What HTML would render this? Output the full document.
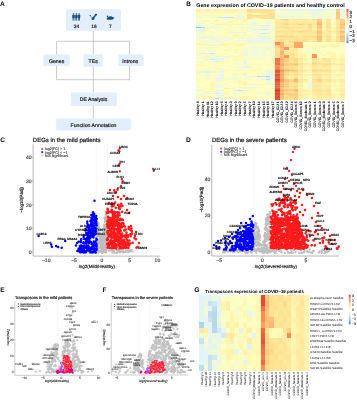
<!DOCTYPE html>
<html><head><meta charset="utf-8"><style>
html,body{margin:0;padding:0;background:#fff;}
svg{display:block;font-family:"Liberation Sans", sans-serif;will-change:transform;}
text{text-rendering:geometricPrecision;}
</style></head><body>
<svg xmlns="http://www.w3.org/2000/svg" width="357" height="400" viewBox="0 0 357 400">
<rect width="357" height="400" fill="#fff"/>
<text x="0.00" y="6.20" font-size="6.6" text-anchor="start" font-weight="bold" fill="#000">A</text>
<path d="M56.6 41.3 H129.6 M56.6 41.3 V54.5 M93.3 30.5 V54.5 M129.6 41.3 V54.5" stroke="#a6a6a6" stroke-width="0.6" fill="none"/>
<path d="M56.6 66 V79.7 H130 M129.6 66 V79.7 M93.3 67 V92.6 M93.3 106 V118.4" stroke="#a6a6a6" stroke-width="0.6" fill="none"/>
<rect x="66" y="9.3" width="55" height="21.5" rx="1.5" fill="#e2effa"/>
<rect x="43.3" y="54.4" width="26.6" height="11.6" rx="1" fill="#e2effa"/>
<rect x="83.5" y="54.3" width="19.3" height="12.5" rx="1" fill="#e2effa"/>
<rect x="118.4" y="54.5" width="25.2" height="11.4" rx="1" fill="#e2effa"/>
<rect x="70.8" y="92.6" width="46" height="13.4" rx="1" fill="#e2effa"/>
<rect x="56.2" y="118.4" width="74.6" height="11.9" rx="1" fill="#e2effa"/>
<text x="56.60" y="62.60" font-size="5.2" text-anchor="middle" fill="#222" stroke="#222" stroke-width="0.20">Genes</text>
<text x="93.20" y="62.60" font-size="5.2" text-anchor="middle" fill="#222" stroke="#222" stroke-width="0.20">TEs</text>
<text x="130.30" y="62.60" font-size="5.2" text-anchor="middle" fill="#222" stroke="#222" stroke-width="0.20">Introns</text>
<text x="93.50" y="101.40" font-size="5.2" text-anchor="middle" fill="#222" stroke="#222" stroke-width="0.20">DE Analysis</text>
<text x="93.50" y="127.00" font-size="5.2" text-anchor="middle" fill="#222" stroke="#222" stroke-width="0.20">Function Annotation</text>
<circle cx="73.5" cy="13.9" r="0.75" fill="#1d4f7a"/>
<rect x="72.25" y="14.8" width="2.5" height="3.5" rx="0.7" fill="#1d4f7a"/>
<rect x="72.65" y="17.6" width="0.75" height="3.0" fill="#1d4f7a"/><rect x="73.60" y="17.6" width="0.75" height="3.0" fill="#1d4f7a"/>
<circle cx="76.3" cy="13.9" r="0.75" fill="#1d4f7a"/>
<rect x="75.05" y="14.8" width="2.5" height="3.5" rx="0.7" fill="#1d4f7a"/>
<rect x="75.45" y="17.6" width="0.75" height="3.0" fill="#1d4f7a"/><rect x="76.40" y="17.6" width="0.75" height="3.0" fill="#1d4f7a"/>
<circle cx="79.0" cy="13.9" r="0.75" fill="#1d4f7a"/>
<rect x="77.75" y="14.8" width="2.5" height="3.5" rx="0.7" fill="#1d4f7a"/>
<rect x="78.15" y="17.6" width="0.75" height="3.0" fill="#1d4f7a"/><rect x="79.10" y="17.6" width="0.75" height="3.0" fill="#1d4f7a"/>
<ellipse cx="93.1" cy="18.5" rx="1.7" ry="1.3" transform="rotate(-45 93.1 18.5)" fill="#1d4f7a"/>
<path d="M93.6 17.6L95.6 15.2" stroke="#1d4f7a" stroke-width="1.5" stroke-linecap="round"/>
<ellipse cx="95.9" cy="14.8" rx="1.25" ry="0.95" transform="rotate(-40 95.9 14.8)" fill="#1d4f7a"/>
<path d="M90.2 15.6L91.8 17.6" stroke="#1d4f7a" stroke-width="0.7" stroke-linecap="round" opacity="0.8"/>
<circle cx="90.2" cy="15.5" r="0.6" fill="#1d4f7a"/>
<path d="M106.6 19.6C106.4 17.6 108.6 16.2 111.2 16.3L114.6 17.7L112.6 19.4C110.6 19.9 108.4 19.9 106.6 19.6Z" fill="#1d4f7a"/>
<circle cx="107.6" cy="16.4" r="0.8" fill="#1d4f7a"/>
<text x="76.40" y="27.90" font-size="4.8" text-anchor="middle" fill="#222" stroke="#222" stroke-width="0.19">34</text>
<text x="93.90" y="27.90" font-size="4.8" text-anchor="middle" fill="#222" stroke="#222" stroke-width="0.19">16</text>
<text x="110.40" y="28.20" font-size="4.8" text-anchor="middle" fill="#222" stroke="#222" stroke-width="0.19">7</text>
<text x="186.20" y="6.20" font-size="6.4" text-anchor="start" font-weight="bold" fill="#000">B</text>
<text x="196.30" y="6.90" font-size="5.3" text-anchor="start" font-weight="bold" fill="#000">Gene expression of COVID−19 patients and healthy control</text>
<g transform="translate(196.00 8.70) scale(4.6562 1.0011)" shape-rendering="crispEdges">
<path fill="#fff3ac" d="M0 0h1v1h-1zM2 0h1v1h-1zM4 1h1v1h-1zM6 1h1v1h-1zM7 1h1v1h-1zM8 1h1v1h-1zM10 1h1v1h-1zM0 2h1v1h-1zM8 2h1v1h-1zM4 11h1v1h-1zM22 11h1v1h-1zM4 12h1v1h-1zM27 14h1v1h-1zM4 15h1v1h-1zM29 18h1v1h-1zM29 19h1v1h-1zM17 20h1v1h-1zM21 20h1v1h-1zM22 20h1v1h-1zM29 21h1v1h-1zM29 23h1v1h-1zM27 24h1v1h-1zM29 27h1v1h-1zM27 29h1v1h-1zM5 35h1v1h-1zM6 35h1v1h-1zM8 35h1v1h-1zM9 35h1v1h-1zM30 36h1v1h-1zM22 43h1v1h-1zM22 45h1v1h-1zM22 46h1v1h-1zM22 47h1v1h-1zM23 50h1v1h-1zM26 51h1v1h-1zM30 54h1v1h-1zM29 56h1v1h-1zM30 56h1v1h-1zM24 57h1v1h-1zM31 58h1v1h-1zM30 61h1v1h-1zM29 62h1v1h-1zM31 63h1v1h-1zM23 65h1v1h-1zM31 65h1v1h-1zM30 66h1v1h-1zM31 66h1v1h-1zM22 67h1v1h-1zM30 71h1v1h-1zM30 72h1v1h-1zM29 73h1v1h-1zM10 74h1v1h-1zM22 74h1v1h-1zM31 74h1v1h-1zM27 75h1v1h-1zM27 76h1v1h-1zM31 76h1v1h-1zM27 78h1v1h-1zM6 79h1v1h-1zM22 79h1v1h-1zM31 79h1v1h-1zM23 80h1v1h-1zM30 80h1v1h-1zM30 81h1v1h-1zM22 82h1v1h-1zM24 84h1v1h-1zM25 86h1v1h-1zM29 86h1v1h-1zM10 87h1v1h-1zM31 87h1v1h-1zM25 88h1v1h-1zM27 88h1v1h-1zM25 89h1v1h-1zM22 90h1v1h-1zM31 90h1v1h-1z"/>
<path fill="#fffab7" d="M1 0h1v1h-1zM3 0h1v1h-1zM1 3h1v1h-1zM2 3h1v1h-1zM6 3h1v1h-1zM9 3h1v1h-1zM12 4h1v1h-1zM13 4h1v1h-1zM2 6h1v1h-1zM4 6h1v1h-1zM5 6h1v1h-1zM8 6h1v1h-1zM10 6h1v1h-1zM4 9h1v1h-1zM4 10h1v1h-1zM8 10h1v1h-1zM29 10h1v1h-1zM2 11h1v1h-1zM7 11h1v1h-1zM27 12h1v1h-1zM4 13h1v1h-1zM7 13h1v1h-1zM29 13h1v1h-1zM2 15h1v1h-1zM6 15h1v1h-1zM4 16h1v1h-1zM5 16h1v1h-1zM6 16h1v1h-1zM29 17h1v1h-1zM2 20h1v1h-1zM6 20h1v1h-1zM6 23h1v1h-1zM6 24h1v1h-1zM10 24h1v1h-1zM3 25h1v1h-1zM29 25h1v1h-1zM1 26h1v1h-1zM29 26h1v1h-1zM10 28h1v1h-1zM0 33h1v1h-1zM1 33h1v1h-1zM6 33h1v1h-1zM7 33h1v1h-1zM29 33h1v1h-1zM0 34h1v1h-1zM1 34h1v1h-1zM5 34h1v1h-1zM6 34h1v1h-1zM7 34h1v1h-1zM8 34h1v1h-1zM9 34h1v1h-1zM10 34h1v1h-1zM25 35h1v1h-1zM0 36h1v1h-1zM4 36h1v1h-1zM7 36h1v1h-1zM10 36h1v1h-1zM26 36h1v1h-1zM31 36h1v1h-1zM5 37h1v1h-1zM8 37h1v1h-1zM23 37h1v1h-1zM24 37h1v1h-1zM26 37h1v1h-1zM28 37h1v1h-1zM30 38h1v1h-1zM6 40h1v1h-1zM22 40h1v1h-1zM6 41h1v1h-1zM8 41h1v1h-1zM28 42h1v1h-1zM8 43h1v1h-1zM9 43h1v1h-1zM23 43h1v1h-1zM25 43h1v1h-1zM26 43h1v1h-1zM29 43h1v1h-1zM31 43h1v1h-1zM23 44h1v1h-1zM26 44h1v1h-1zM28 44h1v1h-1zM29 44h1v1h-1zM4 45h1v1h-1zM6 45h1v1h-1zM26 45h1v1h-1zM27 45h1v1h-1zM28 45h1v1h-1zM31 46h1v1h-1zM9 47h1v1h-1zM29 47h1v1h-1zM24 48h1v1h-1zM27 48h1v1h-1zM31 48h1v1h-1zM9 49h1v1h-1zM8 50h1v1h-1zM24 50h1v1h-1zM6 51h1v1h-1zM8 51h1v1h-1zM24 52h1v1h-1zM5 53h1v1h-1zM6 53h1v1h-1zM16 53h1v1h-1zM23 53h1v1h-1zM0 55h1v1h-1zM11 55h1v1h-1zM13 55h1v1h-1zM0 56h1v1h-1zM1 56h1v1h-1zM4 56h1v1h-1zM11 56h1v1h-1zM13 56h1v1h-1zM16 56h1v1h-1zM24 58h1v1h-1zM29 58h1v1h-1zM30 58h1v1h-1zM9 59h1v1h-1zM13 60h1v1h-1zM0 61h1v1h-1zM1 61h1v1h-1zM3 61h1v1h-1zM7 61h1v1h-1zM12 61h1v1h-1zM13 61h1v1h-1zM30 62h1v1h-1zM3 67h1v1h-1zM29 67h1v1h-1zM31 67h1v1h-1zM24 68h1v1h-1zM0 72h1v1h-1zM1 72h1v1h-1zM6 72h1v1h-1zM3 73h1v1h-1zM8 73h1v1h-1zM9 74h1v1h-1zM30 75h1v1h-1zM10 76h1v1h-1zM29 76h1v1h-1zM3 77h1v1h-1zM23 77h1v1h-1zM6 78h1v1h-1zM30 78h1v1h-1zM2 79h1v1h-1zM11 79h1v1h-1zM30 79h1v1h-1zM6 80h1v1h-1zM29 80h1v1h-1zM6 82h1v1h-1zM12 82h1v1h-1zM14 82h1v1h-1zM16 82h1v1h-1zM29 82h1v1h-1zM6 83h1v1h-1zM24 83h1v1h-1zM29 83h1v1h-1zM6 84h1v1h-1zM6 85h1v1h-1zM2 87h1v1h-1zM3 87h1v1h-1zM6 87h1v1h-1zM9 87h1v1h-1zM11 87h1v1h-1zM12 87h1v1h-1zM24 87h1v1h-1zM30 87h1v1h-1zM6 88h1v1h-1zM12 88h1v1h-1zM23 88h1v1h-1zM29 88h1v1h-1zM1 90h1v1h-1zM11 90h1v1h-1zM29 90h1v1h-1z"/>
<path fill="#fff5b0" d="M4 0h1v1h-1zM7 0h1v1h-1zM8 0h1v1h-1zM10 0h1v1h-1zM3 1h1v1h-1zM9 1h1v1h-1zM2 2h1v1h-1zM4 2h1v1h-1zM6 2h1v1h-1zM0 3h1v1h-1zM8 3h1v1h-1zM10 10h1v1h-1zM27 10h1v1h-1zM10 11h1v1h-1zM10 12h1v1h-1zM27 13h1v1h-1zM5 15h1v1h-1zM8 15h1v1h-1zM9 15h1v1h-1zM29 15h1v1h-1zM27 17h1v1h-1zM27 18h1v1h-1zM25 20h1v1h-1zM27 21h1v1h-1zM8 26h1v1h-1zM8 28h1v1h-1zM29 29h1v1h-1zM29 31h1v1h-1zM0 35h1v1h-1zM1 35h1v1h-1zM2 35h1v1h-1zM3 35h1v1h-1zM7 35h1v1h-1zM10 35h1v1h-1zM30 35h1v1h-1zM9 36h1v1h-1zM25 36h1v1h-1zM29 36h1v1h-1zM27 37h1v1h-1zM29 37h1v1h-1zM30 37h1v1h-1zM2 47h1v1h-1zM29 48h1v1h-1zM23 49h1v1h-1zM30 49h1v1h-1zM30 50h1v1h-1zM23 51h1v1h-1zM29 51h1v1h-1zM23 52h1v1h-1zM29 52h1v1h-1zM31 53h1v1h-1zM24 54h1v1h-1zM23 56h1v1h-1zM24 56h1v1h-1zM23 57h1v1h-1zM30 57h1v1h-1zM30 59h1v1h-1zM23 60h1v1h-1zM24 60h1v1h-1zM24 62h1v1h-1zM23 63h1v1h-1zM24 63h1v1h-1zM29 63h1v1h-1zM22 64h1v1h-1zM28 64h1v1h-1zM24 65h1v1h-1zM30 65h1v1h-1zM23 66h1v1h-1zM24 66h1v1h-1zM29 66h1v1h-1zM27 67h1v1h-1zM22 69h1v1h-1zM27 69h1v1h-1zM9 72h1v1h-1zM10 73h1v1h-1zM28 74h1v1h-1zM29 77h1v1h-1zM30 77h1v1h-1zM22 78h1v1h-1zM31 78h1v1h-1zM3 79h1v1h-1zM29 81h1v1h-1zM2 82h1v1h-1zM23 82h1v1h-1zM24 82h1v1h-1zM22 83h1v1h-1zM31 83h1v1h-1zM23 84h1v1h-1zM24 85h1v1h-1zM30 85h1v1h-1zM23 86h1v1h-1zM7 87h1v1h-1zM25 87h1v1h-1zM29 87h1v1h-1zM7 88h1v1h-1zM27 89h1v1h-1zM31 89h1v1h-1z"/>
<path fill="#fff8b4" d="M5 0h1v1h-1zM6 0h1v1h-1zM9 0h1v1h-1zM1 1h1v1h-1zM5 1h1v1h-1zM1 2h1v1h-1zM3 2h1v1h-1zM5 2h1v1h-1zM7 2h1v1h-1zM9 2h1v1h-1zM10 2h1v1h-1zM3 3h1v1h-1zM4 3h1v1h-1zM5 3h1v1h-1zM7 3h1v1h-1zM10 3h1v1h-1zM11 4h1v1h-1zM12 5h1v1h-1zM13 5h1v1h-1zM14 5h1v1h-1zM8 9h1v1h-1zM10 9h1v1h-1zM12 9h1v1h-1zM13 9h1v1h-1zM8 11h1v1h-1zM27 11h1v1h-1zM2 12h1v1h-1zM7 12h1v1h-1zM29 14h1v1h-1zM7 15h1v1h-1zM10 15h1v1h-1zM27 16h1v1h-1zM27 19h1v1h-1zM29 20h1v1h-1zM29 24h1v1h-1zM8 25h1v1h-1zM10 25h1v1h-1zM10 26h1v1h-1zM29 28h1v1h-1zM27 31h1v1h-1zM8 33h1v1h-1zM30 34h1v1h-1zM4 35h1v1h-1zM29 35h1v1h-1zM3 36h1v1h-1zM5 36h1v1h-1zM6 36h1v1h-1zM8 36h1v1h-1zM23 36h1v1h-1zM27 36h1v1h-1zM28 36h1v1h-1zM6 37h1v1h-1zM9 37h1v1h-1zM25 37h1v1h-1zM25 38h1v1h-1zM26 38h1v1h-1zM27 38h1v1h-1zM29 38h1v1h-1zM8 40h1v1h-1zM22 41h1v1h-1zM8 42h1v1h-1zM22 42h1v1h-1zM28 43h1v1h-1zM22 44h1v1h-1zM2 45h1v1h-1zM23 45h1v1h-1zM29 45h1v1h-1zM31 45h1v1h-1zM23 46h1v1h-1zM27 46h1v1h-1zM29 46h1v1h-1zM8 47h1v1h-1zM31 47h1v1h-1zM22 48h1v1h-1zM8 49h1v1h-1zM24 49h1v1h-1zM2 51h1v1h-1zM5 51h1v1h-1zM30 51h1v1h-1zM29 53h1v1h-1zM4 57h1v1h-1zM29 57h1v1h-1zM23 58h1v1h-1zM23 59h1v1h-1zM24 59h1v1h-1zM29 59h1v1h-1zM29 60h1v1h-1zM30 60h1v1h-1zM6 61h1v1h-1zM8 61h1v1h-1zM9 61h1v1h-1zM11 61h1v1h-1zM27 64h1v1h-1zM29 65h1v1h-1zM23 67h1v1h-1zM30 67h1v1h-1zM23 68h1v1h-1zM29 68h1v1h-1zM30 68h1v1h-1zM31 68h1v1h-1zM9 71h1v1h-1zM10 72h1v1h-1zM9 73h1v1h-1zM23 73h1v1h-1zM30 73h1v1h-1zM3 74h1v1h-1zM27 74h1v1h-1zM3 75h1v1h-1zM9 75h1v1h-1zM10 75h1v1h-1zM29 75h1v1h-1zM3 76h1v1h-1zM3 78h1v1h-1zM7 79h1v1h-1zM10 79h1v1h-1zM3 82h1v1h-1zM10 82h1v1h-1zM23 83h1v1h-1zM29 84h1v1h-1zM30 84h1v1h-1zM24 86h1v1h-1zM1 87h1v1h-1zM23 87h1v1h-1zM2 88h1v1h-1zM9 88h1v1h-1zM11 88h1v1h-1zM10 89h1v1h-1zM10 90h1v1h-1z"/>
<path fill="#fedd8e" d="M11 0h1v1h-1zM15 1h1v1h-1zM16 4h1v1h-1zM16 5h1v1h-1zM11 6h1v1h-1zM12 6h1v1h-1zM13 6h1v1h-1zM14 6h1v1h-1zM16 6h1v1h-1zM16 9h1v1h-1zM24 16h1v1h-1zM24 17h1v1h-1zM24 18h1v1h-1zM26 20h1v1h-1zM31 20h1v1h-1zM22 22h1v1h-1zM23 22h1v1h-1zM30 22h1v1h-1zM19 27h1v1h-1zM21 27h1v1h-1zM23 27h1v1h-1zM24 27h1v1h-1zM25 27h1v1h-1zM28 27h1v1h-1zM18 30h1v1h-1zM21 30h1v1h-1zM17 32h1v1h-1zM23 32h1v1h-1zM20 37h1v1h-1zM17 38h1v1h-1zM17 43h1v1h-1zM17 45h1v1h-1zM17 46h1v1h-1zM21 49h1v1h-1zM20 50h1v1h-1zM21 52h1v1h-1zM25 55h1v1h-1zM28 55h1v1h-1zM19 57h1v1h-1zM20 59h1v1h-1zM21 59h1v1h-1zM20 60h1v1h-1zM27 61h1v1h-1zM28 61h1v1h-1zM21 63h1v1h-1zM21 65h1v1h-1zM21 66h1v1h-1zM21 68h1v1h-1zM21 69h1v1h-1zM20 70h1v1h-1zM25 70h1v1h-1zM26 72h1v1h-1zM21 75h1v1h-1zM21 78h1v1h-1zM19 79h1v1h-1zM21 79h1v1h-1zM19 83h1v1h-1zM19 87h1v1h-1zM19 88h1v1h-1zM20 88h1v1h-1z"/>
<path fill="#fee192" d="M12 0h1v1h-1zM13 0h1v1h-1zM15 0h1v1h-1zM12 1h1v1h-1zM13 1h1v1h-1zM14 1h1v1h-1zM11 2h1v1h-1zM12 2h1v1h-1zM13 2h1v1h-1zM15 2h1v1h-1zM11 3h1v1h-1zM13 3h1v1h-1zM15 4h1v1h-1zM11 5h1v1h-1zM15 5h1v1h-1zM15 6h1v1h-1zM11 7h1v1h-1zM13 7h1v1h-1zM14 7h1v1h-1zM16 7h1v1h-1zM13 8h1v1h-1zM11 9h1v1h-1zM14 9h1v1h-1zM15 9h1v1h-1zM19 14h1v1h-1zM18 15h1v1h-1zM23 15h1v1h-1zM28 15h1v1h-1zM19 18h1v1h-1zM19 19h1v1h-1zM24 19h1v1h-1zM30 19h1v1h-1zM24 21h1v1h-1zM17 22h1v1h-1zM18 22h1v1h-1zM19 22h1v1h-1zM20 22h1v1h-1zM24 22h1v1h-1zM17 23h1v1h-1zM18 23h1v1h-1zM20 23h1v1h-1zM22 23h1v1h-1zM30 23h1v1h-1zM30 27h1v1h-1zM19 28h1v1h-1zM20 28h1v1h-1zM25 28h1v1h-1zM23 29h1v1h-1zM20 30h1v1h-1zM22 30h1v1h-1zM23 30h1v1h-1zM28 30h1v1h-1zM18 31h1v1h-1zM22 32h1v1h-1zM28 32h1v1h-1zM30 32h1v1h-1zM17 39h1v1h-1zM17 41h1v1h-1zM17 42h1v1h-1zM17 44h1v1h-1zM19 45h1v1h-1zM20 45h1v1h-1zM20 49h1v1h-1zM25 50h1v1h-1zM20 52h1v1h-1zM19 53h1v1h-1zM21 53h1v1h-1zM27 54h1v1h-1zM28 54h1v1h-1zM22 55h1v1h-1zM27 55h1v1h-1zM20 57h1v1h-1zM21 57h1v1h-1zM20 58h1v1h-1zM21 60h1v1h-1zM22 61h1v1h-1zM26 61h1v1h-1zM19 66h1v1h-1zM28 70h1v1h-1zM20 73h1v1h-1zM26 73h1v1h-1zM21 74h1v1h-1zM20 77h1v1h-1zM20 79h1v1h-1zM25 81h1v1h-1zM26 81h1v1h-1zM28 81h1v1h-1zM28 85h1v1h-1zM19 86h1v1h-1zM19 89h1v1h-1zM20 89h1v1h-1zM19 90h1v1h-1zM20 90h1v1h-1z"/>
<path fill="#fee496" d="M14 0h1v1h-1zM16 1h1v1h-1zM14 2h1v1h-1zM16 2h1v1h-1zM12 3h1v1h-1zM14 3h1v1h-1zM15 3h1v1h-1zM16 3h1v1h-1zM14 4h1v1h-1zM12 7h1v1h-1zM15 7h1v1h-1zM11 8h1v1h-1zM12 8h1v1h-1zM14 8h1v1h-1zM15 8h1v1h-1zM16 8h1v1h-1zM18 10h1v1h-1zM21 10h1v1h-1zM22 10h1v1h-1zM25 10h1v1h-1zM23 14h1v1h-1zM24 14h1v1h-1zM28 14h1v1h-1zM20 15h1v1h-1zM21 15h1v1h-1zM25 15h1v1h-1zM28 16h1v1h-1zM19 17h1v1h-1zM17 18h1v1h-1zM18 18h1v1h-1zM20 18h1v1h-1zM22 18h1v1h-1zM28 18h1v1h-1zM30 18h1v1h-1zM20 19h1v1h-1zM18 21h1v1h-1zM21 22h1v1h-1zM25 22h1v1h-1zM28 22h1v1h-1zM19 23h1v1h-1zM23 23h1v1h-1zM24 23h1v1h-1zM25 23h1v1h-1zM18 26h1v1h-1zM18 28h1v1h-1zM21 28h1v1h-1zM23 28h1v1h-1zM24 28h1v1h-1zM28 28h1v1h-1zM30 28h1v1h-1zM18 29h1v1h-1zM20 29h1v1h-1zM28 29h1v1h-1zM19 30h1v1h-1zM30 30h1v1h-1zM23 31h1v1h-1zM28 31h1v1h-1zM30 31h1v1h-1zM25 32h1v1h-1zM20 33h1v1h-1zM20 35h1v1h-1zM20 36h1v1h-1zM20 38h1v1h-1zM17 40h1v1h-1zM20 44h1v1h-1zM17 47h1v1h-1zM17 48h1v1h-1zM27 50h1v1h-1zM20 51h1v1h-1zM25 51h1v1h-1zM25 52h1v1h-1zM20 53h1v1h-1zM22 54h1v1h-1zM26 54h1v1h-1zM26 55h1v1h-1zM25 56h1v1h-1zM27 56h1v1h-1zM28 56h1v1h-1zM19 58h1v1h-1zM21 58h1v1h-1zM25 60h1v1h-1zM25 62h1v1h-1zM26 62h1v1h-1zM28 62h1v1h-1zM20 63h1v1h-1zM19 64h1v1h-1zM20 65h1v1h-1zM26 65h1v1h-1zM26 66h1v1h-1zM19 68h1v1h-1zM22 70h1v1h-1zM27 70h1v1h-1zM25 71h1v1h-1zM28 71h1v1h-1zM25 72h1v1h-1zM20 75h1v1h-1zM20 76h1v1h-1zM21 76h1v1h-1zM25 77h1v1h-1zM25 80h1v1h-1zM28 80h1v1h-1zM20 82h1v1h-1zM26 85h1v1h-1z"/>
<path fill="#fee699" d="M16 0h1v1h-1zM23 10h1v1h-1zM28 10h1v1h-1zM30 10h1v1h-1zM19 11h1v1h-1zM19 13h1v1h-1zM23 13h1v1h-1zM24 13h1v1h-1zM28 13h1v1h-1zM18 14h1v1h-1zM21 14h1v1h-1zM22 14h1v1h-1zM30 15h1v1h-1zM18 17h1v1h-1zM28 17h1v1h-1zM30 17h1v1h-1zM22 19h1v1h-1zM20 21h1v1h-1zM23 21h1v1h-1zM30 21h1v1h-1zM21 23h1v1h-1zM28 23h1v1h-1zM30 24h1v1h-1zM19 25h1v1h-1zM20 25h1v1h-1zM30 25h1v1h-1zM19 26h1v1h-1zM20 26h1v1h-1zM28 26h1v1h-1zM30 26h1v1h-1zM22 27h1v1h-1zM17 28h1v1h-1zM19 29h1v1h-1zM21 29h1v1h-1zM22 29h1v1h-1zM24 29h1v1h-1zM30 29h1v1h-1zM17 30h1v1h-1zM24 30h1v1h-1zM25 30h1v1h-1zM17 31h1v1h-1zM20 31h1v1h-1zM21 31h1v1h-1zM22 31h1v1h-1zM19 36h1v1h-1zM19 37h1v1h-1zM21 40h1v1h-1zM19 43h1v1h-1zM20 43h1v1h-1zM21 45h1v1h-1zM20 46h1v1h-1zM20 47h1v1h-1zM20 48h1v1h-1zM22 49h1v1h-1zM27 49h1v1h-1zM22 50h1v1h-1zM28 50h1v1h-1zM27 51h1v1h-1zM28 51h1v1h-1zM28 52h1v1h-1zM22 56h1v1h-1zM27 57h1v1h-1zM26 60h1v1h-1zM28 60h1v1h-1zM22 62h1v1h-1zM27 62h1v1h-1zM25 65h1v1h-1zM20 66h1v1h-1zM25 66h1v1h-1zM21 67h1v1h-1zM26 67h1v1h-1zM26 68h1v1h-1zM22 72h1v1h-1zM28 72h1v1h-1zM25 73h1v1h-1zM20 74h1v1h-1zM26 77h1v1h-1zM28 77h1v1h-1zM20 78h1v1h-1zM26 80h1v1h-1zM27 81h1v1h-1zM26 82h1v1h-1zM28 82h1v1h-1zM20 83h1v1h-1zM26 84h1v1h-1zM28 84h1v1h-1zM31 85h1v1h-1z"/>
<path fill="#eef8df" d="M17 0h1v1h-1zM20 0h1v1h-1zM22 0h1v1h-1zM23 0h1v1h-1zM28 0h1v1h-1zM17 1h1v1h-1zM19 1h1v1h-1zM20 1h1v1h-1zM21 1h1v1h-1zM22 1h1v1h-1zM24 1h1v1h-1zM29 1h1v1h-1zM24 2h1v1h-1zM27 2h1v1h-1zM31 3h1v1h-1zM31 4h1v1h-1zM31 5h1v1h-1zM25 6h1v1h-1zM0 7h1v1h-1zM20 7h1v1h-1zM22 7h1v1h-1zM28 7h1v1h-1zM0 8h1v1h-1zM26 8h1v1h-1zM20 9h1v1h-1zM12 14h1v1h-1zM15 17h1v1h-1zM11 18h1v1h-1zM14 18h1v1h-1zM15 18h1v1h-1zM0 22h1v1h-1zM9 23h1v1h-1zM13 26h1v1h-1zM3 27h1v1h-1zM4 27h1v1h-1zM0 29h1v1h-1zM1 29h1v1h-1zM4 29h1v1h-1zM7 29h1v1h-1zM12 29h1v1h-1zM3 30h1v1h-1zM14 30h1v1h-1zM12 31h1v1h-1zM11 32h1v1h-1zM12 33h1v1h-1zM16 34h1v1h-1zM1 36h1v1h-1zM2 36h1v1h-1zM2 38h1v1h-1zM4 38h1v1h-1zM16 38h1v1h-1zM15 39h1v1h-1zM12 41h1v1h-1zM12 43h1v1h-1zM13 44h1v1h-1zM3 46h1v1h-1zM5 47h1v1h-1zM7 47h1v1h-1zM2 48h1v1h-1zM16 48h1v1h-1zM2 49h1v1h-1zM2 50h1v1h-1zM16 62h1v1h-1zM5 63h1v1h-1zM9 65h1v1h-1zM16 66h1v1h-1zM5 67h1v1h-1zM15 71h1v1h-1zM15 74h1v1h-1zM24 74h1v1h-1zM15 75h1v1h-1zM24 76h1v1h-1zM24 78h1v1h-1zM4 80h1v1h-1zM4 83h1v1h-1zM5 84h1v1h-1zM8 86h1v1h-1zM1 88h1v1h-1zM4 90h1v1h-1z"/>
<path fill="#f0f9da" d="M18 0h1v1h-1zM29 0h1v1h-1zM23 1h1v1h-1zM20 2h1v1h-1zM21 2h1v1h-1zM26 3h1v1h-1zM22 4h1v1h-1zM18 5h1v1h-1zM21 5h1v1h-1zM22 5h1v1h-1zM26 5h1v1h-1zM22 6h1v1h-1zM6 7h1v1h-1zM7 7h1v1h-1zM17 7h1v1h-1zM21 7h1v1h-1zM23 7h1v1h-1zM24 7h1v1h-1zM29 7h1v1h-1zM3 8h1v1h-1zM18 8h1v1h-1zM29 9h1v1h-1zM6 10h1v1h-1zM1 11h1v1h-1zM3 14h1v1h-1zM0 16h1v1h-1zM12 17h1v1h-1zM14 17h1v1h-1zM16 17h1v1h-1zM3 18h1v1h-1zM4 18h1v1h-1zM5 18h1v1h-1zM12 18h1v1h-1zM11 19h1v1h-1zM13 21h1v1h-1zM14 21h1v1h-1zM13 23h1v1h-1zM13 25h1v1h-1zM1 27h1v1h-1zM2 27h1v1h-1zM6 27h1v1h-1zM11 27h1v1h-1zM13 28h1v1h-1zM14 28h1v1h-1zM15 28h1v1h-1zM9 29h1v1h-1zM11 29h1v1h-1zM16 29h1v1h-1zM7 30h1v1h-1zM11 30h1v1h-1zM12 30h1v1h-1zM13 30h1v1h-1zM15 30h1v1h-1zM3 32h1v1h-1zM9 32h1v1h-1zM14 32h1v1h-1zM13 33h1v1h-1zM14 33h1v1h-1zM13 34h1v1h-1zM0 38h1v1h-1zM3 38h1v1h-1zM14 38h1v1h-1zM14 39h1v1h-1zM12 40h1v1h-1zM10 41h1v1h-1zM14 41h1v1h-1zM12 42h1v1h-1zM11 44h1v1h-1zM14 44h1v1h-1zM0 46h1v1h-1zM10 46h1v1h-1zM11 46h1v1h-1zM12 46h1v1h-1zM10 53h1v1h-1zM3 54h1v1h-1zM10 55h1v1h-1zM15 61h1v1h-1zM5 64h1v1h-1zM5 65h1v1h-1zM4 66h1v1h-1zM2 69h1v1h-1zM7 69h1v1h-1zM8 69h1v1h-1zM10 69h1v1h-1zM16 71h1v1h-1zM15 72h1v1h-1zM15 73h1v1h-1zM16 73h1v1h-1zM24 75h1v1h-1zM4 76h1v1h-1zM4 77h1v1h-1zM5 77h1v1h-1zM1 86h1v1h-1zM0 88h1v1h-1zM8 89h1v1h-1zM5 90h1v1h-1z"/>
<path fill="#ebf7e3" d="M19 0h1v1h-1zM25 0h1v1h-1zM31 2h1v1h-1zM25 3h1v1h-1zM9 4h1v1h-1zM25 4h1v1h-1zM25 5h1v1h-1zM9 7h1v1h-1zM18 7h1v1h-1zM19 7h1v1h-1zM25 7h1v1h-1zM31 7h1v1h-1zM1 14h1v1h-1zM15 14h1v1h-1zM1 17h1v1h-1zM1 19h1v1h-1zM0 27h1v1h-1zM14 27h1v1h-1zM3 29h1v1h-1zM14 29h1v1h-1zM15 29h1v1h-1zM9 31h1v1h-1zM10 31h1v1h-1zM13 31h1v1h-1zM15 31h1v1h-1zM2 33h1v1h-1zM11 33h1v1h-1zM16 33h1v1h-1zM12 34h1v1h-1zM15 38h1v1h-1zM12 39h1v1h-1zM2 44h1v1h-1zM12 44h1v1h-1zM4 47h1v1h-1zM5 50h1v1h-1zM11 57h1v1h-1zM3 62h1v1h-1zM15 62h1v1h-1zM16 63h1v1h-1zM13 64h1v1h-1zM16 64h1v1h-1zM15 65h1v1h-1zM16 65h1v1h-1zM16 67h1v1h-1zM5 68h1v1h-1zM5 69h1v1h-1zM24 69h1v1h-1zM4 71h1v1h-1zM12 75h1v1h-1zM24 79h1v1h-1zM0 81h1v1h-1zM2 84h1v1h-1zM14 84h1v1h-1zM4 88h1v1h-1zM6 89h1v1h-1z"/>
<path fill="#e9f6e8" d="M21 0h1v1h-1zM24 0h1v1h-1zM27 1h1v1h-1zM26 2h1v1h-1zM26 7h1v1h-1zM26 9h1v1h-1zM11 15h1v1h-1zM0 20h1v1h-1zM1 23h1v1h-1zM13 27h1v1h-1zM15 27h1v1h-1zM13 29h1v1h-1zM3 31h1v1h-1zM4 31h1v1h-1zM14 31h1v1h-1zM3 33h1v1h-1zM4 33h1v1h-1zM5 33h1v1h-1zM12 38h1v1h-1zM0 44h1v1h-1zM10 44h1v1h-1zM6 47h1v1h-1zM4 49h1v1h-1zM5 49h1v1h-1zM10 51h1v1h-1zM9 58h1v1h-1zM11 58h1v1h-1zM5 62h1v1h-1zM3 63h1v1h-1zM15 63h1v1h-1zM15 64h1v1h-1zM15 66h1v1h-1zM12 67h1v1h-1zM4 69h1v1h-1zM4 70h1v1h-1zM16 70h1v1h-1zM11 75h1v1h-1zM9 78h1v1h-1zM10 78h1v1h-1zM11 78h1v1h-1zM12 78h1v1h-1zM4 81h1v1h-1zM5 81h1v1h-1zM3 84h1v1h-1zM7 89h1v1h-1z"/>
<path fill="#ddf1f7" d="M26 0h1v1h-1zM31 0h1v1h-1zM14 16h1v1h-1zM12 20h1v1h-1zM13 20h1v1h-1zM15 24h1v1h-1zM1 44h1v1h-1zM3 52h1v1h-1zM2 63h1v1h-1zM10 65h1v1h-1z"/>
<path fill="#e4f4f1" d="M27 0h1v1h-1zM25 1h1v1h-1zM12 15h1v1h-1zM0 17h1v1h-1zM2 18h1v1h-1zM0 19h1v1h-1zM8 23h1v1h-1zM1 28h1v1h-1zM2 28h1v1h-1zM3 48h1v1h-1zM1 62h1v1h-1zM1 63h1v1h-1zM14 64h1v1h-1zM15 68h1v1h-1zM11 81h1v1h-1z"/>
<path fill="#fdc981" d="M30 0h1v1h-1zM30 5h1v1h-1zM30 8h1v1h-1zM30 9h1v1h-1zM26 10h1v1h-1zM31 10h1v1h-1zM26 12h1v1h-1zM26 16h1v1h-1zM26 17h1v1h-1zM26 19h1v1h-1zM31 23h1v1h-1zM26 24h1v1h-1zM31 29h1v1h-1zM26 31h1v1h-1zM31 31h1v1h-1zM26 32h1v1h-1zM17 36h1v1h-1zM18 39h1v1h-1zM19 50h1v1h-1zM19 52h1v1h-1zM19 55h1v1h-1zM19 60h1v1h-1zM21 61h1v1h-1zM19 62h1v1h-1zM19 73h1v1h-1zM18 74h1v1h-1zM19 77h1v1h-1zM18 79h1v1h-1zM19 80h1v1h-1zM19 81h1v1h-1zM21 82h1v1h-1zM18 83h1v1h-1zM20 85h1v1h-1zM21 85h1v1h-1zM18 89h1v1h-1zM21 90h1v1h-1z"/>
<path fill="#fff0a8" d="M0 1h1v1h-1zM2 1h1v1h-1zM17 11h1v1h-1zM20 11h1v1h-1zM17 12h1v1h-1zM20 12h1v1h-1zM27 15h1v1h-1zM25 19h1v1h-1zM18 20h1v1h-1zM23 20h1v1h-1zM28 20h1v1h-1zM21 25h1v1h-1zM27 25h1v1h-1zM27 26h1v1h-1zM27 28h1v1h-1zM27 30h1v1h-1zM29 30h1v1h-1zM24 31h1v1h-1zM29 32h1v1h-1zM21 47h1v1h-1zM26 49h1v1h-1zM29 49h1v1h-1zM31 49h1v1h-1zM31 51h1v1h-1zM31 52h1v1h-1zM22 53h1v1h-1zM31 56h1v1h-1zM31 57h1v1h-1zM26 58h1v1h-1zM31 59h1v1h-1zM31 60h1v1h-1zM24 61h1v1h-1zM29 61h1v1h-1zM23 62h1v1h-1zM31 62h1v1h-1zM25 64h1v1h-1zM26 64h1v1h-1zM28 67h1v1h-1zM22 68h1v1h-1zM25 69h1v1h-1zM28 69h1v1h-1zM30 70h1v1h-1zM29 71h1v1h-1zM23 72h1v1h-1zM29 72h1v1h-1zM28 73h1v1h-1zM25 74h1v1h-1zM28 75h1v1h-1zM22 76h1v1h-1zM28 76h1v1h-1zM31 77h1v1h-1zM28 78h1v1h-1zM27 79h1v1h-1zM22 80h1v1h-1zM24 81h1v1h-1zM31 82h1v1h-1zM25 83h1v1h-1zM22 84h1v1h-1zM29 85h1v1h-1zM27 86h1v1h-1zM31 86h1v1h-1zM27 87h1v1h-1zM10 88h1v1h-1zM31 88h1v1h-1zM22 89h1v1h-1zM26 89h1v1h-1zM27 90h1v1h-1zM28 90h1v1h-1z"/>
<path fill="#fed689" d="M11 1h1v1h-1zM19 10h1v1h-1zM26 11h1v1h-1zM31 11h1v1h-1zM31 12h1v1h-1zM19 15h1v1h-1zM31 21h1v1h-1zM31 25h1v1h-1zM17 27h1v1h-1zM20 27h1v1h-1zM18 32h1v1h-1zM20 32h1v1h-1zM21 32h1v1h-1zM21 50h1v1h-1zM19 51h1v1h-1zM25 54h1v1h-1zM20 56h1v1h-1zM21 56h1v1h-1zM19 59h1v1h-1zM25 61h1v1h-1zM20 62h1v1h-1zM21 62h1v1h-1zM19 63h1v1h-1zM19 65h1v1h-1zM20 71h1v1h-1zM26 71h1v1h-1zM20 72h1v1h-1zM19 74h1v1h-1zM19 76h1v1h-1zM21 77h1v1h-1zM19 78h1v1h-1zM20 80h1v1h-1zM19 82h1v1h-1zM21 83h1v1h-1zM20 84h1v1h-1zM20 87h1v1h-1zM21 87h1v1h-1zM21 89h1v1h-1z"/>
<path fill="#f3fad6" d="M18 1h1v1h-1zM28 1h1v1h-1zM19 2h1v1h-1zM22 2h1v1h-1zM28 2h1v1h-1zM29 2h1v1h-1zM24 3h1v1h-1zM27 3h1v1h-1zM1 4h1v1h-1zM3 4h1v1h-1zM6 4h1v1h-1zM19 4h1v1h-1zM21 4h1v1h-1zM26 4h1v1h-1zM9 5h1v1h-1zM19 5h1v1h-1zM20 5h1v1h-1zM18 6h1v1h-1zM19 6h1v1h-1zM21 6h1v1h-1zM26 6h1v1h-1zM31 6h1v1h-1zM17 8h1v1h-1zM19 8h1v1h-1zM20 8h1v1h-1zM21 8h1v1h-1zM23 8h1v1h-1zM25 8h1v1h-1zM28 8h1v1h-1zM31 8h1v1h-1zM9 9h1v1h-1zM18 9h1v1h-1zM25 9h1v1h-1zM31 9h1v1h-1zM15 10h1v1h-1zM3 13h1v1h-1zM11 13h1v1h-1zM12 13h1v1h-1zM15 13h1v1h-1zM0 14h1v1h-1zM11 14h1v1h-1zM16 14h1v1h-1zM1 16h1v1h-1zM3 16h1v1h-1zM11 17h1v1h-1zM9 18h1v1h-1zM13 18h1v1h-1zM16 18h1v1h-1zM12 19h1v1h-1zM13 19h1v1h-1zM15 19h1v1h-1zM16 19h1v1h-1zM8 21h1v1h-1zM11 21h1v1h-1zM11 22h1v1h-1zM12 22h1v1h-1zM13 22h1v1h-1zM14 22h1v1h-1zM16 22h1v1h-1zM0 23h1v1h-1zM14 23h1v1h-1zM13 24h1v1h-1zM15 26h1v1h-1zM7 27h1v1h-1zM12 27h1v1h-1zM16 27h1v1h-1zM3 28h1v1h-1zM2 29h1v1h-1zM6 29h1v1h-1zM4 30h1v1h-1zM0 31h1v1h-1zM2 31h1v1h-1zM5 31h1v1h-1zM6 31h1v1h-1zM4 32h1v1h-1zM12 32h1v1h-1zM13 32h1v1h-1zM15 32h1v1h-1zM15 33h1v1h-1zM11 34h1v1h-1zM14 34h1v1h-1zM1 38h1v1h-1zM10 38h1v1h-1zM2 39h1v1h-1zM3 39h1v1h-1zM13 39h1v1h-1zM16 39h1v1h-1zM2 41h1v1h-1zM11 41h1v1h-1zM13 41h1v1h-1zM10 42h1v1h-1zM14 42h1v1h-1zM10 43h1v1h-1zM14 43h1v1h-1zM16 44h1v1h-1zM0 45h1v1h-1zM3 45h1v1h-1zM13 45h1v1h-1zM16 45h1v1h-1zM13 46h1v1h-1zM14 46h1v1h-1zM16 46h1v1h-1zM11 49h1v1h-1zM4 54h1v1h-1zM10 56h1v1h-1zM5 60h1v1h-1zM5 61h1v1h-1zM16 61h1v1h-1zM10 63h1v1h-1zM10 64h1v1h-1zM2 65h1v1h-1zM4 65h1v1h-1zM2 66h1v1h-1zM2 68h1v1h-1zM4 68h1v1h-1zM8 68h1v1h-1zM6 69h1v1h-1zM14 69h1v1h-1zM5 70h1v1h-1zM7 70h1v1h-1zM8 70h1v1h-1zM16 72h1v1h-1zM16 74h1v1h-1zM16 75h1v1h-1zM4 78h1v1h-1zM5 78h1v1h-1zM0 80h1v1h-1zM5 80h1v1h-1zM8 80h1v1h-1zM9 80h1v1h-1zM1 81h1v1h-1zM4 82h1v1h-1zM5 83h1v1h-1zM5 85h1v1h-1zM0 86h1v1h-1zM9 86h1v1h-1zM4 87h1v1h-1zM8 90h1v1h-1z"/>
<path fill="#e1f3f6" d="M26 1h1v1h-1zM31 1h1v1h-1zM1 21h1v1h-1zM1 22h1v1h-1zM1 48h1v1h-1zM4 50h1v1h-1zM2 62h1v1h-1zM0 63h1v1h-1zM14 70h1v1h-1zM8 81h1v1h-1zM15 84h1v1h-1z"/>
<path fill="#fecf85" d="M30 1h1v1h-1zM30 2h1v1h-1zM30 6h1v1h-1zM30 7h1v1h-1zM31 13h1v1h-1zM31 14h1v1h-1zM22 15h1v1h-1zM24 15h1v1h-1zM31 16h1v1h-1zM31 17h1v1h-1zM31 19h1v1h-1zM26 21h1v1h-1zM31 24h1v1h-1zM26 25h1v1h-1zM26 26h1v1h-1zM31 26h1v1h-1zM18 27h1v1h-1zM17 37h1v1h-1zM19 49h1v1h-1zM21 51h1v1h-1zM19 54h1v1h-1zM20 54h1v1h-1zM21 54h1v1h-1zM20 55h1v1h-1zM19 56h1v1h-1zM26 70h1v1h-1zM21 73h1v1h-1zM19 75h1v1h-1zM20 81h1v1h-1zM19 84h1v1h-1zM21 84h1v1h-1zM19 85h1v1h-1zM20 86h1v1h-1zM21 86h1v1h-1zM21 88h1v1h-1z"/>
<path fill="#f5fbd1" d="M17 2h1v1h-1zM18 2h1v1h-1zM23 2h1v1h-1zM18 3h1v1h-1zM21 3h1v1h-1zM22 3h1v1h-1zM2 4h1v1h-1zM7 4h1v1h-1zM18 4h1v1h-1zM27 4h1v1h-1zM29 4h1v1h-1zM17 5h1v1h-1zM23 5h1v1h-1zM27 5h1v1h-1zM29 5h1v1h-1zM9 6h1v1h-1zM17 6h1v1h-1zM3 7h1v1h-1zM27 7h1v1h-1zM2 8h1v1h-1zM4 8h1v1h-1zM22 8h1v1h-1zM29 8h1v1h-1zM17 9h1v1h-1zM22 9h1v1h-1zM23 9h1v1h-1zM24 9h1v1h-1zM27 9h1v1h-1zM9 10h1v1h-1zM11 10h1v1h-1zM12 10h1v1h-1zM1 12h1v1h-1zM0 13h1v1h-1zM1 13h1v1h-1zM16 13h1v1h-1zM12 16h1v1h-1zM16 16h1v1h-1zM3 17h1v1h-1zM4 17h1v1h-1zM7 17h1v1h-1zM13 17h1v1h-1zM7 18h1v1h-1zM3 19h1v1h-1zM4 19h1v1h-1zM14 19h1v1h-1zM4 20h1v1h-1zM11 20h1v1h-1zM16 20h1v1h-1zM5 21h1v1h-1zM7 21h1v1h-1zM12 21h1v1h-1zM15 21h1v1h-1zM16 21h1v1h-1zM15 22h1v1h-1zM12 23h1v1h-1zM16 23h1v1h-1zM0 24h1v1h-1zM1 24h1v1h-1zM14 26h1v1h-1zM5 27h1v1h-1zM9 28h1v1h-1zM5 29h1v1h-1zM10 29h1v1h-1zM1 31h1v1h-1zM8 31h1v1h-1zM16 31h1v1h-1zM2 32h1v1h-1zM5 32h1v1h-1zM16 32h1v1h-1zM16 36h1v1h-1zM12 37h1v1h-1zM15 37h1v1h-1zM16 37h1v1h-1zM7 38h1v1h-1zM11 38h1v1h-1zM13 38h1v1h-1zM1 39h1v1h-1zM7 39h1v1h-1zM11 39h1v1h-1zM14 40h1v1h-1zM15 41h1v1h-1zM16 42h1v1h-1zM13 43h1v1h-1zM16 43h1v1h-1zM10 45h1v1h-1zM12 45h1v1h-1zM14 45h1v1h-1zM7 46h1v1h-1zM6 48h1v1h-1zM10 48h1v1h-1zM11 48h1v1h-1zM12 48h1v1h-1zM13 48h1v1h-1zM14 48h1v1h-1zM10 50h1v1h-1zM11 50h1v1h-1zM13 50h1v1h-1zM14 50h1v1h-1zM0 52h1v1h-1zM9 52h1v1h-1zM8 54h1v1h-1zM8 58h1v1h-1zM4 59h1v1h-1zM5 59h1v1h-1zM4 60h1v1h-1zM4 62h1v1h-1zM4 63h1v1h-1zM4 64h1v1h-1zM2 67h1v1h-1zM4 67h1v1h-1zM0 70h1v1h-1zM2 70h1v1h-1zM10 70h1v1h-1zM13 70h1v1h-1zM5 71h1v1h-1zM4 72h1v1h-1zM24 73h1v1h-1zM6 74h1v1h-1zM5 75h1v1h-1zM5 76h1v1h-1zM24 77h1v1h-1zM0 78h1v1h-1zM24 80h1v1h-1zM15 81h1v1h-1zM5 82h1v1h-1zM8 82h1v1h-1zM8 84h1v1h-1zM4 85h1v1h-1zM8 85h1v1h-1zM15 86h1v1h-1zM5 88h1v1h-1z"/>
<path fill="#e6f5ed" d="M25 2h1v1h-1zM8 8h1v1h-1zM9 8h1v1h-1zM1 20h1v1h-1zM0 21h1v1h-1zM7 23h1v1h-1zM10 23h1v1h-1zM9 27h1v1h-1zM11 31h1v1h-1zM3 49h1v1h-1zM5 52h1v1h-1zM10 52h1v1h-1zM10 54h1v1h-1zM10 57h1v1h-1zM10 58h1v1h-1zM8 65h1v1h-1zM5 66h1v1h-1zM11 67h1v1h-1zM16 68h1v1h-1zM15 69h1v1h-1zM16 69h1v1h-1zM13 75h1v1h-1zM10 81h1v1h-1zM1 84h1v1h-1zM13 84h1v1h-1zM4 86h1v1h-1zM5 86h1v1h-1z"/>
<path fill="#f8fccd" d="M17 3h1v1h-1zM19 3h1v1h-1zM20 3h1v1h-1zM28 3h1v1h-1zM29 3h1v1h-1zM20 4h1v1h-1zM23 4h1v1h-1zM24 4h1v1h-1zM28 4h1v1h-1zM24 5h1v1h-1zM28 5h1v1h-1zM20 6h1v1h-1zM29 6h1v1h-1zM1 7h1v1h-1zM5 7h1v1h-1zM10 7h1v1h-1zM1 8h1v1h-1zM10 8h1v1h-1zM24 8h1v1h-1zM6 9h1v1h-1zM28 9h1v1h-1zM1 10h1v1h-1zM16 10h1v1h-1zM6 11h1v1h-1zM15 11h1v1h-1zM12 12h1v1h-1zM6 13h1v1h-1zM9 14h1v1h-1zM13 14h1v1h-1zM14 14h1v1h-1zM15 15h1v1h-1zM11 16h1v1h-1zM13 16h1v1h-1zM9 17h1v1h-1zM10 17h1v1h-1zM8 18h1v1h-1zM5 19h1v1h-1zM8 19h1v1h-1zM9 19h1v1h-1zM8 20h1v1h-1zM3 22h1v1h-1zM7 22h1v1h-1zM15 23h1v1h-1zM14 25h1v1h-1zM4 26h1v1h-1zM9 26h1v1h-1zM11 26h1v1h-1zM11 28h1v1h-1zM16 28h1v1h-1zM5 30h1v1h-1zM16 30h1v1h-1zM7 31h1v1h-1zM1 32h1v1h-1zM24 33h1v1h-1zM15 34h1v1h-1zM24 34h1v1h-1zM12 36h1v1h-1zM14 36h1v1h-1zM14 37h1v1h-1zM0 39h1v1h-1zM10 39h1v1h-1zM23 39h1v1h-1zM30 39h1v1h-1zM31 39h1v1h-1zM2 40h1v1h-1zM10 40h1v1h-1zM11 40h1v1h-1zM13 40h1v1h-1zM16 40h1v1h-1zM7 41h1v1h-1zM16 41h1v1h-1zM11 42h1v1h-1zM13 42h1v1h-1zM24 42h1v1h-1zM1 43h1v1h-1zM11 45h1v1h-1zM4 46h1v1h-1zM5 46h1v1h-1zM15 46h1v1h-1zM11 47h1v1h-1zM16 47h1v1h-1zM26 47h1v1h-1zM0 48h1v1h-1zM6 49h1v1h-1zM10 49h1v1h-1zM12 49h1v1h-1zM13 49h1v1h-1zM1 50h1v1h-1zM6 50h1v1h-1zM12 50h1v1h-1zM15 50h1v1h-1zM9 51h1v1h-1zM1 52h1v1h-1zM7 52h1v1h-1zM3 53h1v1h-1zM9 54h1v1h-1zM14 54h1v1h-1zM9 55h1v1h-1zM9 56h1v1h-1zM3 58h1v1h-1zM7 58h1v1h-1zM2 60h1v1h-1zM0 62h1v1h-1zM10 62h1v1h-1zM2 64h1v1h-1zM10 66h1v1h-1zM8 67h1v1h-1zM0 69h1v1h-1zM11 69h1v1h-1zM13 69h1v1h-1zM6 70h1v1h-1zM11 70h1v1h-1zM2 71h1v1h-1zM8 71h1v1h-1zM13 71h1v1h-1zM5 72h1v1h-1zM4 73h1v1h-1zM5 73h1v1h-1zM4 74h1v1h-1zM4 75h1v1h-1zM6 75h1v1h-1zM0 76h1v1h-1zM7 77h1v1h-1zM8 77h1v1h-1zM8 78h1v1h-1zM13 80h1v1h-1zM7 81h1v1h-1zM13 81h1v1h-1zM8 83h1v1h-1zM15 83h1v1h-1zM3 86h1v1h-1zM6 86h1v1h-1zM12 86h1v1h-1zM13 86h1v1h-1zM14 86h1v1h-1zM5 87h1v1h-1zM14 89h1v1h-1z"/>
<path fill="#fafdc8" d="M23 3h1v1h-1zM10 4h1v1h-1zM3 5h1v1h-1zM6 5h1v1h-1zM24 6h1v1h-1zM28 6h1v1h-1zM27 8h1v1h-1zM1 9h1v1h-1zM5 9h1v1h-1zM7 9h1v1h-1zM21 9h1v1h-1zM5 10h1v1h-1zM13 10h1v1h-1zM12 11h1v1h-1zM11 12h1v1h-1zM15 12h1v1h-1zM16 12h1v1h-1zM9 13h1v1h-1zM13 13h1v1h-1zM14 13h1v1h-1zM2 14h1v1h-1zM6 14h1v1h-1zM10 18h1v1h-1zM4 21h1v1h-1zM4 22h1v1h-1zM4 23h1v1h-1zM12 24h1v1h-1zM16 24h1v1h-1zM0 25h1v1h-1zM15 25h1v1h-1zM5 26h1v1h-1zM6 26h1v1h-1zM12 26h1v1h-1zM0 28h1v1h-1zM4 28h1v1h-1zM5 28h1v1h-1zM6 28h1v1h-1zM7 28h1v1h-1zM12 28h1v1h-1zM0 30h1v1h-1zM1 30h1v1h-1zM6 30h1v1h-1zM9 30h1v1h-1zM10 30h1v1h-1zM8 32h1v1h-1zM10 32h1v1h-1zM23 34h1v1h-1zM25 34h1v1h-1zM24 35h1v1h-1zM11 36h1v1h-1zM13 36h1v1h-1zM15 36h1v1h-1zM10 37h1v1h-1zM4 39h1v1h-1zM5 39h1v1h-1zM24 39h1v1h-1zM1 40h1v1h-1zM15 40h1v1h-1zM23 40h1v1h-1zM24 40h1v1h-1zM30 40h1v1h-1zM1 41h1v1h-1zM24 41h1v1h-1zM1 42h1v1h-1zM15 42h1v1h-1zM0 43h1v1h-1zM3 43h1v1h-1zM11 43h1v1h-1zM7 44h1v1h-1zM9 44h1v1h-1zM24 44h1v1h-1zM15 45h1v1h-1zM1 46h1v1h-1zM8 46h1v1h-1zM9 46h1v1h-1zM12 47h1v1h-1zM13 47h1v1h-1zM5 48h1v1h-1zM26 48h1v1h-1zM14 49h1v1h-1zM16 49h1v1h-1zM7 50h1v1h-1zM16 50h1v1h-1zM4 51h1v1h-1zM0 53h1v1h-1zM4 53h1v1h-1zM14 53h1v1h-1zM3 55h1v1h-1zM8 55h1v1h-1zM7 56h1v1h-1zM6 57h1v1h-1zM7 57h1v1h-1zM0 58h1v1h-1zM2 58h1v1h-1zM5 58h1v1h-1zM14 58h1v1h-1zM4 61h1v1h-1zM14 65h1v1h-1zM1 66h1v1h-1zM6 66h1v1h-1zM0 68h1v1h-1zM6 68h1v1h-1zM7 68h1v1h-1zM10 68h1v1h-1zM11 68h1v1h-1zM13 68h1v1h-1zM14 68h1v1h-1zM3 69h1v1h-1zM3 70h1v1h-1zM3 71h1v1h-1zM7 71h1v1h-1zM24 71h1v1h-1zM24 72h1v1h-1zM7 73h1v1h-1zM0 77h1v1h-1zM13 77h1v1h-1zM15 77h1v1h-1zM13 78h1v1h-1zM15 78h1v1h-1zM4 79h1v1h-1zM2 80h1v1h-1zM15 80h1v1h-1zM9 83h1v1h-1zM2 86h1v1h-1zM7 86h1v1h-1zM10 86h1v1h-1zM11 86h1v1h-1zM16 86h1v1h-1zM8 87h1v1h-1zM15 87h1v1h-1zM8 88h1v1h-1zM3 89h1v1h-1zM13 89h1v1h-1zM15 89h1v1h-1zM16 89h1v1h-1zM9 90h1v1h-1zM15 90h1v1h-1zM24 90h1v1h-1z"/>
<path fill="#fdc27c" d="M30 3h1v1h-1zM30 4h1v1h-1zM26 18h1v1h-1zM31 18h1v1h-1zM26 22h1v1h-1zM26 23h1v1h-1zM26 28h1v1h-1zM31 28h1v1h-1zM26 29h1v1h-1zM26 30h1v1h-1zM31 30h1v1h-1zM31 32h1v1h-1zM18 40h1v1h-1zM18 46h1v1h-1zM18 53h1v1h-1zM21 55h1v1h-1zM18 58h1v1h-1zM20 61h1v1h-1zM19 70h1v1h-1zM19 71h1v1h-1zM19 72h1v1h-1zM18 78h1v1h-1zM21 80h1v1h-1zM18 86h1v1h-1zM18 87h1v1h-1zM18 90h1v1h-1z"/>
<path fill="#fdfec4" d="M0 4h1v1h-1zM5 4h1v1h-1zM8 4h1v1h-1zM17 4h1v1h-1zM2 5h1v1h-1zM7 5h1v1h-1zM6 6h1v1h-1zM23 6h1v1h-1zM2 7h1v1h-1zM4 7h1v1h-1zM19 9h1v1h-1zM14 10h1v1h-1zM0 11h1v1h-1zM11 11h1v1h-1zM0 12h1v1h-1zM3 12h1v1h-1zM6 12h1v1h-1zM5 13h1v1h-1zM0 15h1v1h-1zM1 15h1v1h-1zM2 17h1v1h-1zM5 17h1v1h-1zM8 17h1v1h-1zM6 18h1v1h-1zM5 20h1v1h-1zM9 21h1v1h-1zM5 22h1v1h-1zM8 22h1v1h-1zM9 22h1v1h-1zM10 22h1v1h-1zM3 23h1v1h-1zM5 23h1v1h-1zM3 24h1v1h-1zM4 24h1v1h-1zM7 24h1v1h-1zM1 25h1v1h-1zM12 25h1v1h-1zM3 26h1v1h-1zM16 26h1v1h-1zM2 30h1v1h-1zM23 33h1v1h-1zM26 33h1v1h-1zM27 34h1v1h-1zM28 34h1v1h-1zM12 35h1v1h-1zM4 37h1v1h-1zM7 37h1v1h-1zM11 37h1v1h-1zM13 37h1v1h-1zM5 38h1v1h-1zM9 38h1v1h-1zM8 39h1v1h-1zM9 39h1v1h-1zM25 39h1v1h-1zM28 39h1v1h-1zM29 40h1v1h-1zM31 40h1v1h-1zM4 41h1v1h-1zM5 41h1v1h-1zM23 41h1v1h-1zM28 41h1v1h-1zM31 41h1v1h-1zM0 42h1v1h-1zM3 42h1v1h-1zM4 42h1v1h-1zM23 42h1v1h-1zM27 42h1v1h-1zM30 42h1v1h-1zM7 43h1v1h-1zM24 43h1v1h-1zM5 44h1v1h-1zM8 44h1v1h-1zM15 44h1v1h-1zM9 45h1v1h-1zM24 45h1v1h-1zM0 47h1v1h-1zM14 47h1v1h-1zM4 48h1v1h-1zM7 48h1v1h-1zM9 48h1v1h-1zM15 48h1v1h-1zM0 49h1v1h-1zM15 49h1v1h-1zM3 51h1v1h-1zM8 52h1v1h-1zM12 52h1v1h-1zM13 52h1v1h-1zM14 52h1v1h-1zM9 53h1v1h-1zM1 54h1v1h-1zM7 54h1v1h-1zM4 55h1v1h-1zM8 57h1v1h-1zM4 58h1v1h-1zM12 58h1v1h-1zM13 58h1v1h-1zM2 59h1v1h-1zM8 59h1v1h-1zM7 60h1v1h-1zM14 60h1v1h-1zM12 62h1v1h-1zM30 64h1v1h-1zM12 65h1v1h-1zM8 66h1v1h-1zM9 66h1v1h-1zM12 66h1v1h-1zM1 67h1v1h-1zM6 67h1v1h-1zM10 67h1v1h-1zM12 68h1v1h-1zM9 69h1v1h-1zM12 69h1v1h-1zM12 70h1v1h-1zM24 70h1v1h-1zM0 71h1v1h-1zM10 71h1v1h-1zM11 71h1v1h-1zM14 71h1v1h-1zM7 72h1v1h-1zM6 73h1v1h-1zM5 74h1v1h-1zM23 74h1v1h-1zM0 75h1v1h-1zM6 76h1v1h-1zM13 76h1v1h-1zM15 76h1v1h-1zM11 77h1v1h-1zM14 77h1v1h-1zM2 78h1v1h-1zM0 79h1v1h-1zM5 79h1v1h-1zM1 80h1v1h-1zM16 81h1v1h-1zM0 82h1v1h-1zM15 82h1v1h-1zM1 83h1v1h-1zM11 83h1v1h-1zM13 83h1v1h-1zM12 84h1v1h-1zM1 85h1v1h-1zM12 85h1v1h-1zM15 85h1v1h-1zM13 88h1v1h-1zM24 89h1v1h-1zM30 89h1v1h-1zM0 90h1v1h-1zM12 90h1v1h-1zM13 90h1v1h-1zM14 90h1v1h-1z"/>
<path fill="#fffdbb" d="M4 4h1v1h-1zM5 5h1v1h-1zM10 5h1v1h-1zM1 6h1v1h-1zM3 6h1v1h-1zM3 9h1v1h-1zM0 10h1v1h-1zM7 10h1v1h-1zM3 11h1v1h-1zM5 11h1v1h-1zM9 11h1v1h-1zM8 12h1v1h-1zM9 12h1v1h-1zM29 12h1v1h-1zM10 13h1v1h-1zM4 14h1v1h-1zM7 14h1v1h-1zM8 14h1v1h-1zM13 15h1v1h-1zM16 15h1v1h-1zM8 16h1v1h-1zM9 16h1v1h-1zM29 16h1v1h-1zM2 19h1v1h-1zM6 19h1v1h-1zM3 20h1v1h-1zM7 20h1v1h-1zM10 20h1v1h-1zM27 20h1v1h-1zM2 21h1v1h-1zM6 21h1v1h-1zM2 22h1v1h-1zM2 24h1v1h-1zM5 24h1v1h-1zM8 24h1v1h-1zM9 24h1v1h-1zM2 25h1v1h-1zM5 25h1v1h-1zM6 25h1v1h-1zM7 25h1v1h-1zM9 25h1v1h-1zM11 25h1v1h-1zM0 26h1v1h-1zM2 26h1v1h-1zM8 27h1v1h-1zM9 33h1v1h-1zM10 33h1v1h-1zM27 33h1v1h-1zM30 33h1v1h-1zM31 33h1v1h-1zM2 34h1v1h-1zM3 34h1v1h-1zM4 34h1v1h-1zM29 34h1v1h-1zM31 34h1v1h-1zM11 35h1v1h-1zM13 35h1v1h-1zM15 35h1v1h-1zM27 35h1v1h-1zM28 35h1v1h-1zM31 35h1v1h-1zM24 36h1v1h-1zM31 37h1v1h-1zM6 38h1v1h-1zM23 38h1v1h-1zM24 38h1v1h-1zM28 38h1v1h-1zM31 38h1v1h-1zM26 39h1v1h-1zM3 40h1v1h-1zM5 40h1v1h-1zM9 40h1v1h-1zM27 40h1v1h-1zM28 40h1v1h-1zM0 41h1v1h-1zM25 41h1v1h-1zM6 42h1v1h-1zM9 42h1v1h-1zM25 42h1v1h-1zM26 42h1v1h-1zM4 43h1v1h-1zM27 43h1v1h-1zM25 44h1v1h-1zM27 44h1v1h-1zM31 44h1v1h-1zM5 45h1v1h-1zM30 45h1v1h-1zM2 46h1v1h-1zM26 46h1v1h-1zM28 46h1v1h-1zM30 46h1v1h-1zM1 47h1v1h-1zM3 47h1v1h-1zM27 47h1v1h-1zM28 47h1v1h-1zM9 50h1v1h-1zM1 51h1v1h-1zM14 51h1v1h-1zM16 51h1v1h-1zM16 52h1v1h-1zM30 52h1v1h-1zM1 53h1v1h-1zM2 53h1v1h-1zM11 53h1v1h-1zM12 53h1v1h-1zM13 53h1v1h-1zM15 53h1v1h-1zM24 53h1v1h-1zM30 53h1v1h-1zM5 54h1v1h-1zM11 54h1v1h-1zM12 54h1v1h-1zM13 54h1v1h-1zM1 55h1v1h-1zM5 55h1v1h-1zM12 55h1v1h-1zM15 55h1v1h-1zM16 55h1v1h-1zM2 56h1v1h-1zM5 56h1v1h-1zM12 56h1v1h-1zM14 56h1v1h-1zM15 56h1v1h-1zM0 57h1v1h-1zM1 57h1v1h-1zM2 57h1v1h-1zM5 57h1v1h-1zM13 57h1v1h-1zM15 57h1v1h-1zM16 57h1v1h-1zM0 59h1v1h-1zM1 59h1v1h-1zM6 59h1v1h-1zM7 59h1v1h-1zM10 59h1v1h-1zM11 59h1v1h-1zM12 59h1v1h-1zM13 59h1v1h-1zM0 60h1v1h-1zM8 60h1v1h-1zM9 60h1v1h-1zM10 60h1v1h-1zM11 60h1v1h-1zM12 60h1v1h-1zM16 60h1v1h-1zM2 61h1v1h-1zM10 61h1v1h-1zM14 61h1v1h-1zM6 62h1v1h-1zM8 62h1v1h-1zM11 62h1v1h-1zM13 62h1v1h-1zM7 63h1v1h-1zM8 63h1v1h-1zM11 63h1v1h-1zM13 63h1v1h-1zM30 63h1v1h-1zM0 64h1v1h-1zM6 64h1v1h-1zM7 64h1v1h-1zM8 64h1v1h-1zM11 64h1v1h-1zM23 64h1v1h-1zM24 64h1v1h-1zM31 64h1v1h-1zM0 65h1v1h-1zM1 65h1v1h-1zM3 65h1v1h-1zM13 65h1v1h-1zM3 66h1v1h-1zM7 67h1v1h-1zM24 67h1v1h-1zM23 69h1v1h-1zM31 69h1v1h-1zM9 70h1v1h-1zM6 71h1v1h-1zM11 72h1v1h-1zM12 72h1v1h-1zM13 72h1v1h-1zM0 73h1v1h-1zM1 73h1v1h-1zM13 73h1v1h-1zM1 74h1v1h-1zM8 74h1v1h-1zM11 74h1v1h-1zM12 74h1v1h-1zM14 74h1v1h-1zM29 74h1v1h-1zM14 75h1v1h-1zM2 76h1v1h-1zM9 76h1v1h-1zM12 76h1v1h-1zM14 76h1v1h-1zM16 76h1v1h-1zM30 76h1v1h-1zM2 77h1v1h-1zM10 77h1v1h-1zM12 77h1v1h-1zM1 78h1v1h-1zM14 78h1v1h-1zM23 78h1v1h-1zM1 79h1v1h-1zM9 79h1v1h-1zM12 79h1v1h-1zM14 79h1v1h-1zM16 79h1v1h-1zM23 79h1v1h-1zM3 80h1v1h-1zM10 80h1v1h-1zM12 80h1v1h-1zM6 81h1v1h-1zM7 82h1v1h-1zM13 82h1v1h-1zM30 82h1v1h-1zM2 83h1v1h-1zM10 83h1v1h-1zM14 83h1v1h-1zM0 84h1v1h-1zM7 84h1v1h-1zM9 84h1v1h-1zM16 84h1v1h-1zM0 85h1v1h-1zM2 85h1v1h-1zM9 85h1v1h-1zM10 85h1v1h-1zM30 86h1v1h-1zM0 87h1v1h-1zM14 87h1v1h-1zM3 88h1v1h-1zM16 88h1v1h-1zM24 88h1v1h-1zM30 88h1v1h-1zM11 89h1v1h-1zM23 89h1v1h-1zM29 89h1v1h-1zM3 90h1v1h-1zM6 90h1v1h-1z"/>
<path fill="#ffffbf" d="M0 5h1v1h-1zM1 5h1v1h-1zM4 5h1v1h-1zM8 5h1v1h-1zM0 6h1v1h-1zM7 6h1v1h-1zM27 6h1v1h-1zM8 7h1v1h-1zM0 9h1v1h-1zM2 9h1v1h-1zM2 10h1v1h-1zM3 10h1v1h-1zM13 11h1v1h-1zM14 11h1v1h-1zM16 11h1v1h-1zM29 11h1v1h-1zM5 12h1v1h-1zM13 12h1v1h-1zM14 12h1v1h-1zM2 13h1v1h-1zM8 13h1v1h-1zM5 14h1v1h-1zM10 14h1v1h-1zM3 15h1v1h-1zM14 15h1v1h-1zM2 16h1v1h-1zM7 16h1v1h-1zM10 16h1v1h-1zM6 17h1v1h-1zM7 19h1v1h-1zM10 19h1v1h-1zM9 20h1v1h-1zM3 21h1v1h-1zM10 21h1v1h-1zM6 22h1v1h-1zM2 23h1v1h-1zM11 23h1v1h-1zM11 24h1v1h-1zM4 25h1v1h-1zM16 25h1v1h-1zM7 26h1v1h-1zM10 27h1v1h-1zM8 29h1v1h-1zM8 30h1v1h-1zM0 32h1v1h-1zM6 32h1v1h-1zM7 32h1v1h-1zM25 33h1v1h-1zM28 33h1v1h-1zM26 34h1v1h-1zM14 35h1v1h-1zM16 35h1v1h-1zM23 35h1v1h-1zM26 35h1v1h-1zM0 37h1v1h-1zM1 37h1v1h-1zM2 37h1v1h-1zM3 37h1v1h-1zM8 38h1v1h-1zM6 39h1v1h-1zM22 39h1v1h-1zM27 39h1v1h-1zM29 39h1v1h-1zM0 40h1v1h-1zM4 40h1v1h-1zM7 40h1v1h-1zM25 40h1v1h-1zM26 40h1v1h-1zM3 41h1v1h-1zM9 41h1v1h-1zM26 41h1v1h-1zM27 41h1v1h-1zM29 41h1v1h-1zM30 41h1v1h-1zM2 42h1v1h-1zM5 42h1v1h-1zM7 42h1v1h-1zM29 42h1v1h-1zM31 42h1v1h-1zM2 43h1v1h-1zM5 43h1v1h-1zM6 43h1v1h-1zM15 43h1v1h-1zM30 43h1v1h-1zM4 44h1v1h-1zM6 44h1v1h-1zM30 44h1v1h-1zM1 45h1v1h-1zM7 45h1v1h-1zM8 45h1v1h-1zM6 46h1v1h-1zM24 46h1v1h-1zM10 47h1v1h-1zM15 47h1v1h-1zM23 47h1v1h-1zM24 47h1v1h-1zM30 47h1v1h-1zM8 48h1v1h-1zM23 48h1v1h-1zM28 48h1v1h-1zM30 48h1v1h-1zM1 49h1v1h-1zM7 49h1v1h-1zM0 50h1v1h-1zM0 51h1v1h-1zM7 51h1v1h-1zM11 51h1v1h-1zM12 51h1v1h-1zM13 51h1v1h-1zM15 51h1v1h-1zM24 51h1v1h-1zM2 52h1v1h-1zM6 52h1v1h-1zM11 52h1v1h-1zM15 52h1v1h-1zM7 53h1v1h-1zM8 53h1v1h-1zM0 54h1v1h-1zM2 54h1v1h-1zM6 54h1v1h-1zM15 54h1v1h-1zM16 54h1v1h-1zM2 55h1v1h-1zM6 55h1v1h-1zM7 55h1v1h-1zM14 55h1v1h-1zM3 56h1v1h-1zM6 56h1v1h-1zM8 56h1v1h-1zM3 57h1v1h-1zM9 57h1v1h-1zM12 57h1v1h-1zM14 57h1v1h-1zM1 58h1v1h-1zM6 58h1v1h-1zM15 58h1v1h-1zM16 58h1v1h-1zM3 59h1v1h-1zM14 59h1v1h-1zM15 59h1v1h-1zM16 59h1v1h-1zM1 60h1v1h-1zM3 60h1v1h-1zM6 60h1v1h-1zM15 60h1v1h-1zM7 62h1v1h-1zM9 62h1v1h-1zM14 62h1v1h-1zM6 63h1v1h-1zM9 63h1v1h-1zM12 63h1v1h-1zM14 63h1v1h-1zM1 64h1v1h-1zM3 64h1v1h-1zM9 64h1v1h-1zM12 64h1v1h-1zM29 64h1v1h-1zM6 65h1v1h-1zM7 65h1v1h-1zM11 65h1v1h-1zM0 66h1v1h-1zM7 66h1v1h-1zM11 66h1v1h-1zM13 66h1v1h-1zM14 66h1v1h-1zM0 67h1v1h-1zM9 67h1v1h-1zM1 68h1v1h-1zM3 68h1v1h-1zM9 68h1v1h-1zM1 69h1v1h-1zM29 69h1v1h-1zM30 69h1v1h-1zM1 70h1v1h-1zM1 71h1v1h-1zM12 71h1v1h-1zM2 72h1v1h-1zM3 72h1v1h-1zM8 72h1v1h-1zM14 72h1v1h-1zM2 73h1v1h-1zM11 73h1v1h-1zM12 73h1v1h-1zM14 73h1v1h-1zM0 74h1v1h-1zM2 74h1v1h-1zM7 74h1v1h-1zM13 74h1v1h-1zM30 74h1v1h-1zM1 75h1v1h-1zM2 75h1v1h-1zM7 75h1v1h-1zM8 75h1v1h-1zM23 75h1v1h-1zM1 76h1v1h-1zM7 76h1v1h-1zM8 76h1v1h-1zM11 76h1v1h-1zM23 76h1v1h-1zM1 77h1v1h-1zM6 77h1v1h-1zM9 77h1v1h-1zM16 77h1v1h-1zM7 78h1v1h-1zM16 78h1v1h-1zM29 78h1v1h-1zM8 79h1v1h-1zM13 79h1v1h-1zM15 79h1v1h-1zM29 79h1v1h-1zM7 80h1v1h-1zM11 80h1v1h-1zM14 80h1v1h-1zM16 80h1v1h-1zM2 81h1v1h-1zM3 81h1v1h-1zM12 81h1v1h-1zM14 81h1v1h-1zM1 82h1v1h-1zM9 82h1v1h-1zM11 82h1v1h-1zM0 83h1v1h-1zM3 83h1v1h-1zM7 83h1v1h-1zM12 83h1v1h-1zM16 83h1v1h-1zM30 83h1v1h-1zM10 84h1v1h-1zM11 84h1v1h-1zM3 85h1v1h-1zM7 85h1v1h-1zM11 85h1v1h-1zM13 85h1v1h-1zM14 85h1v1h-1zM16 85h1v1h-1zM13 87h1v1h-1zM16 87h1v1h-1zM14 88h1v1h-1zM15 88h1v1h-1zM0 89h1v1h-1zM1 89h1v1h-1zM2 89h1v1h-1zM9 89h1v1h-1zM12 89h1v1h-1zM2 90h1v1h-1zM7 90h1v1h-1zM16 90h1v1h-1zM23 90h1v1h-1zM30 90h1v1h-1z"/>
<path fill="#d0e9f2" d="M5 8h1v1h-1zM14 20h1v1h-1zM14 24h1v1h-1zM4 52h1v1h-1z"/>
<path fill="#cae4f0" d="M6 8h1v1h-1zM3 44h1v1h-1z"/>
<path fill="#c4e0ee" d="M7 8h1v1h-1zM14 67h1v1h-1zM15 70h1v1h-1zM9 81h1v1h-1z"/>
<path fill="#fee99d" d="M17 10h1v1h-1zM21 11h1v1h-1zM28 11h1v1h-1zM19 12h1v1h-1zM28 12h1v1h-1zM18 13h1v1h-1zM21 13h1v1h-1zM22 13h1v1h-1zM25 13h1v1h-1zM30 13h1v1h-1zM17 14h1v1h-1zM20 14h1v1h-1zM25 14h1v1h-1zM30 14h1v1h-1zM17 15h1v1h-1zM19 16h1v1h-1zM22 16h1v1h-1zM30 16h1v1h-1zM22 17h1v1h-1zM21 18h1v1h-1zM23 18h1v1h-1zM25 18h1v1h-1zM17 19h1v1h-1zM18 19h1v1h-1zM28 19h1v1h-1zM19 20h1v1h-1zM24 20h1v1h-1zM19 21h1v1h-1zM17 24h1v1h-1zM18 24h1v1h-1zM20 24h1v1h-1zM22 24h1v1h-1zM23 24h1v1h-1zM25 24h1v1h-1zM18 25h1v1h-1zM17 26h1v1h-1zM23 26h1v1h-1zM24 26h1v1h-1zM22 28h1v1h-1zM25 29h1v1h-1zM20 34h1v1h-1zM19 35h1v1h-1zM21 39h1v1h-1zM20 41h1v1h-1zM21 43h1v1h-1zM19 44h1v1h-1zM21 46h1v1h-1zM25 49h1v1h-1zM28 49h1v1h-1zM27 52h1v1h-1zM25 53h1v1h-1zM26 56h1v1h-1zM25 59h1v1h-1zM27 60h1v1h-1zM28 65h1v1h-1zM28 66h1v1h-1zM19 67h1v1h-1zM19 69h1v1h-1zM23 70h1v1h-1zM31 70h1v1h-1zM22 71h1v1h-1zM27 71h1v1h-1zM22 73h1v1h-1zM26 79h1v1h-1zM31 81h1v1h-1zM28 83h1v1h-1zM27 84h1v1h-1zM27 85h1v1h-1zM26 86h1v1h-1zM28 86h1v1h-1z"/>
<path fill="#feeea5" d="M20 10h1v1h-1zM18 11h1v1h-1zM24 11h1v1h-1zM18 12h1v1h-1zM22 12h1v1h-1zM24 12h1v1h-1zM25 12h1v1h-1zM20 13h1v1h-1zM17 16h1v1h-1zM20 16h1v1h-1zM25 16h1v1h-1zM20 17h1v1h-1zM25 17h1v1h-1zM21 24h1v1h-1zM22 25h1v1h-1zM27 32h1v1h-1zM19 33h1v1h-1zM19 34h1v1h-1zM20 39h1v1h-1zM20 40h1v1h-1zM19 41h1v1h-1zM21 44h1v1h-1zM21 48h1v1h-1zM26 50h1v1h-1zM29 50h1v1h-1zM31 50h1v1h-1zM26 52h1v1h-1zM26 53h1v1h-1zM27 53h1v1h-1zM23 54h1v1h-1zM29 54h1v1h-1zM31 54h1v1h-1zM23 55h1v1h-1zM24 55h1v1h-1zM29 55h1v1h-1zM30 55h1v1h-1zM22 58h1v1h-1zM27 58h1v1h-1zM28 58h1v1h-1zM22 63h1v1h-1zM27 63h1v1h-1zM20 64h1v1h-1zM22 66h1v1h-1zM27 66h1v1h-1zM20 67h1v1h-1zM25 67h1v1h-1zM27 68h1v1h-1zM28 68h1v1h-1zM20 69h1v1h-1zM23 71h1v1h-1zM26 74h1v1h-1zM22 75h1v1h-1zM25 75h1v1h-1zM31 75h1v1h-1zM25 76h1v1h-1zM22 77h1v1h-1zM27 77h1v1h-1zM25 78h1v1h-1zM26 78h1v1h-1zM25 79h1v1h-1zM28 79h1v1h-1zM31 80h1v1h-1zM22 81h1v1h-1zM23 81h1v1h-1zM27 83h1v1h-1zM25 84h1v1h-1zM23 85h1v1h-1zM22 87h1v1h-1zM22 88h1v1h-1zM28 89h1v1h-1zM26 90h1v1h-1z"/>
<path fill="#feeba1" d="M24 10h1v1h-1zM23 11h1v1h-1zM25 11h1v1h-1zM30 11h1v1h-1zM21 12h1v1h-1zM23 12h1v1h-1zM30 12h1v1h-1zM17 13h1v1h-1zM18 16h1v1h-1zM21 16h1v1h-1zM23 16h1v1h-1zM17 17h1v1h-1zM21 17h1v1h-1zM23 17h1v1h-1zM21 19h1v1h-1zM23 19h1v1h-1zM20 20h1v1h-1zM30 20h1v1h-1zM17 21h1v1h-1zM21 21h1v1h-1zM22 21h1v1h-1zM25 21h1v1h-1zM28 21h1v1h-1zM27 22h1v1h-1zM29 22h1v1h-1zM27 23h1v1h-1zM19 24h1v1h-1zM24 24h1v1h-1zM28 24h1v1h-1zM17 25h1v1h-1zM23 25h1v1h-1zM24 25h1v1h-1zM25 25h1v1h-1zM28 25h1v1h-1zM21 26h1v1h-1zM22 26h1v1h-1zM25 26h1v1h-1zM27 27h1v1h-1zM17 29h1v1h-1zM19 31h1v1h-1zM25 31h1v1h-1zM19 32h1v1h-1zM24 32h1v1h-1zM21 41h1v1h-1zM19 42h1v1h-1zM20 42h1v1h-1zM21 42h1v1h-1zM22 51h1v1h-1zM22 52h1v1h-1zM28 53h1v1h-1zM31 55h1v1h-1zM22 57h1v1h-1zM25 57h1v1h-1zM26 57h1v1h-1zM28 57h1v1h-1zM25 58h1v1h-1zM22 59h1v1h-1zM26 59h1v1h-1zM27 59h1v1h-1zM28 59h1v1h-1zM22 60h1v1h-1zM23 61h1v1h-1zM31 61h1v1h-1zM25 63h1v1h-1zM26 63h1v1h-1zM28 63h1v1h-1zM21 64h1v1h-1zM22 65h1v1h-1zM27 65h1v1h-1zM20 68h1v1h-1zM25 68h1v1h-1zM26 69h1v1h-1zM29 70h1v1h-1zM31 71h1v1h-1zM27 72h1v1h-1zM31 72h1v1h-1zM27 73h1v1h-1zM31 73h1v1h-1zM26 75h1v1h-1zM26 76h1v1h-1zM27 80h1v1h-1zM25 82h1v1h-1zM27 82h1v1h-1zM26 83h1v1h-1zM31 84h1v1h-1zM22 85h1v1h-1zM25 85h1v1h-1zM22 86h1v1h-1zM26 87h1v1h-1zM28 87h1v1h-1zM26 88h1v1h-1zM28 88h1v1h-1zM25 90h1v1h-1z"/>
<path fill="#fdbb78" d="M26 13h1v1h-1zM26 14h1v1h-1zM31 15h1v1h-1zM31 22h1v1h-1zM26 27h1v1h-1zM31 27h1v1h-1zM18 33h1v1h-1zM18 41h1v1h-1zM18 47h1v1h-1zM18 48h1v1h-1zM18 51h1v1h-1zM18 57h1v1h-1zM18 59h1v1h-1zM19 61h1v1h-1zM18 64h1v1h-1zM18 67h1v1h-1zM18 69h1v1h-1zM21 71h1v1h-1zM21 72h1v1h-1zM18 76h1v1h-1zM18 80h1v1h-1zM21 81h1v1h-1zM18 82h1v1h-1zM18 88h1v1h-1z"/>
<path fill="#fdae6f" d="M26 15h1v1h-1zM18 43h1v1h-1zM18 50h1v1h-1zM18 54h1v1h-1zM18 56h1v1h-1zM18 68h1v1h-1zM18 73h1v1h-1zM18 77h1v1h-1zM18 81h1v1h-1zM18 84h1v1h-1zM18 85h1v1h-1z"/>
<path fill="#d7edf5" d="M15 16h1v1h-1zM15 20h1v1h-1zM3 50h1v1h-1zM4 84h1v1h-1zM5 89h1v1h-1z"/>
<path fill="#97c3dd" d="M0 18h1v1h-1z"/>
<path fill="#b1d4e7" d="M1 18h1v1h-1zM15 67h1v1h-1zM4 89h1v1h-1z"/>
<path fill="#fc8d59" d="M17 33h1v1h-1zM17 34h1v1h-1zM17 35h1v1h-1zM17 56h1v1h-1zM17 58h1v1h-1z"/>
<path fill="#fda86b" d="M21 33h1v1h-1zM22 33h1v1h-1zM21 34h1v1h-1zM22 34h1v1h-1zM21 35h1v1h-1zM22 35h1v1h-1zM21 36h1v1h-1zM22 36h1v1h-1zM21 37h1v1h-1zM22 37h1v1h-1zM21 38h1v1h-1zM22 38h1v1h-1zM18 55h1v1h-1zM18 63h1v1h-1zM18 65h1v1h-1zM18 66h1v1h-1z"/>
<path fill="#fdb573" d="M18 34h1v1h-1zM18 35h1v1h-1zM18 36h1v1h-1zM18 37h1v1h-1zM18 38h1v1h-1zM18 42h1v1h-1zM18 44h1v1h-1zM18 45h1v1h-1zM18 49h1v1h-1zM18 52h1v1h-1zM18 60h1v1h-1zM21 70h1v1h-1zM18 75h1v1h-1z"/>
<path fill="#fc945d" d="M19 38h1v1h-1zM19 39h1v1h-1zM19 40h1v1h-1zM25 45h1v1h-1zM19 46h1v1h-1zM25 46h1v1h-1zM19 47h1v1h-1zM25 47h1v1h-1zM19 48h1v1h-1zM25 48h1v1h-1zM18 61h1v1h-1zM18 70h1v1h-1z"/>
<path fill="#f06f49" d="M17 49h1v1h-1zM17 50h1v1h-1zM17 54h1v1h-1zM17 55h1v1h-1zM17 69h1v1h-1zM17 74h1v1h-1zM17 78h1v1h-1z"/>
<path fill="#f3774d" d="M17 51h1v1h-1zM17 52h1v1h-1zM17 60h1v1h-1zM17 64h1v1h-1zM17 76h1v1h-1z"/>
<path fill="#f67e51" d="M17 53h1v1h-1z"/>
<path fill="#f98655" d="M17 57h1v1h-1zM17 59h1v1h-1z"/>
<path fill="#e7593d" d="M17 61h1v1h-1zM17 72h1v1h-1zM17 83h1v1h-1zM17 86h1v1h-1zM17 89h1v1h-1z"/>
<path fill="#e45139" d="M17 62h1v1h-1zM17 65h1v1h-1zM17 66h1v1h-1zM17 82h1v1h-1zM17 87h1v1h-1zM17 88h1v1h-1zM17 90h1v1h-1z"/>
<path fill="#fc9a62" d="M18 62h1v1h-1zM18 71h1v1h-1z"/>
<path fill="#ea6041" d="M17 63h1v1h-1zM17 68h1v1h-1zM17 73h1v1h-1zM17 75h1v1h-1zM17 77h1v1h-1zM17 79h1v1h-1z"/>
<path fill="#b7d8e9" d="M13 67h1v1h-1z"/>
<path fill="#ed6845" d="M17 67h1v1h-1z"/>
<path fill="#db3b2d" d="M17 70h1v1h-1z"/>
<path fill="#e14a35" d="M17 71h1v1h-1zM17 80h1v1h-1zM17 85h1v1h-1z"/>
<path fill="#fca166" d="M18 72h1v1h-1z"/>
<path fill="#d73027" d="M17 81h1v1h-1z"/>
<path fill="#de4331" d="M17 84h1v1h-1z"/>
</g>
<rect x="346.5" y="9.10" width="1.9" height="1.18" fill="#db392c"/>
<rect x="346.5" y="10.23" width="1.9" height="1.18" fill="#e24c36"/>
<rect x="346.5" y="11.36" width="1.9" height="1.18" fill="#ea5e40"/>
<rect x="346.5" y="12.49" width="1.9" height="1.18" fill="#f1714a"/>
<rect x="346.5" y="13.62" width="1.9" height="1.18" fill="#f88454"/>
<rect x="346.5" y="14.75" width="1.9" height="1.18" fill="#fc955e"/>
<rect x="346.5" y="15.88" width="1.9" height="1.18" fill="#fda66a"/>
<rect x="346.5" y="17.01" width="1.9" height="1.18" fill="#fdb674"/>
<rect x="346.5" y="18.14" width="1.9" height="1.18" fill="#fdc780"/>
<rect x="346.5" y="19.27" width="1.9" height="1.18" fill="#fed88b"/>
<rect x="346.5" y="20.40" width="1.9" height="1.18" fill="#fee395"/>
<rect x="346.5" y="21.53" width="1.9" height="1.18" fill="#fee99e"/>
<rect x="346.5" y="22.66" width="1.9" height="1.18" fill="#fef0a8"/>
<rect x="346.5" y="23.79" width="1.9" height="1.18" fill="#fff6b1"/>
<rect x="346.5" y="24.92" width="1.9" height="1.18" fill="#fffcba"/>
<rect x="346.5" y="26.05" width="1.9" height="1.18" fill="#fcfec5"/>
<rect x="346.5" y="27.18" width="1.9" height="1.18" fill="#f6fbd0"/>
<rect x="346.5" y="28.31" width="1.9" height="1.18" fill="#f0f9dc"/>
<rect x="346.5" y="29.44" width="1.9" height="1.18" fill="#e9f7e7"/>
<rect x="346.5" y="30.57" width="1.9" height="1.18" fill="#e3f4f2"/>
<rect x="346.5" y="31.70" width="1.9" height="1.18" fill="#d8eef5"/>
<rect x="346.5" y="32.83" width="1.9" height="1.18" fill="#c8e3ef"/>
<rect x="346.5" y="33.96" width="1.9" height="1.18" fill="#b8d9ea"/>
<rect x="346.5" y="35.09" width="1.9" height="1.18" fill="#a9cfe4"/>
<rect x="346.5" y="36.22" width="1.9" height="1.18" fill="#99c4de"/>
<rect x="346.5" y="37.35" width="1.9" height="1.18" fill="#89b8d7"/>
<rect x="346.5" y="38.48" width="1.9" height="1.18" fill="#7aa9cf"/>
<rect x="346.5" y="39.61" width="1.9" height="1.18" fill="#6b9ac8"/>
<rect x="346.5" y="40.74" width="1.9" height="1.18" fill="#5c8bc0"/>
<rect x="346.5" y="41.87" width="1.9" height="1.18" fill="#4d7cb8"/>
<text x="349.60" y="13.60" font-size="4.4" text-anchor="start" fill="#222" stroke="#222" stroke-width="0.18">3</text>
<text x="349.60" y="18.30" font-size="4.4" text-anchor="start" fill="#222" stroke="#222" stroke-width="0.18">2</text>
<text x="349.60" y="23.00" font-size="4.4" text-anchor="start" fill="#222" stroke="#222" stroke-width="0.18">1</text>
<text x="349.60" y="27.80" font-size="4.4" text-anchor="start" fill="#222" stroke="#222" stroke-width="0.18">0</text>
<text x="349.60" y="32.50" font-size="4.4" text-anchor="start" fill="#222" stroke="#222" stroke-width="0.18">−1</text>
<text x="349.60" y="37.10" font-size="4.4" text-anchor="start" fill="#222" stroke="#222" stroke-width="0.18">−2</text>
<text x="349.60" y="41.80" font-size="4.4" text-anchor="start" fill="#222" stroke="#222" stroke-width="0.18">−3</text>
<text x="199.48" y="101.40" font-size="3.4" text-anchor="end" fill="#1a1a1a" transform="rotate(-90 199.48 101.40)" stroke="#1a1a1a" stroke-width="0.15">Healthy 8</text>
<text x="204.13" y="101.40" font-size="3.4" text-anchor="end" fill="#1a1a1a" transform="rotate(-90 204.13 101.40)" stroke="#1a1a1a" stroke-width="0.15">Healthy 1</text>
<text x="208.79" y="101.40" font-size="3.4" text-anchor="end" fill="#1a1a1a" transform="rotate(-90 208.79 101.40)" stroke="#1a1a1a" stroke-width="0.15">Healthy 11</text>
<text x="213.45" y="101.40" font-size="3.4" text-anchor="end" fill="#1a1a1a" transform="rotate(-90 213.45 101.40)" stroke="#1a1a1a" stroke-width="0.15">Healthy 12</text>
<text x="218.10" y="101.40" font-size="3.4" text-anchor="end" fill="#1a1a1a" transform="rotate(-90 218.10 101.40)" stroke="#1a1a1a" stroke-width="0.15">Healthy 10</text>
<text x="222.76" y="101.40" font-size="3.4" text-anchor="end" fill="#1a1a1a" transform="rotate(-90 222.76 101.40)" stroke="#1a1a1a" stroke-width="0.15">Healthy 6</text>
<text x="227.42" y="101.40" font-size="3.4" text-anchor="end" fill="#1a1a1a" transform="rotate(-90 227.42 101.40)" stroke="#1a1a1a" stroke-width="0.15">Healthy 4</text>
<text x="232.07" y="101.40" font-size="3.4" text-anchor="end" fill="#1a1a1a" transform="rotate(-90 232.07 101.40)" stroke="#1a1a1a" stroke-width="0.15">Healthy 3</text>
<text x="236.73" y="101.40" font-size="3.4" text-anchor="end" fill="#1a1a1a" transform="rotate(-90 236.73 101.40)" stroke="#1a1a1a" stroke-width="0.15">Healthy 9</text>
<text x="241.38" y="101.40" font-size="3.4" text-anchor="end" fill="#1a1a1a" transform="rotate(-90 241.38 101.40)" stroke="#1a1a1a" stroke-width="0.15">Healthy 2</text>
<text x="246.04" y="101.40" font-size="3.4" text-anchor="end" fill="#1a1a1a" transform="rotate(-90 246.04 101.40)" stroke="#1a1a1a" stroke-width="0.15">Healthy 5</text>
<text x="250.70" y="101.40" font-size="3.4" text-anchor="end" fill="#1a1a1a" transform="rotate(-90 250.70 101.40)" stroke="#1a1a1a" stroke-width="0.15">Healthy 7</text>
<text x="255.35" y="101.40" font-size="3.4" text-anchor="end" fill="#1a1a1a" transform="rotate(-90 255.35 101.40)" stroke="#1a1a1a" stroke-width="0.15">Healthy 13</text>
<text x="260.01" y="101.40" font-size="3.4" text-anchor="end" fill="#1a1a1a" transform="rotate(-90 260.01 101.40)" stroke="#1a1a1a" stroke-width="0.15">Healthy 14</text>
<text x="264.67" y="101.40" font-size="3.4" text-anchor="end" fill="#1a1a1a" transform="rotate(-90 264.67 101.40)" stroke="#1a1a1a" stroke-width="0.15">Healthy 15</text>
<text x="269.32" y="101.40" font-size="3.4" text-anchor="end" fill="#1a1a1a" transform="rotate(-90 269.32 101.40)" stroke="#1a1a1a" stroke-width="0.15">Healthy 16</text>
<text x="273.98" y="101.40" font-size="3.4" text-anchor="end" fill="#1a1a1a" transform="rotate(-90 273.98 101.40)" stroke="#1a1a1a" stroke-width="0.15">Healthy 17</text>
<text x="278.63" y="101.40" font-size="3.4" text-anchor="end" fill="#1a1a1a" transform="rotate(-90 278.63 101.40)" stroke="#1a1a1a" stroke-width="0.15">COVID_ICU 1</text>
<text x="283.29" y="101.40" font-size="3.4" text-anchor="end" fill="#1a1a1a" transform="rotate(-90 283.29 101.40)" stroke="#1a1a1a" stroke-width="0.15">COVID_ICU 3</text>
<text x="287.95" y="101.40" font-size="3.4" text-anchor="end" fill="#1a1a1a" transform="rotate(-90 287.95 101.40)" stroke="#1a1a1a" stroke-width="0.15">COVID_ICU 2</text>
<text x="292.60" y="101.40" font-size="3.4" text-anchor="end" fill="#1a1a1a" transform="rotate(-90 292.60 101.40)" stroke="#1a1a1a" stroke-width="0.15">COVID_ICU 4</text>
<text x="297.26" y="101.40" font-size="3.4" text-anchor="end" fill="#1a1a1a" transform="rotate(-90 297.26 101.40)" stroke="#1a1a1a" stroke-width="0.15">COVID_Severe 6</text>
<text x="301.92" y="101.40" font-size="3.4" text-anchor="end" fill="#1a1a1a" transform="rotate(-90 301.92 101.40)" stroke="#1a1a1a" stroke-width="0.15">COVID_Severe 10</text>
<text x="306.57" y="101.40" font-size="3.4" text-anchor="end" fill="#1a1a1a" transform="rotate(-90 306.57 101.40)" stroke="#1a1a1a" stroke-width="0.15">COVID_Moderate 1</text>
<text x="311.23" y="101.40" font-size="3.4" text-anchor="end" fill="#1a1a1a" transform="rotate(-90 311.23 101.40)" stroke="#1a1a1a" stroke-width="0.15">COVID_Severe 2</text>
<text x="315.88" y="101.40" font-size="3.4" text-anchor="end" fill="#1a1a1a" transform="rotate(-90 315.88 101.40)" stroke="#1a1a1a" stroke-width="0.15">COVID_Severe 1</text>
<text x="320.54" y="101.40" font-size="3.4" text-anchor="end" fill="#1a1a1a" transform="rotate(-90 320.54 101.40)" stroke="#1a1a1a" stroke-width="0.15">COVID_Severe 3</text>
<text x="325.20" y="101.40" font-size="3.4" text-anchor="end" fill="#1a1a1a" transform="rotate(-90 325.20 101.40)" stroke="#1a1a1a" stroke-width="0.15">COVID_Moderate 3</text>
<text x="329.85" y="101.40" font-size="3.4" text-anchor="end" fill="#1a1a1a" transform="rotate(-90 329.85 101.40)" stroke="#1a1a1a" stroke-width="0.15">COVID_Severe 4</text>
<text x="334.51" y="101.40" font-size="3.4" text-anchor="end" fill="#1a1a1a" transform="rotate(-90 334.51 101.40)" stroke="#1a1a1a" stroke-width="0.15">COVID_Severe 5</text>
<text x="339.17" y="101.40" font-size="3.4" text-anchor="end" fill="#1a1a1a" transform="rotate(-90 339.17 101.40)" stroke="#1a1a1a" stroke-width="0.15">COVID_Moderate 2</text>
<text x="343.82" y="101.40" font-size="3.4" text-anchor="end" fill="#1a1a1a" transform="rotate(-90 343.82 101.40)" stroke="#1a1a1a" stroke-width="0.15">COVID_Severe 7</text>
<text x="0.30" y="141.60" font-size="6.6" text-anchor="start" font-weight="bold" fill="#000">C</text>
<text x="32.80" y="142.00" font-size="6.0" text-anchor="start" fill="#111" stroke="#111" stroke-width="0.20">DEGs in the mild patients</text>
<path d="M96.2 144.5V256M107.4 144.5V256M33.5 248.8H160" stroke="#d4d4d4" stroke-width="0.4" stroke-dasharray="1.2 0.8" fill="none"/>
<path d="M99.2 233.4h0M100.6 236.0h0M96.9 246.0h0M107.0 230.2h0M105.3 230.5h0M103.3 247.3h0M102.1 241.9h0M104.5 235.4h0M105.6 230.3h0M104.1 247.8h0M104.1 249.6h0M100.8 244.4h0M101.3 250.2h0M105.8 214.2h0M106.6 228.8h0M100.4 235.2h0M102.8 248.9h0M103.8 249.9h0M105.5 252.6h0M105.6 251.5h0M106.0 234.5h0M105.3 234.7h0M105.5 252.6h0M97.7 244.4h0M99.8 243.1h0M105.7 211.9h0M105.8 252.2h0M102.0 252.9h0M98.8 227.5h0M97.2 247.3h0M100.0 251.2h0M105.9 226.2h0M103.4 235.6h0M102.5 236.7h0M106.4 231.8h0M101.2 241.0h0M106.8 232.4h0M101.0 234.9h0M97.0 236.5h0M103.2 230.0h0M104.0 241.7h0M103.7 251.4h0M99.4 229.6h0M100.6 235.6h0M102.6 241.6h0M105.0 220.3h0M98.7 228.7h0M105.3 228.9h0M105.5 217.3h0M100.2 238.0h0M105.8 229.4h0M105.0 246.1h0M105.0 237.6h0M105.0 224.8h0M98.1 222.6h0M104.9 221.7h0M106.2 216.7h0M96.8 250.6h0M105.8 252.4h0M101.2 250.9h0M106.3 219.5h0M104.4 246.0h0M103.6 232.3h0M106.0 239.8h0M106.2 248.6h0M106.0 234.8h0M96.9 242.0h0M98.6 222.9h0M103.6 232.6h0M101.0 250.4h0M99.4 247.1h0M101.7 243.6h0M102.3 245.1h0M98.5 244.0h0M106.2 244.7h0M103.2 247.1h0M99.5 232.7h0M106.7 246.7h0M97.7 231.6h0M100.4 237.8h0M98.7 224.1h0M98.1 233.9h0M104.1 226.4h0M100.6 236.0h0M104.8 226.4h0M105.0 236.8h0M101.9 240.2h0M101.1 239.8h0M102.3 239.9h0M97.5 228.3h0M101.1 247.8h0M106.4 226.1h0M106.0 244.0h0M99.5 230.0h0M98.1 245.0h0M103.6 248.2h0M104.9 238.7h0M104.3 234.2h0M97.9 235.3h0M105.8 217.7h0M97.0 246.2h0M98.0 246.3h0M103.7 246.0h0M106.5 234.9h0M104.6 232.0h0M104.4 250.2h0M97.4 223.9h0M102.6 245.6h0M99.3 236.5h0M104.5 226.9h0M97.6 231.5h0M106.7 227.8h0M103.8 242.5h0M103.7 232.2h0M101.7 237.6h0M106.0 216.4h0M97.8 242.2h0M106.1 232.2h0M101.3 240.9h0M98.8 235.2h0M103.8 251.0h0M99.8 240.3h0M101.0 246.7h0M98.6 225.5h0M100.1 243.3h0M98.3 252.6h0M101.7 235.8h0M101.6 245.9h0M105.2 234.0h0M101.7 241.0h0M105.5 227.2h0M104.3 251.3h0M99.2 240.9h0M103.7 251.2h0M105.5 220.4h0M98.7 240.3h0M105.6 248.7h0M99.4 247.2h0M97.7 245.9h0M102.7 239.0h0M96.9 224.4h0M98.9 235.2h0M106.5 226.8h0M99.6 238.6h0M97.9 248.1h0M106.1 214.2h0M106.4 226.1h0M104.7 242.6h0M99.8 239.1h0M103.5 244.7h0M99.5 242.4h0M106.6 238.9h0M104.1 239.2h0M103.4 237.1h0M98.6 248.3h0M106.3 216.1h0M100.2 241.0h0M102.9 233.9h0M103.4 229.7h0M97.5 240.8h0M104.5 233.4h0M104.3 225.4h0M105.7 211.8h0M104.6 225.2h0M102.3 243.2h0M100.4 246.4h0M104.7 241.3h0M101.0 242.0h0M105.1 242.2h0M105.0 248.3h0M106.5 226.5h0M102.4 235.1h0M103.3 252.0h0M105.6 230.8h0M102.9 241.3h0M96.8 243.1h0M103.6 231.2h0M98.8 232.8h0M97.2 231.5h0M103.4 229.1h0M102.6 251.2h0M105.9 215.8h0M104.9 236.8h0M97.3 225.5h0M102.3 250.0h0M100.1 247.4h0M105.6 235.8h0M106.3 240.8h0M104.3 224.8h0M105.0 250.1h0M126.5 251.3h0M120.9 251.5h0M85.9 250.1h0M84.2 250.6h0M88.7 251.5h0M117.8 251.6h0M102.8 251.9h0M96.5 251.4h0M120.9 251.2h0M89.8 252.7h0M118.9 251.1h0M100.0 251.6h0M112.2 250.7h0M80.1 250.6h0M122.3 250.4h0M104.8 250.6h0M91.3 250.5h0M101.8 250.5h0M81.5 250.3h0M89.1 251.5h0M83.2 250.1h0M104.2 251.2h0M118.0 250.2h0M101.8 251.2h0M81.4 252.9h0M91.8 250.3h0M105.6 250.5h0M113.6 251.0h0M86.7 250.2h0M119.3 250.8h0M122.5 251.4h0M130.4 250.9h0M93.5 250.8h0M124.0 251.9h0M98.6 250.3h0M116.8 252.9h0M112.0 250.0h0M81.6 250.3h0M89.2 250.1h0M82.9 252.0h0M128.6 250.6h0M132.6 251.4h0M123.4 252.8h0M130.8 250.1h0M96.5 251.8h0M131.1 250.3h0M95.8 252.5h0M86.2 251.2h0M98.0 252.0h0M130.1 250.5h0M119.9 252.2h0M125.1 251.7h0M129.9 251.1h0M102.4 250.7h0M122.1 251.4h0M94.6 250.5h0M118.9 251.8h0M118.4 251.2h0M106.3 250.5h0M118.4 250.1h0M105.2 252.3h0M116.6 250.3h0M92.8 252.5h0M114.7 252.6h0M127.1 251.3h0M128.4 252.2h0M98.0 251.1h0M83.9 251.2h0M131.6 250.3h0M110.7 250.3h0M84.4 251.9h0M93.0 250.1h0M88.2 251.9h0M111.6 250.0h0M92.4 252.9h0M91.9 251.7h0M102.7 252.3h0M112.6 252.4h0M108.9 250.6h0M89.6 250.2h0M101.3 241.0h0M103.2 232.0h0M98.3 226.0h0M105.8 221.0h0M106.0 215.0h0M98.0 224.0h0M104.5 218.0h0" stroke="#bebebe" stroke-width="2.4" stroke-linecap="round" fill="none"/>
<path d="M93.3 216.6h0M80.5 248.2h0M81.0 245.6h0M89.0 238.0h0M92.0 247.3h0M93.5 236.1h0M93.0 220.3h0M91.3 215.1h0M91.4 229.1h0M89.7 236.5h0M96.7 225.6h0M95.4 241.4h0M94.3 252.0h0M88.9 249.7h0M95.7 248.6h0M95.8 231.6h0M92.2 228.5h0M96.7 249.3h0M82.4 249.8h0M91.2 223.9h0M87.0 237.9h0M91.7 223.6h0M90.7 251.5h0M96.4 247.5h0M87.2 234.0h0M83.8 246.5h0M94.5 244.7h0M92.9 212.4h0M92.1 230.9h0M96.4 243.8h0M89.2 239.3h0M95.0 244.7h0M91.9 244.0h0M86.8 245.7h0M89.6 248.3h0M94.9 230.9h0M90.0 249.6h0M93.0 236.4h0M90.4 252.2h0M92.8 230.3h0M96.0 218.3h0M84.9 246.5h0M93.3 249.7h0M88.2 234.3h0M90.9 248.9h0M94.7 250.9h0M95.2 219.3h0M84.3 245.5h0M95.8 250.2h0M81.6 251.7h0M87.2 242.1h0M93.5 237.6h0M93.1 212.2h0M82.2 250.9h0M81.3 250.8h0M79.4 248.7h0M80.1 252.2h0M90.2 238.2h0M91.9 219.1h0M94.3 214.0h0M96.0 233.7h0M84.4 252.0h0M83.7 249.1h0M95.6 252.4h0M96.4 222.0h0M83.7 250.5h0M86.3 240.5h0M83.5 242.3h0M92.4 235.0h0M93.4 220.1h0M88.6 249.8h0M93.7 219.3h0M96.1 246.0h0M96.4 228.6h0M94.2 216.6h0M92.6 252.2h0M90.4 233.3h0M92.1 215.7h0M96.4 249.9h0M94.0 245.8h0M82.3 251.6h0M86.7 241.7h0M82.2 251.2h0M87.3 247.4h0M96.5 233.4h0M93.7 243.5h0M84.3 251.7h0M87.6 247.8h0M85.3 247.1h0M90.9 226.6h0M89.7 247.4h0M87.4 249.3h0M87.3 241.9h0M93.3 245.9h0M95.0 229.9h0M94.4 227.3h0M86.1 248.1h0M93.2 236.3h0M93.4 219.4h0M89.3 238.7h0M96.4 240.0h0M91.8 252.2h0M94.7 245.5h0M88.3 247.8h0M87.1 235.2h0M86.0 246.7h0M96.4 238.8h0M82.6 248.4h0M89.1 226.4h0M92.1 248.9h0M93.9 241.9h0M80.4 247.3h0M95.5 216.8h0M95.0 228.1h0M84.3 246.5h0M93.4 214.3h0M90.7 220.7h0M90.1 236.7h0M88.6 237.4h0M92.5 246.8h0M81.9 248.4h0M90.4 221.0h0M93.1 251.9h0M83.5 252.3h0M91.1 225.7h0M91.4 235.6h0M93.8 231.4h0M87.4 247.0h0M88.3 245.4h0M92.0 234.4h0M82.6 248.1h0M94.5 233.9h0M96.6 245.9h0M91.7 223.8h0M91.4 226.2h0M87.4 249.4h0M94.1 232.9h0M95.6 216.7h0M95.7 231.3h0M96.0 219.5h0M88.1 232.7h0M96.5 244.0h0M91.4 248.6h0M91.7 221.1h0M85.8 251.5h0M83.1 242.9h0M84.1 247.2h0M91.6 232.4h0M90.5 229.3h0M92.8 222.4h0M87.5 235.7h0M86.7 250.6h0M93.7 241.5h0M87.8 242.2h0M95.2 220.2h0M79.7 251.7h0M91.5 231.6h0M91.5 218.1h0M87.5 239.1h0M94.5 217.6h0M92.4 227.8h0M85.8 252.3h0M96.2 216.1h0M92.8 227.7h0M92.8 230.0h0M90.0 225.2h0M92.7 226.0h0M88.1 234.1h0M92.0 236.4h0M89.9 241.8h0M92.6 232.3h0M78.5 249.5h0M88.3 237.3h0M96.8 218.8h0M83.9 252.5h0M95.3 228.8h0M94.1 248.7h0M78.3 251.0h0M77.4 251.0h0M91.6 233.5h0M92.1 232.6h0M90.2 232.8h0M95.3 229.1h0M90.9 234.7h0M89.7 242.1h0M95.9 231.3h0M88.4 236.7h0M94.4 234.9h0M91.7 226.7h0M91.2 223.0h0M89.5 241.5h0M89.6 241.0h0M95.1 219.9h0M94.6 244.4h0M91.0 251.7h0M94.8 216.9h0M88.6 250.4h0M82.4 246.6h0M94.9 229.6h0M93.3 229.1h0M95.3 222.3h0M96.3 223.4h0M95.5 221.3h0M94.8 225.5h0M87.5 234.7h0M82.6 245.9h0M95.5 242.5h0M93.1 214.9h0M79.6 251.2h0M94.9 249.0h0M94.9 222.8h0M82.3 250.3h0M80.6 249.4h0M78.7 248.4h0M89.8 236.0h0M94.2 225.9h0M86.4 243.5h0M85.4 243.1h0M87.0 246.3h0M86.1 241.0h0M80.3 251.7h0M87.5 246.0h0M93.7 247.5h0M91.8 230.3h0M91.6 244.2h0M96.8 239.4h0M94.3 234.2h0M93.4 223.4h0M95.5 220.7h0M90.8 242.1h0M89.1 243.0h0M96.2 220.8h0M93.7 230.0h0M87.1 239.1h0M92.7 246.8h0M79.8 248.4h0M87.1 240.3h0M92.1 243.5h0M95.3 241.6h0M88.6 228.4h0M96.0 229.4h0M83.9 250.4h0M89.7 230.6h0M89.9 236.4h0M89.0 232.1h0M93.4 219.8h0M92.4 224.1h0M93.7 214.9h0M90.9 220.2h0M87.9 235.4h0M87.7 224.5h0M85.4 230.4h0M88.5 231.1h0M87.3 221.6h0M83.7 237.2h0M86.7 234.4h0M81.0 240.3h0M83.7 236.1h0M86.1 230.0h0M80.8 241.3h0M87.4 226.9h0M81.3 239.0h0M83.8 235.2h0M87.3 223.2h0M85.5 228.8h0M86.1 238.8h0M86.2 233.1h0M84.2 238.9h0M80.8 242.3h0M88.0 225.7h0M88.9 227.2h0M79.9 246.1h0M94.5 200.7h0M38.6 235.9h0M51.2 244.6h0M51.9 246.7h0M56.1 246.0h0M58.2 247.1h0M61.7 247.8h0M65.2 241.1h0M77.0 243.0h0M78.5 241.8h0M76.0 245.5h0" stroke="#0000ff" stroke-width="2.5" stroke-linecap="round" fill="none"/>
<path d="M108.5 225.7h0M118.4 244.2h0M119.4 228.6h0M122.9 243.2h0M119.2 237.1h0M113.8 230.4h0M107.0 224.0h0M111.7 242.2h0M111.2 223.2h0M125.9 243.0h0M111.4 242.0h0M115.7 224.8h0M108.0 239.4h0M118.8 227.2h0M116.3 220.7h0M114.4 245.0h0M117.5 222.7h0M112.0 237.7h0M112.8 245.1h0M108.3 244.5h0M120.1 243.1h0M114.4 220.1h0M110.6 237.1h0M107.5 221.4h0M123.4 244.8h0M125.0 243.5h0M118.7 244.7h0M121.6 235.0h0M108.9 225.6h0M116.7 221.7h0M122.5 245.2h0M111.8 245.0h0M109.6 242.4h0M125.7 242.4h0M115.6 236.4h0M109.4 225.2h0M115.8 240.7h0M108.9 246.3h0M107.6 247.6h0M112.0 243.0h0M124.2 247.1h0M116.9 239.3h0M113.1 243.4h0M109.3 245.0h0M108.4 225.9h0M107.6 226.6h0M121.9 248.1h0M120.3 244.0h0M124.3 239.8h0M115.1 225.7h0M110.3 234.7h0M111.3 240.6h0M113.7 235.7h0M118.5 237.2h0M110.3 225.8h0M121.1 247.4h0M115.2 247.3h0M119.9 246.8h0M118.1 241.0h0M117.9 235.7h0M116.7 238.1h0M121.8 237.1h0M110.6 247.8h0M114.8 239.5h0M119.4 230.1h0M116.2 235.1h0M121.9 236.4h0M122.6 244.8h0M108.7 247.5h0M116.8 221.0h0M111.9 243.6h0M121.9 244.4h0M110.4 221.3h0M115.0 233.1h0M122.5 235.8h0M113.1 242.0h0M108.5 236.1h0M110.9 219.3h0M117.0 233.9h0M119.9 229.4h0M109.2 223.4h0M114.8 238.6h0M114.4 237.9h0M120.2 237.1h0M113.5 237.5h0M120.6 235.9h0M117.3 240.9h0M111.3 239.8h0M112.3 248.1h0M108.7 242.9h0M126.4 245.4h0M109.9 230.3h0M110.2 241.1h0M109.0 220.2h0M109.4 244.2h0M112.2 227.9h0M116.4 234.8h0M115.7 246.9h0M114.2 232.5h0M110.7 243.5h0M113.6 245.2h0M114.0 221.1h0M114.2 223.4h0M111.7 244.7h0M109.7 234.9h0M120.1 233.9h0M117.5 230.1h0M111.0 243.0h0M112.3 245.8h0M111.2 223.2h0M120.1 243.4h0M114.2 248.1h0M123.6 241.1h0M108.6 244.0h0M123.6 246.4h0M108.0 231.9h0M113.4 241.8h0M116.3 248.4h0M125.0 244.2h0M121.4 235.6h0M117.1 235.3h0M113.4 224.0h0M109.2 247.8h0M117.7 238.6h0M114.1 222.5h0M114.0 243.4h0M112.8 245.8h0M113.4 245.4h0M110.8 231.5h0M109.7 222.5h0M118.0 229.1h0M118.3 224.6h0M113.5 227.8h0M115.7 244.1h0M119.0 225.8h0M116.2 244.2h0M112.9 226.7h0M107.4 238.2h0M108.9 234.1h0M110.0 236.4h0M112.7 237.0h0M112.0 229.5h0M117.6 226.3h0M111.7 220.4h0M109.7 224.6h0M116.3 247.3h0M112.0 228.0h0M117.6 225.9h0M114.3 224.5h0M112.1 240.9h0M119.7 231.6h0M116.9 236.7h0M114.2 247.2h0M107.5 231.3h0M116.2 229.4h0M109.1 235.6h0M112.3 241.2h0M118.1 226.9h0M108.8 226.5h0M108.1 231.1h0M126.1 246.7h0M112.0 224.2h0M114.8 237.5h0M107.5 232.9h0M115.9 238.2h0M119.7 226.3h0M116.5 237.4h0M108.1 233.7h0M117.5 223.6h0M112.2 243.1h0M114.3 223.9h0M113.0 233.9h0M115.4 228.7h0M113.8 224.6h0M117.6 236.3h0M108.9 236.0h0M113.5 247.8h0M109.3 244.7h0M120.4 247.8h0M118.7 238.6h0M120.7 244.2h0M111.4 234.6h0M119.4 228.8h0M125.1 243.9h0M121.4 234.3h0M112.8 223.8h0M119.6 232.1h0M116.2 240.5h0M119.7 231.6h0M113.1 232.2h0M107.7 225.8h0M108.8 243.9h0M114.8 234.2h0M119.3 239.9h0M113.7 241.5h0M107.0 243.8h0M113.5 237.1h0M113.4 240.9h0M114.9 236.4h0M113.7 243.4h0M122.9 246.7h0M112.0 223.8h0M126.6 247.4h0M109.7 241.7h0M116.9 221.8h0M120.7 239.4h0M113.1 219.4h0M108.9 225.9h0M109.8 229.8h0M121.9 241.3h0M107.7 227.5h0M107.3 226.3h0M119.4 226.4h0M112.2 220.9h0M114.5 233.7h0M119.4 246.8h0M108.5 225.8h0M108.6 246.4h0M120.3 238.0h0M120.2 230.3h0M112.8 225.6h0M110.3 228.8h0M118.9 229.4h0M119.4 243.7h0M120.4 242.4h0M113.4 244.5h0M122.9 244.5h0M122.2 233.5h0M119.6 248.5h0M111.3 236.6h0M114.4 225.3h0M122.4 246.3h0M122.6 242.7h0M114.9 241.0h0M115.1 224.1h0M107.0 240.1h0M108.3 227.7h0M111.4 240.3h0M111.0 235.8h0M118.6 228.6h0M117.8 238.3h0M115.5 223.7h0M118.5 233.1h0M120.0 227.0h0M108.5 234.6h0M112.7 224.5h0M125.7 247.9h0M118.4 241.9h0M124.3 243.4h0M113.1 243.2h0M107.2 223.7h0M120.7 231.0h0M118.0 239.7h0M126.3 245.5h0M112.5 233.3h0M108.5 223.5h0M121.9 243.2h0M121.5 242.3h0M121.8 244.4h0M109.3 226.7h0M116.9 244.6h0M121.4 242.1h0M116.9 233.5h0M108.6 224.1h0M110.3 234.4h0M117.0 222.4h0M113.9 243.6h0M112.8 233.7h0M120.4 248.3h0M116.6 247.0h0M109.7 226.2h0M121.5 239.2h0M112.1 233.8h0M118.2 237.1h0M110.6 233.5h0M119.5 232.9h0M117.7 232.4h0M111.2 231.9h0M116.5 229.4h0M123.2 248.1h0M114.8 247.0h0M108.7 220.7h0M108.4 247.3h0M117.6 231.2h0M109.1 245.0h0M113.5 223.5h0M113.4 222.6h0M114.7 219.4h0M107.9 245.4h0M124.8 242.9h0M114.4 231.7h0M118.4 242.0h0M113.4 233.6h0M118.5 243.7h0M115.5 245.0h0M110.7 237.1h0M109.8 226.3h0M116.5 235.9h0M115.2 241.1h0M123.0 241.0h0M128.4 247.9h0M114.6 219.0h0M120.3 223.9h0M123.4 223.5h0M111.7 218.4h0M107.7 220.8h0M115.3 216.8h0M122.9 219.9h0M124.8 235.6h0M125.6 235.6h0M115.5 216.4h0M122.0 227.3h0M126.2 243.1h0M114.3 215.6h0M120.9 227.7h0M111.4 211.5h0M114.3 218.6h0M120.4 218.8h0M113.4 215.7h0M119.2 219.9h0M112.5 213.1h0M118.0 216.8h0M119.6 215.2h0M127.0 236.8h0M128.7 244.0h0M123.5 225.6h0M108.2 216.9h0M119.3 212.8h0M117.3 216.5h0M107.2 212.4h0M113.1 217.5h0M111.5 210.7h0M126.5 235.7h0M112.9 216.7h0M114.9 219.9h0M110.3 218.1h0M120.6 228.3h0M128.1 243.4h0M118.1 214.3h0M129.1 245.5h0M111.9 210.4h0M117.5 218.8h0M113.6 213.9h0M115.7 216.0h0M124.4 230.6h0M107.9 220.4h0M118.5 214.0h0M121.0 225.8h0M116.3 220.5h0M114.6 212.0h0M116.4 215.6h0M115.5 212.2h0M127.7 244.8h0M121.1 219.7h0M120.2 220.1h0M125.0 226.5h0M115.0 213.0h0M113.9 212.5h0M130.3 243.5h0M107.8 213.0h0M114.2 218.0h0M122.1 219.5h0M124.8 236.1h0M127.9 237.1h0M111.6 211.6h0M108.9 219.7h0M117.9 212.6h0M125.7 229.5h0M128.2 242.1h0M127.6 244.0h0M128.1 241.8h0M126.5 232.6h0M121.8 223.2h0M129.4 240.5h0M125.5 229.7h0M122.9 223.0h0M114.3 218.9h0M124.8 235.5h0M107.0 213.1h0M108.0 217.4h0M115.3 212.3h0M121.2 223.6h0M126.3 237.6h0M124.6 229.9h0M126.9 239.7h0M108.9 220.1h0M124.2 236.4h0M118.7 222.8h0M126.3 234.9h0M112.8 215.2h0M121.2 203.8h0M109.0 203.1h0M120.8 206.5h0M115.8 207.7h0M109.5 212.2h0M118.8 205.3h0M112.4 205.1h0M111.7 209.9h0M121.2 205.8h0M111.9 206.4h0M115.1 202.6h0M113.6 205.8h0M108.9 212.0h0M118.8 207.9h0M108.2 210.7h0M113.5 212.6h0M118.0 204.9h0M119.8 209.1h0M113.0 211.5h0M112.6 203.7h0M107.7 209.4h0M111.7 203.9h0M107.8 211.3h0M111.7 212.3h0M122.2 211.8h0M117.6 212.2h0M122.4 205.8h0M113.4 212.8h0M111.9 203.2h0M107.6 208.7h0M134.5 238.1h0M136.0 239.2h0M136.5 247.6h0M130.8 236.1h0M128.6 228.7h0M132.2 233.6h0M131.8 231.2h0M132.7 242.7h0M131.7 231.0h0M130.4 234.3h0M131.5 228.2h0M130.2 229.6h0M128.1 235.4h0M128.7 227.1h0M117.6 189.6h0M110.0 190.0h0M114.3 190.4h0M116.0 192.0h0M124.0 196.0h0M127.0 198.0h0M113.0 196.0h0M118.0 197.0h0M121.0 199.0h0M135.0 236.0h0M139.0 243.0h0M131.0 226.0h0M136.0 232.0h0M137.5 247.0h0M129.0 213.0h0M127.0 210.0h0" stroke="#fc1a1a" stroke-width="2.6" stroke-linecap="round" fill="none"/>
<g fill="#e8102a" stroke="#b0101e" stroke-width="0.35">
<circle cx="119.8" cy="148.4" r="1.0"/><circle cx="118.5" cy="150.4" r="1.0"/><circle cx="119.3" cy="151.4" r="1.0"/><circle cx="119.7" cy="163.5" r="1.0"/><circle cx="118.8" cy="165.2" r="1.0"/><circle cx="119.8" cy="171.3" r="1.0"/><circle cx="121.8" cy="179.0" r="1.0"/><circle cx="122.7" cy="181.2" r="1.0"/><circle cx="153.8" cy="170.8" r="1.0"/><circle cx="121.0" cy="186.0" r="1.0"/>
</g>
<path d="M33.1 144.3V256.1H160.3" stroke="#9a9a9a" stroke-width="0.7" fill="none"/>
<path d="M31.9 251.9H33.1" stroke="#9a9a9a" stroke-width="0.56"/>
<text x="31.50" y="253.70" font-size="5.0" text-anchor="end" fill="#4d4d4d" stroke="#4d4d4d" stroke-width="0.20">0</text>
<path d="M31.9 228.3H33.1" stroke="#9a9a9a" stroke-width="0.56"/>
<text x="31.50" y="230.10" font-size="5.0" text-anchor="end" fill="#4d4d4d" stroke="#4d4d4d" stroke-width="0.20">10</text>
<path d="M31.9 204.7H33.1" stroke="#9a9a9a" stroke-width="0.56"/>
<text x="31.50" y="206.50" font-size="5.0" text-anchor="end" fill="#4d4d4d" stroke="#4d4d4d" stroke-width="0.20">20</text>
<path d="M31.9 181.1H33.1" stroke="#9a9a9a" stroke-width="0.56"/>
<text x="31.50" y="182.90" font-size="5.0" text-anchor="end" fill="#4d4d4d" stroke="#4d4d4d" stroke-width="0.20">30</text>
<path d="M31.9 157.5H33.1" stroke="#9a9a9a" stroke-width="0.56"/>
<text x="31.50" y="159.30" font-size="5.0" text-anchor="end" fill="#4d4d4d" stroke="#4d4d4d" stroke-width="0.20">40</text>
<path d="M46.2 256.1V257.3" stroke="#9a9a9a" stroke-width="0.56"/>
<text x="46.20" y="261.70" font-size="5.0" text-anchor="middle" fill="#4d4d4d" stroke="#4d4d4d" stroke-width="0.20">−10</text>
<path d="M74.0 256.1V257.3" stroke="#9a9a9a" stroke-width="0.56"/>
<text x="74.00" y="261.70" font-size="5.0" text-anchor="middle" fill="#4d4d4d" stroke="#4d4d4d" stroke-width="0.20">−5</text>
<path d="M101.8 256.1V257.3" stroke="#9a9a9a" stroke-width="0.56"/>
<text x="101.80" y="261.70" font-size="5.0" text-anchor="middle" fill="#4d4d4d" stroke="#4d4d4d" stroke-width="0.20">0</text>
<path d="M129.6 256.1V257.3" stroke="#9a9a9a" stroke-width="0.56"/>
<text x="129.60" y="261.70" font-size="5.0" text-anchor="middle" fill="#4d4d4d" stroke="#4d4d4d" stroke-width="0.20">5</text>
<path d="M157.4 256.1V257.3" stroke="#9a9a9a" stroke-width="0.56"/>
<text x="157.40" y="261.70" font-size="5.0" text-anchor="middle" fill="#4d4d4d" stroke="#4d4d4d" stroke-width="0.20">10</text>
<text x="97.00" y="267.60" font-size="4.5" text-anchor="middle" fill="#222" stroke="#222" stroke-width="0.18">log2(Mild/Healthy)</text>
<text x="23.30" y="199.80" font-size="4.5" text-anchor="middle" fill="#222" transform="rotate(-90 23.30 199.80)" stroke="#222" stroke-width="0.18">−log10(Padj)</text>
<circle cx="42.2" cy="149.0" r="1.1" fill="#d04a5a"/>
<text x="44.80" y="150.35" font-size="3.75" text-anchor="start" fill="#333" stroke="#333" stroke-width="0.10">log2[FC] &gt; 1</text>
<circle cx="42.2" cy="152.2" r="1.1" fill="#3a3a9a"/>
<text x="44.80" y="153.55" font-size="3.75" text-anchor="start" fill="#333" stroke="#333" stroke-width="0.10">log2[FC] &lt; −1</text>
<circle cx="42.2" cy="155.4" r="1.1" fill="#d4d4dc"/>
<text x="44.80" y="156.75" font-size="3.75" text-anchor="start" fill="#333" stroke="#333" stroke-width="0.10">Not significant</text>
<text x="119.30" y="148.40" font-size="3.0" text-anchor="start" fill="#111" stroke="#111" stroke-width="0.18">UBDC</text>
<text x="110.00" y="154.30" font-size="3.0" text-anchor="start" fill="#111" stroke="#111" stroke-width="0.18">CCNA2</text>
<text x="119.30" y="162.70" font-size="3.0" text-anchor="start" fill="#111" stroke="#111" stroke-width="0.18">TK1</text>
<text x="112.60" y="167.20" font-size="3.0" text-anchor="start" fill="#111" stroke="#111" stroke-width="0.18">CFS2</text>
<text x="107.60" y="173.30" font-size="3.0" text-anchor="start" fill="#111" stroke="#111" stroke-width="0.18">AURKB</text>
<text x="116.50" y="177.60" font-size="3.0" text-anchor="start" fill="#111" stroke="#111" stroke-width="0.18">PLK1</text>
<text x="121.50" y="184.00" font-size="3.0" text-anchor="start" fill="#111" stroke="#111" stroke-width="0.18">RRM2</text>
<text x="117.00" y="188.60" font-size="3.0" text-anchor="start" fill="#111" stroke="#111" stroke-width="0.18">CTNS</text>
<text x="106.90" y="194.10" font-size="3.0" text-anchor="start" fill="#111" stroke="#111" stroke-width="0.18">CDC20</text>
<text x="102.30" y="199.60" font-size="3.0" text-anchor="start" fill="#111" stroke="#111" stroke-width="0.18">NUSAP1</text>
<text x="125.00" y="200.00" font-size="3.0" text-anchor="start" fill="#111" stroke="#111" stroke-width="0.18">GINS2</text>
<text x="105.00" y="204.50" font-size="3.0" text-anchor="start" fill="#111" stroke="#111" stroke-width="0.18">FOXM1</text>
<text x="127.80" y="204.50" font-size="3.0" text-anchor="start" fill="#111" stroke="#111" stroke-width="0.18">TOP2A</text>
<text x="124.20" y="214.20" font-size="3.0" text-anchor="start" fill="#111" stroke="#111" stroke-width="0.18">EGF</text>
<text x="152.00" y="170.00" font-size="3.0" text-anchor="start" fill="#111" stroke="#111" stroke-width="0.18">IGLL1</text>
<text x="78.00" y="217.50" font-size="3.0" text-anchor="start" fill="#111" stroke="#111" stroke-width="0.18">TMPRSS</text>
<text x="80.00" y="227.30" font-size="3.0" text-anchor="start" fill="#111" stroke="#111" stroke-width="0.18">ALDH</text>
<text x="75.00" y="231.30" font-size="3.0" text-anchor="start" fill="#111" stroke="#111" stroke-width="0.18">CYP24A1</text>
<text x="78.00" y="235.50" font-size="3.0" text-anchor="start" fill="#111" stroke="#111" stroke-width="0.18">DSC3</text>
<text x="67.30" y="240.00" font-size="3.0" text-anchor="start" fill="#111" stroke="#111" stroke-width="0.18">MS4A3</text>
<text x="57.50" y="240.00" font-size="3.0" text-anchor="start" fill="#111" stroke="#111" stroke-width="0.18">PRAC</text>
<text x="97.70" y="230.60" font-size="3.0" text-anchor="start" fill="#111" stroke="#111" stroke-width="0.18">KRT7</text>
<text x="97.70" y="235.20" font-size="3.0" text-anchor="start" fill="#111" stroke="#111" stroke-width="0.18">CXCL</text>
<text x="36.50" y="235.10" font-size="3.0" text-anchor="start" fill="#111" stroke="#111" stroke-width="0.18">CCR10</text>
<text x="43.50" y="243.50" font-size="3.0" text-anchor="start" fill="#111" stroke="#111" stroke-width="0.18">LEPR</text>
<text x="134.20" y="235.20" font-size="3.0" text-anchor="start" fill="#111" stroke="#111" stroke-width="0.18">CLDN</text>
<text x="137.90" y="249.00" font-size="3.0" text-anchor="start" fill="#111" stroke="#111" stroke-width="0.18">FABP4</text>
<text x="186.00" y="141.70" font-size="6.6" text-anchor="start" font-weight="bold" fill="#000">D</text>
<text x="212.00" y="142.00" font-size="6.0" text-anchor="start" fill="#111" stroke="#111" stroke-width="0.20">DEGs in the severe patients</text>
<path d="M253.8 145V256M271.2 145V256M212.3 249.6H339" stroke="#d4d4d4" stroke-width="0.4" stroke-dasharray="1.2 0.8" fill="none"/>
<path d="M264.0 241.7h0M266.9 249.7h0M266.0 248.9h0M254.2 230.6h0M269.4 238.0h0M268.7 216.5h0M258.3 248.7h0M266.4 218.4h0M266.9 217.6h0M253.7 246.9h0M270.0 246.9h0M258.5 250.5h0M257.1 249.6h0M265.2 250.7h0M268.5 224.0h0M258.7 236.1h0M253.8 239.1h0M267.3 231.2h0M258.9 231.2h0M269.9 212.9h0M266.1 245.8h0M254.0 243.5h0M259.8 235.1h0M256.7 250.2h0M257.0 242.2h0M269.1 249.7h0M255.5 241.9h0M266.9 246.4h0M254.3 249.8h0M255.2 225.6h0M263.8 248.7h0M259.3 249.0h0M265.1 251.9h0M270.1 233.3h0M263.6 245.1h0M254.6 248.6h0M254.2 231.7h0M267.6 217.2h0M265.8 250.0h0M264.2 243.5h0M255.5 229.4h0M256.2 245.8h0M258.6 230.1h0M270.3 246.1h0M269.9 230.1h0M260.0 251.5h0M269.6 237.1h0M255.2 222.9h0M266.7 246.7h0M259.7 243.4h0M266.6 239.8h0M264.7 242.4h0M259.7 240.2h0M258.4 231.4h0M266.5 239.6h0M258.6 249.8h0M264.5 235.2h0M253.9 233.9h0M257.9 238.9h0M261.4 244.7h0M264.4 243.9h0M259.5 237.8h0M265.9 245.1h0M259.5 245.7h0M268.1 239.5h0M269.9 250.3h0M256.5 245.5h0M269.3 231.1h0M265.2 240.8h0M266.7 235.2h0M264.7 228.8h0M264.1 243.0h0M264.3 240.8h0M257.3 239.4h0M257.6 248.1h0M253.7 228.2h0M258.3 228.4h0M255.6 245.3h0M263.3 250.3h0M267.3 228.8h0M267.2 237.7h0M269.6 250.7h0M255.5 234.6h0M264.1 247.7h0M269.8 227.2h0M269.7 248.5h0M270.0 231.9h0M270.0 231.7h0M258.5 231.1h0M255.7 236.9h0M266.7 245.1h0M253.9 233.3h0M258.2 249.4h0M266.7 221.8h0M270.1 223.7h0M264.4 236.2h0M266.3 224.0h0M258.6 233.2h0M266.1 235.6h0M261.3 248.7h0M268.4 233.8h0M253.9 243.1h0M265.5 237.3h0M261.7 248.5h0M267.8 219.9h0M258.6 245.2h0M254.8 245.5h0M265.2 229.3h0M258.5 243.2h0M268.8 217.7h0M256.2 235.4h0M267.2 214.7h0M257.5 244.8h0M266.8 238.5h0M254.1 240.9h0M269.9 251.9h0M267.7 220.8h0M264.4 250.1h0M258.6 248.7h0M256.2 236.4h0M255.5 227.2h0M263.2 241.7h0M268.3 217.4h0M269.3 227.0h0M254.6 239.9h0M256.2 237.3h0M262.1 248.4h0M258.1 234.1h0M257.9 242.0h0M257.6 226.8h0M265.9 219.2h0M265.5 238.2h0M255.1 238.7h0M268.3 231.2h0M259.1 243.9h0M254.2 241.0h0M269.5 239.2h0M269.8 238.6h0M267.3 217.6h0M267.5 237.9h0M267.1 229.3h0M267.8 232.7h0M266.0 227.8h0M268.5 231.2h0M261.5 247.6h0M268.3 218.1h0M256.4 223.5h0M257.6 231.3h0M254.2 249.0h0M259.8 249.5h0M265.1 239.0h0M261.5 249.8h0M255.7 238.7h0M258.5 239.0h0M260.4 250.9h0M265.9 240.7h0M264.9 249.6h0M269.9 212.3h0M254.7 243.2h0M262.8 251.6h0M268.6 231.6h0M269.2 214.2h0M257.9 228.3h0M254.3 250.9h0M256.7 232.3h0M255.1 224.6h0M255.5 233.7h0M269.0 235.9h0M267.9 220.6h0M254.0 233.6h0M260.0 237.0h0M265.7 248.5h0M258.8 230.0h0M267.4 221.0h0M255.6 224.5h0M255.2 242.9h0M267.3 224.5h0M266.2 234.2h0M268.6 238.2h0M266.3 235.0h0M261.0 244.7h0M264.6 250.2h0M265.8 240.0h0M258.1 244.5h0M258.1 239.0h0M266.4 234.3h0M255.9 226.3h0M268.0 250.0h0M263.4 245.1h0M265.5 229.8h0M269.3 243.8h0M255.7 224.7h0M268.9 230.4h0M266.4 249.5h0M262.5 250.8h0M267.2 228.8h0M254.6 251.1h0M254.2 235.1h0M261.7 247.3h0M266.2 221.7h0M270.0 245.6h0M267.8 236.7h0M267.5 231.6h0M255.3 240.7h0M268.6 220.0h0M266.9 225.0h0M265.0 246.5h0M264.0 244.0h0M256.8 227.6h0M260.3 251.3h0M267.2 249.0h0M265.2 238.8h0M259.7 235.7h0M265.0 232.9h0M255.1 226.2h0M263.3 242.4h0M265.6 224.3h0M269.1 223.0h0M266.2 238.8h0M269.6 247.9h0M265.1 245.5h0M266.0 236.4h0M257.2 232.7h0M268.6 221.6h0M269.9 233.8h0M264.5 248.0h0M268.8 236.5h0M265.1 234.1h0M265.6 227.0h0M268.4 220.5h0M264.0 247.9h0M256.5 237.3h0M266.4 221.0h0M254.7 234.6h0M267.5 247.1h0M265.8 228.7h0M268.7 224.1h0M258.4 236.2h0M269.7 219.5h0M265.2 241.2h0M228.6 251.2h0M312.1 252.9h0M256.4 252.5h0M291.7 252.7h0M246.7 251.9h0M312.8 251.2h0M232.9 250.2h0M238.9 249.8h0M238.4 251.7h0M233.3 252.2h0M301.5 252.4h0M308.8 252.0h0M321.8 252.8h0M289.5 252.9h0M233.2 249.9h0M229.0 250.2h0M262.4 251.1h0M295.5 252.1h0M231.0 250.9h0M280.7 250.8h0M234.7 251.6h0M262.4 251.9h0M275.5 252.9h0M324.1 249.8h0M304.1 252.0h0M254.0 249.9h0M273.7 250.7h0M301.6 252.7h0M263.3 250.5h0M275.9 251.9h0M307.2 251.5h0M254.0 250.7h0M313.6 251.3h0M227.4 251.0h0M247.7 251.8h0M229.9 250.4h0M232.4 251.2h0M328.3 251.4h0M263.7 252.8h0M231.9 250.7h0M309.6 249.5h0M304.7 250.8h0M223.8 250.4h0M271.5 250.8h0M277.8 249.7h0M245.6 252.9h0M269.8 251.2h0M231.2 250.5h0M325.1 251.9h0M276.8 249.7h0M264.4 252.2h0M268.9 251.6h0M319.5 251.8h0M290.7 249.6h0M224.6 252.2h0M266.6 252.6h0M311.2 252.7h0M262.9 253.0h0M303.7 252.6h0M238.0 252.2h0M267.6 252.9h0M329.4 250.3h0M267.5 250.4h0M272.7 250.5h0M294.0 249.9h0M240.3 251.1h0M230.0 250.8h0M318.9 252.6h0M243.2 249.6h0M311.5 252.9h0M286.7 250.0h0M247.5 252.7h0M323.3 249.6h0M242.0 251.0h0M250.8 252.1h0M262.3 252.2h0M238.4 251.3h0M327.3 252.0h0M231.7 249.9h0M291.5 250.8h0M261.8 251.2h0M284.8 252.9h0M248.0 251.5h0M250.4 251.4h0M301.0 250.0h0M274.0 252.0h0M222.9 252.2h0M267.2 251.3h0M287.9 252.3h0M228.1 251.3h0M226.1 250.8h0M259.3 249.6h0M254.2 251.1h0M292.7 252.7h0M262.0 251.4h0M299.0 252.8h0M324.6 253.0h0M254.6 250.1h0M322.6 249.8h0M270.5 252.1h0M279.1 250.9h0M321.8 250.5h0M281.6 252.4h0M236.9 250.7h0M275.4 251.5h0M244.4 251.1h0M228.5 249.8h0M258.9 250.0h0M326.5 250.4h0M251.8 252.2h0" stroke="#bebebe" stroke-width="2.4" stroke-linecap="round" fill="none"/>
<path d="M249.1 239.8h0M238.4 239.9h0M250.3 234.2h0M250.8 226.3h0M247.0 237.8h0M249.0 235.8h0M246.5 239.3h0M252.1 224.3h0M240.2 240.5h0M250.7 242.6h0M247.3 228.8h0M247.4 236.5h0M250.9 235.0h0M235.4 249.4h0M239.3 239.6h0M245.7 234.4h0M242.9 248.4h0M241.0 237.1h0M250.9 237.7h0M245.1 233.6h0M248.1 246.1h0M250.6 228.9h0M244.3 240.2h0M252.2 224.5h0M247.7 231.1h0M249.5 238.5h0M230.2 250.2h0M238.3 240.1h0M246.4 233.3h0M251.9 244.7h0M250.8 236.2h0M251.7 249.4h0M253.0 237.3h0M242.4 250.2h0M241.5 248.5h0M238.3 240.0h0M251.3 230.8h0M248.7 236.9h0M251.8 235.0h0M239.8 248.5h0M242.9 236.0h0M235.9 243.3h0M247.4 239.1h0M245.9 242.9h0M244.1 246.7h0M244.5 235.7h0M250.2 248.6h0M250.3 225.0h0M252.7 224.8h0M244.9 243.7h0M251.9 230.4h0M249.7 240.8h0M239.2 246.1h0M245.4 231.2h0M246.8 236.2h0M246.3 239.4h0M248.2 244.1h0M242.0 235.4h0M252.7 246.6h0M234.8 245.9h0M244.8 232.5h0M245.0 238.4h0M247.1 236.1h0M246.9 232.2h0M243.5 243.7h0M239.8 241.6h0M248.5 235.3h0M248.3 244.0h0M244.2 246.0h0M243.9 242.5h0M249.7 239.5h0M253.0 227.0h0M236.3 242.9h0M252.2 247.8h0M240.1 244.0h0M245.9 246.8h0M245.6 243.9h0M250.2 248.5h0M248.3 233.5h0M245.0 240.7h0M250.5 242.4h0M245.6 244.1h0M249.4 232.0h0M242.4 249.7h0M249.3 230.8h0M251.5 223.4h0M247.4 235.3h0M248.5 234.5h0M251.3 239.2h0M249.0 227.9h0M236.2 245.5h0M246.7 233.2h0M236.8 246.7h0M247.9 230.3h0M244.6 248.5h0M251.6 229.8h0M252.0 223.6h0M245.6 234.8h0M237.0 241.6h0M240.0 247.2h0M249.0 236.1h0M249.6 238.1h0M240.0 240.7h0M243.9 233.2h0M239.7 247.4h0M243.7 238.7h0M245.9 236.3h0M249.7 246.3h0M244.1 246.4h0M231.7 247.6h0M238.0 244.5h0M251.9 249.2h0M238.5 246.7h0M253.2 224.9h0M247.2 242.8h0M251.6 233.1h0M239.6 239.4h0M241.1 238.4h0M241.2 248.0h0M247.9 230.2h0M232.9 249.0h0M253.0 244.6h0M233.7 250.5h0M253.2 243.2h0M251.4 246.1h0M248.0 228.7h0M246.5 235.7h0M249.6 246.5h0M246.7 242.9h0M251.2 237.7h0M252.3 235.6h0M249.3 243.3h0M244.4 246.7h0M248.2 229.9h0M245.1 238.5h0M235.8 242.9h0M234.0 248.6h0M246.1 243.0h0M240.8 247.1h0M244.3 241.7h0M240.3 237.4h0M241.7 246.2h0M243.7 240.7h0M240.4 239.0h0M239.8 237.8h0M237.5 241.8h0M250.7 234.3h0M245.2 242.6h0M240.6 237.1h0M247.7 249.7h0M241.3 240.9h0M237.0 241.5h0M243.9 241.1h0M251.5 242.2h0M246.2 242.1h0M241.0 236.7h0M246.5 244.0h0M240.4 249.2h0M239.8 238.0h0M253.1 230.7h0M246.4 249.7h0M244.8 237.2h0M248.2 246.8h0M244.0 242.0h0M252.3 245.1h0M239.4 248.4h0M252.0 243.7h0M237.1 244.1h0M241.9 241.0h0M244.5 247.0h0M246.4 250.1h0M245.0 237.9h0M230.2 249.8h0M251.6 229.3h0M236.3 245.4h0M242.8 247.9h0M247.7 249.3h0M247.6 237.3h0M250.2 230.5h0M250.8 233.7h0M253.0 242.5h0M246.9 245.3h0M240.3 248.3h0M251.1 225.5h0M253.0 237.6h0M252.0 235.3h0M236.5 244.3h0M253.2 239.6h0M241.7 241.2h0M245.3 236.6h0M245.4 231.1h0M249.7 235.5h0M250.6 238.3h0M236.1 242.4h0M251.8 240.9h0M249.3 238.8h0M250.8 248.0h0M241.0 244.5h0M232.3 249.4h0M250.0 235.5h0M250.5 229.9h0M252.8 230.7h0M251.5 246.1h0M251.7 242.8h0M244.9 248.3h0M252.0 238.9h0M247.3 249.0h0M247.0 243.6h0M243.9 235.3h0M246.5 233.8h0M252.1 249.5h0M235.8 244.4h0M250.5 248.9h0M245.5 235.2h0M252.0 234.2h0M248.2 248.9h0M244.1 238.7h0M248.2 242.4h0M245.7 230.9h0M245.4 248.2h0M253.0 226.5h0M243.1 240.3h0M236.0 247.7h0M243.8 242.3h0M232.4 246.0h0M246.9 230.7h0M252.8 240.7h0M240.5 237.9h0M243.1 239.0h0M252.8 239.6h0M216.7 248.8h0M232.0 243.0h0M232.8 238.5h0M241.0 232.8h0M239.8 234.2h0M235.0 236.0h0M236.7 239.6h0M237.9 232.8h0M225.6 241.2h0M236.9 235.7h0M243.0 231.1h0M225.3 243.0h0M237.8 233.9h0M232.4 246.0h0M245.4 227.4h0M237.2 240.0h0M219.2 248.6h0M230.9 243.1h0M226.0 249.5h0M219.3 247.3h0M234.1 236.8h0M236.2 237.8h0M216.3 246.2h0M225.8 248.2h0M239.7 232.8h0M230.0 241.2h0M246.0 226.0h0M246.8 229.3h0M224.0 249.5h0M225.8 245.4h0M237.8 236.6h0M247.3 228.4h0M240.8 232.3h0M242.0 234.9h0M233.0 238.8h0M226.9 247.5h0M228.6 244.4h0M236.0 237.5h0M245.4 232.4h0M232.4 237.7h0M241.2 222.9h0M252.8 216.1h0M248.0 225.0h0M238.0 230.0h0M232.0 234.0h0M225.0 238.0h0M218.0 241.0h0M250.0 219.0h0M244.0 227.0h0M236.0 232.5h0M229.0 237.0h0M221.0 240.5h0M214.0 245.0h0M246.0 223.0h0M240.0 228.0h0M251.5 221.5h0" stroke="#0000ff" stroke-width="2.5" stroke-linecap="round" fill="none"/>
<path d="M295.5 225.5h0M279.8 246.4h0M276.0 239.0h0M280.3 233.1h0M287.4 225.4h0M277.1 247.5h0M271.9 222.4h0M298.2 229.4h0M277.8 241.9h0M297.0 230.2h0M304.1 238.4h0M275.4 231.6h0M297.0 222.7h0M273.8 248.5h0M272.9 239.6h0M297.3 231.5h0M294.2 246.5h0M289.2 220.3h0M275.9 247.3h0M297.1 246.8h0M276.0 221.2h0M296.1 231.2h0M287.9 225.2h0M299.1 242.1h0M297.7 231.2h0M288.9 230.2h0M288.0 228.0h0M288.1 247.6h0M295.6 243.2h0M283.4 245.4h0M293.9 229.7h0M288.0 234.9h0M302.7 237.4h0M300.4 230.1h0M277.3 242.7h0M292.1 224.9h0M295.8 248.4h0M282.8 234.7h0M291.0 226.8h0M290.5 247.8h0M296.7 226.2h0M296.1 237.0h0M284.3 238.7h0M284.6 242.1h0M285.0 243.4h0M281.6 223.3h0M282.9 221.9h0M303.3 248.7h0M286.1 225.4h0M303.6 244.2h0M279.7 227.4h0M289.2 222.1h0M278.4 230.2h0M275.0 222.4h0M293.2 227.3h0M304.8 247.6h0M295.6 226.5h0M299.0 228.4h0M296.4 241.1h0M296.8 241.2h0M283.3 222.7h0M284.3 247.5h0M271.9 226.7h0M282.1 231.6h0M274.4 218.5h0M283.2 240.4h0M287.5 237.9h0M289.7 229.1h0M285.8 219.3h0M274.2 224.2h0M299.9 233.6h0M298.6 241.2h0M276.0 243.3h0M278.0 222.3h0M298.5 243.1h0M281.9 229.9h0M298.0 227.1h0M287.2 248.6h0M275.4 247.1h0M303.8 248.7h0M279.7 224.1h0M286.9 223.3h0M302.1 233.1h0M289.2 247.4h0M275.2 224.9h0M302.6 236.1h0M299.8 248.6h0M299.4 236.8h0M298.7 234.4h0M278.7 228.0h0M271.7 237.8h0M289.0 232.0h0M294.2 236.9h0M288.8 245.8h0M303.8 242.1h0M297.7 240.1h0M277.9 233.1h0M280.5 224.3h0M301.1 243.7h0M285.7 218.8h0M277.2 237.9h0M297.1 228.9h0M293.0 223.0h0M295.2 242.1h0M299.8 235.3h0M292.0 218.1h0M280.5 230.5h0M273.2 220.3h0M291.6 239.2h0M303.1 237.6h0M286.5 230.1h0M306.9 247.4h0M276.2 243.2h0M294.6 228.6h0M296.5 226.5h0M298.5 235.2h0M292.4 219.7h0M304.4 247.4h0M299.0 227.0h0M297.6 221.6h0M291.0 228.6h0M288.2 226.9h0M273.2 231.4h0M279.4 223.4h0M282.9 221.8h0M271.3 248.0h0M272.6 245.5h0M286.2 221.7h0M286.6 233.6h0M272.6 234.7h0M270.8 227.2h0M297.2 244.0h0M277.2 230.5h0M274.9 225.6h0M295.5 246.9h0M293.8 224.1h0M288.5 228.0h0M288.5 236.9h0M289.6 243.0h0M289.5 224.0h0M295.6 226.3h0M278.5 230.0h0M288.7 219.0h0M284.0 247.6h0M289.6 229.3h0M287.6 239.5h0M289.4 230.5h0M292.3 226.5h0M296.1 231.1h0M297.0 228.7h0M294.4 224.0h0M288.7 233.2h0M271.1 221.9h0M287.8 241.6h0M300.9 244.0h0M300.7 247.8h0M277.8 222.7h0M275.7 242.4h0M277.6 227.8h0M275.7 246.0h0M278.4 225.3h0M292.8 239.7h0M271.9 235.9h0M290.4 235.1h0M289.8 242.6h0M301.3 244.5h0M282.9 219.3h0M288.1 218.8h0M294.4 232.8h0M298.5 243.7h0M298.0 239.4h0M283.0 240.4h0M294.5 224.7h0M290.4 224.1h0M301.7 232.6h0M298.3 243.9h0M290.0 236.0h0M287.9 225.3h0M300.5 246.4h0M271.8 219.0h0M288.1 220.5h0M286.9 228.5h0M279.5 241.9h0M292.3 246.4h0M277.8 229.7h0M293.6 241.8h0M286.5 223.7h0M285.0 235.5h0M302.2 243.7h0M286.6 233.6h0M301.8 240.3h0M285.5 223.8h0M297.9 227.0h0M280.4 225.7h0M296.3 237.9h0M288.6 245.2h0M275.7 236.1h0M276.2 221.5h0M271.5 240.6h0M286.0 243.3h0M282.0 226.1h0M280.4 218.9h0M280.1 228.5h0M287.5 234.4h0M275.5 245.8h0M281.3 234.6h0M281.9 245.6h0M274.0 229.4h0M296.9 235.4h0M281.0 230.2h0M272.8 230.4h0M301.4 229.9h0M288.0 223.2h0M297.2 230.8h0M285.0 241.8h0M281.6 220.4h0M294.6 240.7h0M272.5 228.6h0M285.8 222.0h0M281.3 236.1h0M273.1 228.5h0M284.2 219.8h0M273.6 246.1h0M273.6 248.2h0M276.8 227.3h0M279.0 224.4h0M271.7 232.2h0M288.9 222.1h0M300.0 245.9h0M275.8 240.1h0M273.1 241.9h0M281.7 245.5h0M281.2 240.8h0M289.1 225.4h0M288.9 231.3h0M276.3 234.8h0M290.5 239.6h0M283.2 236.9h0M277.9 234.1h0M279.5 242.2h0M277.7 227.0h0M273.1 227.2h0M290.8 225.0h0M275.0 245.5h0M282.1 224.7h0M285.5 243.9h0M298.5 245.8h0M291.0 228.3h0M289.3 219.8h0M296.1 243.8h0M304.8 243.6h0M294.8 242.8h0M281.4 235.3h0M276.6 246.8h0M289.7 223.4h0M278.5 244.0h0M294.0 237.2h0M280.9 235.6h0M278.1 239.5h0M288.4 224.2h0M275.2 223.0h0M292.1 246.2h0M300.4 244.1h0M291.8 242.7h0M282.9 229.3h0M293.9 235.5h0M272.5 235.4h0M300.4 245.4h0M286.2 245.7h0M271.9 245.9h0M296.0 243.0h0M287.3 236.1h0M277.4 241.2h0M291.0 233.6h0M282.2 244.0h0M281.1 242.0h0M286.0 222.5h0M274.3 218.9h0M283.7 218.8h0M276.3 247.0h0M280.0 240.0h0M278.5 218.4h0M270.8 221.8h0M279.9 219.4h0M294.6 227.7h0M277.3 231.5h0M297.2 228.5h0M291.5 223.8h0M291.5 219.3h0M305.1 246.6h0M292.1 232.6h0M285.4 241.1h0M292.2 239.9h0M287.1 230.3h0M297.6 223.6h0M283.3 225.4h0M278.2 244.6h0M282.2 240.7h0M272.3 246.5h0M288.1 240.9h0M274.5 236.6h0M274.0 229.8h0M299.3 241.5h0M272.9 228.0h0M273.7 244.7h0M301.2 231.7h0M296.6 241.1h0M297.9 246.4h0M300.1 234.1h0M285.3 248.2h0M289.5 245.5h0M275.5 236.9h0M275.5 228.3h0M291.8 233.5h0M294.7 243.3h0M283.6 241.3h0M300.3 243.4h0M282.3 237.0h0M275.2 244.9h0M291.7 230.9h0M300.2 231.7h0M275.7 228.8h0M299.0 237.8h0M289.1 218.3h0M280.9 242.3h0M284.8 241.0h0M295.6 235.8h0M300.0 235.0h0M290.7 226.0h0M274.1 237.4h0M272.2 244.9h0M277.7 232.4h0M280.2 232.8h0M293.6 224.1h0M290.9 248.0h0M276.1 224.7h0M277.8 221.3h0M271.0 247.5h0M301.7 235.8h0M278.3 245.2h0M274.9 237.7h0M295.7 239.5h0M279.4 222.6h0M294.2 227.0h0M293.2 240.8h0M271.7 240.3h0M292.1 228.2h0M274.2 233.5h0M287.2 235.6h0M278.1 246.6h0M290.5 230.0h0M305.0 243.7h0M280.1 232.0h0M272.0 242.4h0M303.1 244.0h0M289.6 219.1h0M292.3 236.6h0M277.0 228.8h0M281.7 218.3h0M285.5 229.8h0M297.4 239.5h0M306.0 244.8h0M280.1 236.8h0M296.5 242.3h0M275.8 228.2h0M293.5 227.7h0M297.0 220.1h0M304.2 248.0h0M301.8 248.3h0M274.5 220.3h0M295.4 248.4h0M271.6 243.8h0M295.3 232.6h0M275.9 233.6h0M289.2 224.2h0M304.3 240.8h0M276.7 237.1h0M292.9 246.9h0M272.5 231.0h0M276.3 241.1h0M273.6 243.5h0M293.6 237.8h0M305.9 244.8h0M298.0 237.3h0M291.0 234.0h0M271.6 224.0h0M296.3 230.8h0M287.4 244.1h0M285.0 240.4h0M300.7 243.6h0M279.3 236.7h0M288.0 236.1h0M273.7 223.8h0M279.7 242.2h0M299.9 229.8h0M293.2 231.6h0M290.6 226.2h0M283.4 247.5h0M275.0 244.6h0M287.1 237.7h0M293.1 236.6h0M273.3 227.1h0M289.8 242.7h0M292.3 247.9h0M277.6 229.7h0M292.0 236.2h0M296.6 233.6h0M274.3 242.1h0M296.2 237.2h0M281.6 220.8h0M280.2 237.3h0M290.5 243.1h0M276.9 237.1h0M281.9 219.3h0M277.5 221.4h0M276.5 219.2h0M298.9 231.0h0M289.7 225.8h0M292.2 235.5h0M287.2 247.4h0M307.3 247.3h0M275.8 234.3h0M296.8 223.7h0M303.9 241.2h0M275.0 227.1h0M296.0 245.2h0M301.9 236.1h0M284.1 225.4h0M274.5 219.1h0M286.6 221.7h0M278.1 227.9h0M275.6 224.2h0M280.1 248.0h0M286.4 237.0h0M290.8 247.6h0M301.5 246.5h0M303.2 240.7h0M293.3 228.2h0M283.2 240.9h0M291.9 224.6h0M275.3 245.0h0M278.3 233.7h0M301.9 233.0h0M288.4 223.0h0M295.5 230.1h0M297.2 229.7h0M277.2 229.0h0M299.1 244.6h0M289.8 238.3h0M303.2 241.1h0M291.9 236.3h0M276.8 218.5h0M271.7 245.4h0M285.4 236.5h0M287.1 245.1h0M298.1 229.5h0M294.4 224.6h0M276.0 248.3h0M278.0 238.9h0M280.2 222.1h0M300.2 245.4h0M303.9 238.7h0M294.6 222.8h0M294.4 218.8h0M282.4 234.1h0M288.3 230.7h0M284.9 218.6h0M294.7 228.9h0M274.7 229.3h0M295.6 240.9h0M286.1 221.6h0M294.0 236.5h0M288.6 247.9h0M284.2 234.1h0M271.6 222.1h0M277.8 223.8h0M277.0 221.3h0M288.9 235.3h0M281.1 244.7h0M298.1 231.1h0M271.3 218.0h0M271.8 240.4h0M271.7 231.8h0M289.9 229.4h0M281.7 246.9h0M290.6 247.3h0M296.8 225.1h0M275.8 222.5h0M274.4 230.0h0M293.3 224.4h0M273.6 228.4h0M287.7 245.1h0M303.9 243.3h0M280.3 243.4h0M281.0 236.0h0M290.5 225.2h0M290.8 226.1h0M299.8 223.8h0M270.8 231.5h0M303.6 237.6h0M280.0 233.6h0M282.9 238.4h0M281.3 223.2h0M275.6 227.8h0M283.0 235.1h0M289.1 222.8h0M301.6 239.8h0M277.3 223.2h0M274.7 233.8h0M294.4 240.2h0M279.4 244.7h0M275.0 223.4h0M297.5 220.0h0M293.9 240.1h0M271.3 222.5h0M279.5 231.5h0M302.4 242.6h0M285.1 218.4h0M290.8 224.0h0M281.3 246.7h0M281.3 230.2h0M295.7 246.7h0M272.8 236.2h0M295.3 221.9h0M274.3 228.3h0M283.2 239.5h0M286.6 248.7h0M288.1 233.9h0M274.4 237.8h0M297.2 232.6h0M292.4 246.0h0M293.8 239.2h0M303.6 240.6h0M287.7 247.5h0M303.5 237.8h0M299.8 228.7h0M281.2 223.4h0M275.1 221.5h0M276.9 243.3h0M290.7 244.4h0M277.1 245.6h0M274.7 233.8h0M280.6 238.1h0M274.2 244.7h0M298.5 235.1h0M302.3 234.6h0M284.9 243.1h0M287.6 219.3h0M296.7 219.1h0M291.6 224.7h0M285.9 230.9h0M296.7 237.6h0M283.7 225.1h0M292.4 240.4h0M294.1 218.8h0M273.6 237.8h0M300.0 237.5h0M286.5 247.5h0M279.4 221.4h0M285.1 218.9h0M291.8 234.4h0M277.6 236.8h0M288.1 239.5h0M300.1 242.6h0M296.1 221.1h0M292.0 238.5h0M277.8 229.4h0M290.0 226.4h0M273.6 226.8h0M286.0 241.8h0M304.0 248.3h0M289.7 237.1h0M271.6 240.2h0M293.4 221.0h0M287.7 224.8h0M303.1 247.4h0M286.0 234.1h0M281.3 239.6h0M293.7 244.1h0M271.2 233.5h0M293.9 229.6h0M274.8 227.2h0M288.3 244.7h0M274.6 218.7h0M293.1 237.2h0M271.9 243.8h0M299.3 236.3h0M279.6 246.4h0M278.8 248.8h0M291.2 246.0h0M290.9 236.7h0M282.2 247.8h0M302.7 241.4h0M278.4 225.2h0M272.7 243.8h0M273.5 243.8h0M300.3 248.4h0M274.7 243.0h0M273.6 221.4h0M298.1 248.4h0M288.6 231.0h0M304.1 237.6h0M287.2 219.4h0M304.0 241.2h0M275.7 239.3h0M280.6 231.5h0M276.4 220.5h0M288.0 240.0h0M297.2 244.2h0M304.7 241.0h0M279.9 241.9h0M298.0 221.6h0M271.1 246.1h0M277.0 244.8h0M290.3 220.2h0M273.4 244.2h0M293.9 226.0h0M277.7 220.4h0M299.2 226.4h0M272.5 243.4h0M282.3 223.2h0M291.7 229.3h0M290.2 232.1h0M290.8 226.2h0M289.3 247.4h0M278.4 230.9h0M287.8 231.9h0M283.3 237.3h0M287.3 248.2h0M270.5 239.3h0M284.3 233.6h0M297.8 225.9h0M273.0 237.7h0M296.0 238.4h0M299.3 238.0h0M296.2 239.9h0M280.0 245.2h0M293.4 233.4h0M294.2 228.6h0M279.5 246.2h0M278.4 229.0h0M292.7 233.3h0M274.0 226.4h0M299.2 222.2h0M288.6 221.4h0M273.4 248.1h0M287.0 232.4h0M273.2 222.9h0M289.8 246.7h0M289.7 224.8h0M282.0 223.9h0M298.2 244.7h0M287.0 228.2h0M299.2 227.8h0M303.2 244.2h0M282.2 224.3h0M294.2 220.3h0M292.1 227.5h0M295.5 221.2h0M296.3 226.2h0M292.1 240.2h0M276.8 228.0h0M297.3 239.2h0M285.1 228.8h0M282.8 222.9h0M287.2 228.4h0M271.3 237.4h0M287.4 245.1h0M306.3 247.6h0M298.5 223.6h0M284.1 228.5h0M300.6 242.2h0M279.0 248.6h0M283.3 236.3h0M286.5 240.1h0M270.7 242.9h0M304.6 239.4h0M283.7 239.3h0M278.4 241.7h0M300.5 236.3h0M298.7 239.3h0M299.3 245.8h0M299.0 246.1h0M297.2 220.6h0M278.0 246.0h0M273.8 244.7h0M297.4 222.3h0M303.7 240.1h0M278.6 228.6h0M296.0 237.2h0M292.4 244.3h0M282.4 244.4h0M286.9 225.5h0M289.3 230.2h0M295.5 220.7h0M281.5 220.8h0M275.1 227.6h0M290.8 242.4h0M284.5 245.3h0M289.1 247.5h0M280.0 203.8h0M275.1 213.6h0M287.4 216.9h0M284.6 213.1h0M275.2 216.6h0M297.8 217.9h0M272.3 205.8h0M293.1 217.4h0M285.9 216.1h0M282.6 212.7h0M272.5 210.8h0M276.5 212.2h0M283.3 201.8h0M284.9 197.1h0M282.8 201.6h0M280.8 209.8h0M291.6 207.1h0M282.7 203.0h0M287.8 212.6h0M277.3 199.6h0M290.5 202.6h0M292.1 208.7h0M273.1 204.2h0M297.1 214.5h0M289.1 217.9h0M295.4 207.5h0M296.0 203.0h0M297.4 217.6h0M293.9 217.2h0M289.9 211.3h0M273.7 212.2h0M273.0 215.9h0M293.5 215.4h0M291.6 202.8h0M287.7 207.3h0M295.5 209.5h0M282.2 212.1h0M292.7 210.3h0M281.1 211.0h0M286.8 199.2h0M278.2 200.1h0M285.1 199.4h0M292.3 209.4h0M274.4 211.8h0M291.4 207.0h0M296.1 216.3h0M288.1 213.7h0M275.8 212.5h0M290.4 212.7h0M283.4 201.9h0M281.3 200.5h0M289.3 211.2h0M288.2 213.5h0M278.7 209.7h0M293.2 210.2h0M275.5 203.0h0M279.4 203.6h0M290.0 204.9h0M276.4 216.9h0M287.0 216.1h0M282.8 199.5h0M272.5 216.2h0M287.5 205.6h0M271.6 204.2h0M287.2 200.5h0M281.2 202.1h0M284.9 215.6h0M287.3 212.9h0M273.3 214.2h0M284.5 205.7h0M295.1 202.3h0M284.2 213.8h0M290.7 198.4h0M277.9 215.1h0M288.0 205.3h0M296.1 208.1h0M295.6 202.7h0M288.0 204.9h0M285.2 203.8h0M279.5 205.7h0M288.5 217.3h0M291.2 216.8h0M274.9 214.6h0M273.4 212.9h0M284.5 201.3h0M294.4 201.0h0M296.8 217.9h0M285.1 197.9h0M283.8 206.2h0M289.1 204.9h0M282.1 215.0h0M293.2 202.3h0M286.0 197.9h0M284.8 197.3h0M288.5 205.1h0M297.1 207.6h0M275.2 212.9h0M281.6 208.7h0M291.2 205.4h0M285.6 198.0h0M279.3 198.5h0M284.7 207.1h0M276.5 204.6h0M270.8 216.9h0M295.2 203.5h0M285.0 203.4h0M290.5 214.4h0M293.0 206.4h0M295.4 201.6h0M293.1 217.6h0M306.4 231.5h0M328.7 242.2h0M337.5 248.8h0M317.9 234.3h0M306.7 236.9h0M330.4 240.1h0M338.8 246.6h0M323.0 242.6h0M324.2 237.6h0M322.3 238.3h0M322.8 240.7h0M315.9 231.2h0M314.8 245.4h0M314.9 232.1h0M305.6 233.2h0M336.9 248.4h0M327.1 248.5h0M306.8 239.5h0M326.3 247.6h0M307.9 245.5h0M325.5 246.2h0M310.5 231.3h0M308.2 240.8h0M311.7 245.3h0M313.6 240.4h0M311.6 245.2h0M291.0 190.0h0M297.0 191.0h0M300.0 193.0h0M303.0 190.0h0M281.0 192.0h0M284.0 196.0h0M288.0 197.0h0M295.0 196.0h0M299.0 197.0h0M307.0 195.0h0M312.0 198.0h0M314.0 206.0h0M318.0 213.0h0M312.0 218.0h0M316.0 222.0h0M318.0 226.0h0M322.0 228.0h0M325.0 233.0h0M330.0 236.0h0M335.0 240.0h0M332.0 244.0h0M326.0 247.0h0M320.0 243.0h0M310.0 236.0h0M309.0 231.0h0M302.0 205.0h0M305.0 210.0h0M303.0 215.0h0M300.0 212.0h0" stroke="#fc1a1a" stroke-width="2.6" stroke-linecap="round" fill="none"/>
<g fill="#e8102a" stroke="#b0101e" stroke-width="0.35">
<circle cx="294.5" cy="148.8" r="1.0"/><circle cx="293.0" cy="152.0" r="1.0"/><circle cx="291.0" cy="160.0" r="1.0"/><circle cx="287.0" cy="168.0" r="1.0"/><circle cx="289.0" cy="171.0" r="1.0"/><circle cx="292.0" cy="175.0" r="1.0"/><circle cx="285.0" cy="179.0" r="1.0"/><circle cx="289.0" cy="181.0" r="1.0"/><circle cx="294.0" cy="184.0" r="1.0"/><circle cx="296.0" cy="186.0" r="1.0"/><circle cx="283.0" cy="186.0" r="1.0"/><circle cx="286.0" cy="189.0" r="1.0"/>
</g>
<path d="M211.8 144.8V256.0H339.0" stroke="#9a9a9a" stroke-width="0.7" fill="none"/>
<path d="M210.6 252.0H211.8" stroke="#9a9a9a" stroke-width="0.56"/>
<text x="210.20" y="253.80" font-size="5.0" text-anchor="end" fill="#4d4d4d" stroke="#4d4d4d" stroke-width="0.20">0</text>
<path d="M210.6 215.6H211.8" stroke="#9a9a9a" stroke-width="0.56"/>
<text x="210.20" y="217.40" font-size="5.0" text-anchor="end" fill="#4d4d4d" stroke="#4d4d4d" stroke-width="0.20">20</text>
<path d="M210.6 179.2H211.8" stroke="#9a9a9a" stroke-width="0.56"/>
<text x="210.20" y="181.00" font-size="5.0" text-anchor="end" fill="#4d4d4d" stroke="#4d4d4d" stroke-width="0.20">40</text>
<path d="M219.2 256.0V257.2" stroke="#9a9a9a" stroke-width="0.56"/>
<text x="219.20" y="261.60" font-size="5.0" text-anchor="middle" fill="#4d4d4d" stroke="#4d4d4d" stroke-width="0.20">−5</text>
<path d="M262.5 256.0V257.2" stroke="#9a9a9a" stroke-width="0.56"/>
<text x="262.50" y="261.60" font-size="5.0" text-anchor="middle" fill="#4d4d4d" stroke="#4d4d4d" stroke-width="0.20">0</text>
<path d="M305.8 256.0V257.2" stroke="#9a9a9a" stroke-width="0.56"/>
<text x="305.80" y="261.60" font-size="5.0" text-anchor="middle" fill="#4d4d4d" stroke="#4d4d4d" stroke-width="0.20">5</text>
<text x="275.80" y="267.60" font-size="4.5" text-anchor="middle" fill="#222" stroke="#222" stroke-width="0.18">log2(Severe/Healthy)</text>
<text x="202.80" y="199.60" font-size="4.5" text-anchor="middle" fill="#222" transform="rotate(-90 202.80 199.60)" stroke="#222" stroke-width="0.18">−log10(Padj)</text>
<circle cx="221.2" cy="148.6" r="1.1" fill="#d04a5a"/>
<text x="223.80" y="149.95" font-size="3.75" text-anchor="start" fill="#333" stroke="#333" stroke-width="0.10">log2[FC] &gt; 1</text>
<circle cx="221.2" cy="151.8" r="1.1" fill="#3a3a9a"/>
<text x="223.80" y="153.15" font-size="3.75" text-anchor="start" fill="#333" stroke="#333" stroke-width="0.10">log2[FC] &lt; −1</text>
<circle cx="221.2" cy="155.0" r="1.1" fill="#d4d4dc"/>
<text x="223.80" y="156.35" font-size="3.75" text-anchor="start" fill="#333" stroke="#333" stroke-width="0.10">Not significant</text>
<text x="292.00" y="148.30" font-size="3.0" text-anchor="start" fill="#111" stroke="#111" stroke-width="0.18">UBDC</text>
<text x="283.00" y="170.40" font-size="3.0" text-anchor="start" fill="#111" stroke="#111" stroke-width="0.18">TK1</text>
<text x="291.50" y="175.40" font-size="3.0" text-anchor="start" fill="#111" stroke="#111" stroke-width="0.18">DLGAP5</text>
<text x="278.00" y="179.00" font-size="3.0" text-anchor="start" fill="#111" stroke="#111" stroke-width="0.18">CCNA2</text>
<text x="290.00" y="181.00" font-size="3.0" text-anchor="start" fill="#111" stroke="#111" stroke-width="0.18">KIF20A</text>
<text x="303.00" y="181.00" font-size="3.0" text-anchor="start" fill="#111" stroke="#111" stroke-width="0.18">MPO</text>
<text x="278.00" y="184.00" font-size="3.0" text-anchor="start" fill="#111" stroke="#111" stroke-width="0.18">UHRF1</text>
<text x="293.00" y="184.00" font-size="3.0" text-anchor="start" fill="#111" stroke="#111" stroke-width="0.18">SPC25</text>
<text x="269.40" y="188.00" font-size="3.0" text-anchor="start" fill="#111" stroke="#111" stroke-width="0.18">FOXM1</text>
<text x="282.70" y="189.50" font-size="3.0" text-anchor="start" fill="#111" stroke="#111" stroke-width="0.18">NUSAP1</text>
<text x="297.40" y="189.50" font-size="3.0" text-anchor="start" fill="#111" stroke="#111" stroke-width="0.18">PLK1</text>
<text x="269.40" y="192.50" font-size="3.0" text-anchor="start" fill="#111" stroke="#111" stroke-width="0.18">AURKB</text>
<text x="282.70" y="196.00" font-size="3.0" text-anchor="start" fill="#111" stroke="#111" stroke-width="0.18">BUB1</text>
<text x="306.00" y="195.00" font-size="3.0" text-anchor="start" fill="#111" stroke="#111" stroke-width="0.18">RRM2</text>
<text x="275.00" y="200.80" font-size="3.0" text-anchor="start" fill="#111" stroke="#111" stroke-width="0.18">CDC20</text>
<text x="287.00" y="200.80" font-size="3.0" text-anchor="start" fill="#111" stroke="#111" stroke-width="0.18">CDCA8</text>
<text x="315.00" y="204.30" font-size="3.0" text-anchor="start" fill="#111" stroke="#111" stroke-width="0.18">EGF</text>
<text x="316.60" y="217.30" font-size="3.0" text-anchor="start" fill="#111" stroke="#111" stroke-width="0.18">IFI27</text>
<text x="316.60" y="222.00" font-size="3.0" text-anchor="start" fill="#111" stroke="#111" stroke-width="0.18">IGLL1</text>
<text x="299.80" y="227.00" font-size="3.0" text-anchor="start" fill="#111" stroke="#111" stroke-width="0.18">CD38</text>
<text x="313.70" y="227.00" font-size="3.0" text-anchor="start" fill="#111" stroke="#111" stroke-width="0.18">LCN2</text>
<text x="302.00" y="231.40" font-size="3.0" text-anchor="start" fill="#111" stroke="#111" stroke-width="0.18">AZU1</text>
<text x="315.00" y="231.40" font-size="3.0" text-anchor="start" fill="#111" stroke="#111" stroke-width="0.18">ADAMTS2</text>
<text x="306.00" y="236.00" font-size="3.0" text-anchor="start" fill="#111" stroke="#111" stroke-width="0.18">CTSG</text>
<text x="331.00" y="236.00" font-size="3.0" text-anchor="start" fill="#111" stroke="#111" stroke-width="0.18">HBA2</text>
<text x="313.70" y="239.70" font-size="3.0" text-anchor="start" fill="#111" stroke="#111" stroke-width="0.18">MPO</text>
<text x="325.50" y="241.00" font-size="3.0" text-anchor="start" fill="#111" stroke="#111" stroke-width="0.18">DEFA4</text>
<text x="328.40" y="245.00" font-size="3.0" text-anchor="start" fill="#111" stroke="#111" stroke-width="0.18">CAMP</text>
<text x="324.00" y="249.70" font-size="3.0" text-anchor="start" fill="#111" stroke="#111" stroke-width="0.18">PRB3</text>
<text x="229.50" y="226.90" font-size="3.0" text-anchor="start" fill="#111" stroke="#111" stroke-width="0.18">CACNA2D3</text>
<text x="226.80" y="233.10" font-size="3.0" text-anchor="start" fill="#111" stroke="#111" stroke-width="0.18">LOC100</text>
<text x="223.20" y="236.70" font-size="3.0" text-anchor="start" fill="#111" stroke="#111" stroke-width="0.18">DSC3</text>
<text x="222.30" y="240.30" font-size="3.0" text-anchor="start" fill="#111" stroke="#111" stroke-width="0.18">NOG</text>
<text x="215.20" y="244.20" font-size="3.0" text-anchor="start" fill="#111" stroke="#111" stroke-width="0.18">PRAC FRAS</text>
<text x="212.50" y="248.70" font-size="3.0" text-anchor="start" fill="#111" stroke="#111" stroke-width="0.18">CLEC</text>
<text x="0.30" y="292.00" font-size="6.5" text-anchor="start" font-weight="bold" fill="#000">E</text>
<text x="14.90" y="299.10" font-size="4.0" text-anchor="start" fill="#111" stroke="#111" stroke-width="0.16">Transposons in the mild patients</text>
<path d="M57.7 301V375M65.1 301V375M15 369.6H99" stroke="#dadada" stroke-width="0.3" stroke-dasharray="1 0.7" fill="none"/>
<g fill="#cdcdcd" stroke="#a9a9a9" stroke-width="0.25">
<circle cx="52.3" cy="353.9" r="0.9"/><circle cx="47.9" cy="368.9" r="0.9"/><circle cx="58.1" cy="345.0" r="0.9"/><circle cx="53.5" cy="361.3" r="0.9"/><circle cx="55.5" cy="356.3" r="0.9"/><circle cx="55.8" cy="347.3" r="0.9"/><circle cx="52.8" cy="370.7" r="0.9"/><circle cx="54.0" cy="366.1" r="0.9"/><circle cx="51.2" cy="365.3" r="0.9"/><circle cx="55.1" cy="364.6" r="0.9"/><circle cx="49.8" cy="367.2" r="0.9"/><circle cx="48.7" cy="369.5" r="0.9"/><circle cx="51.1" cy="357.5" r="0.9"/><circle cx="58.2" cy="345.9" r="0.9"/><circle cx="54.1" cy="346.2" r="0.9"/><circle cx="53.8" cy="369.8" r="0.9"/><circle cx="52.7" cy="370.6" r="0.9"/><circle cx="51.7" cy="354.6" r="0.9"/><circle cx="54.6" cy="345.3" r="0.9"/><circle cx="53.8" cy="347.8" r="0.9"/><circle cx="54.2" cy="371.7" r="0.9"/><circle cx="54.2" cy="347.1" r="0.9"/><circle cx="49.6" cy="372.8" r="0.9"/><circle cx="55.5" cy="371.5" r="0.9"/><circle cx="49.2" cy="361.1" r="0.9"/><circle cx="55.1" cy="360.5" r="0.9"/><circle cx="56.5" cy="345.1" r="0.9"/><circle cx="50.7" cy="368.9" r="0.9"/><circle cx="53.9" cy="356.3" r="0.9"/><circle cx="51.4" cy="372.6" r="0.9"/><circle cx="56.8" cy="352.5" r="0.9"/><circle cx="52.0" cy="352.4" r="0.9"/><circle cx="47.4" cy="366.4" r="0.9"/><circle cx="56.9" cy="357.7" r="0.9"/><circle cx="55.6" cy="350.1" r="0.9"/><circle cx="56.0" cy="355.5" r="0.9"/><circle cx="49.1" cy="371.9" r="0.9"/><circle cx="51.4" cy="353.9" r="0.9"/><circle cx="57.6" cy="353.8" r="0.9"/><circle cx="55.0" cy="347.7" r="0.9"/><circle cx="57.4" cy="350.4" r="0.9"/><circle cx="46.7" cy="372.2" r="0.9"/><circle cx="48.3" cy="371.4" r="0.9"/><circle cx="59.3" cy="361.0" r="0.9"/><circle cx="54.3" cy="372.0" r="0.9"/><circle cx="53.6" cy="346.7" r="0.9"/><circle cx="55.4" cy="344.5" r="0.9"/><circle cx="52.1" cy="364.0" r="0.9"/><circle cx="56.3" cy="354.2" r="0.9"/><circle cx="58.0" cy="347.7" r="0.9"/><circle cx="55.7" cy="366.0" r="0.9"/><circle cx="57.9" cy="357.6" r="0.9"/><circle cx="53.1" cy="347.8" r="0.9"/><circle cx="54.5" cy="345.1" r="0.9"/><circle cx="56.5" cy="349.3" r="0.9"/><circle cx="52.2" cy="359.6" r="0.9"/><circle cx="52.5" cy="371.4" r="0.9"/><circle cx="53.2" cy="371.2" r="0.9"/><circle cx="46.4" cy="372.8" r="0.9"/><circle cx="58.0" cy="359.1" r="0.9"/><circle cx="53.1" cy="358.9" r="0.9"/><circle cx="54.7" cy="359.0" r="0.9"/><circle cx="50.1" cy="364.6" r="0.9"/><circle cx="55.7" cy="345.6" r="0.9"/><circle cx="55.4" cy="356.3" r="0.9"/><circle cx="52.6" cy="361.9" r="0.9"/><circle cx="51.0" cy="369.3" r="0.9"/><circle cx="49.1" cy="367.6" r="0.9"/><circle cx="55.8" cy="361.6" r="0.9"/><circle cx="54.1" cy="361.2" r="0.9"/><circle cx="55.2" cy="354.9" r="0.9"/><circle cx="54.2" cy="348.0" r="0.9"/><circle cx="52.3" cy="358.8" r="0.9"/><circle cx="50.5" cy="366.4" r="0.9"/><circle cx="54.0" cy="372.3" r="0.9"/><circle cx="59.3" cy="367.9" r="0.9"/><circle cx="49.1" cy="366.3" r="0.9"/><circle cx="58.7" cy="372.3" r="0.9"/><circle cx="51.0" cy="365.1" r="0.9"/><circle cx="52.3" cy="358.4" r="0.9"/><circle cx="51.0" cy="361.9" r="0.9"/><circle cx="53.0" cy="348.5" r="0.9"/><circle cx="51.9" cy="371.3" r="0.9"/><circle cx="56.8" cy="344.3" r="0.9"/><circle cx="49.4" cy="368.5" r="0.9"/><circle cx="54.2" cy="349.2" r="0.9"/><circle cx="50.1" cy="366.9" r="0.9"/><circle cx="59.2" cy="366.5" r="0.9"/><circle cx="58.2" cy="370.9" r="0.9"/><circle cx="57.8" cy="370.6" r="0.9"/><circle cx="54.2" cy="357.5" r="0.9"/><circle cx="50.7" cy="368.0" r="0.9"/><circle cx="49.7" cy="356.6" r="0.9"/><circle cx="54.2" cy="359.8" r="0.9"/><circle cx="51.4" cy="352.4" r="0.9"/><circle cx="48.5" cy="364.2" r="0.9"/><circle cx="54.9" cy="346.7" r="0.9"/><circle cx="54.4" cy="352.8" r="0.9"/><circle cx="52.0" cy="361.0" r="0.9"/><circle cx="56.3" cy="369.4" r="0.9"/><circle cx="55.9" cy="348.9" r="0.9"/><circle cx="53.3" cy="352.7" r="0.9"/><circle cx="52.4" cy="368.9" r="0.9"/><circle cx="50.4" cy="367.9" r="0.9"/><circle cx="55.7" cy="351.2" r="0.9"/><circle cx="57.1" cy="372.9" r="0.9"/><circle cx="54.8" cy="354.6" r="0.9"/><circle cx="58.0" cy="357.9" r="0.9"/><circle cx="47.8" cy="363.6" r="0.9"/><circle cx="48.5" cy="361.2" r="0.9"/><circle cx="62.5" cy="361.9" r="0.9"/><circle cx="62.8" cy="354.8" r="0.9"/><circle cx="68.5" cy="343.0" r="0.9"/><circle cx="72.5" cy="361.8" r="0.9"/><circle cx="67.6" cy="349.6" r="0.9"/><circle cx="75.9" cy="357.1" r="0.9"/><circle cx="66.5" cy="365.2" r="0.9"/><circle cx="65.4" cy="345.4" r="0.9"/><circle cx="74.6" cy="369.6" r="0.9"/><circle cx="67.2" cy="345.1" r="0.9"/><circle cx="81.5" cy="373.0" r="0.9"/><circle cx="72.8" cy="360.1" r="0.9"/><circle cx="83.1" cy="371.7" r="0.9"/><circle cx="64.2" cy="350.4" r="0.9"/><circle cx="74.4" cy="370.7" r="0.9"/><circle cx="74.6" cy="361.5" r="0.9"/><circle cx="63.6" cy="367.9" r="0.9"/><circle cx="65.2" cy="348.4" r="0.9"/><circle cx="63.1" cy="352.2" r="0.9"/><circle cx="66.2" cy="343.0" r="0.9"/><circle cx="77.4" cy="356.3" r="0.9"/><circle cx="75.5" cy="367.6" r="0.9"/><circle cx="80.2" cy="370.3" r="0.9"/><circle cx="65.8" cy="351.3" r="0.9"/><circle cx="68.8" cy="354.9" r="0.9"/><circle cx="66.4" cy="367.7" r="0.9"/><circle cx="68.1" cy="359.4" r="0.9"/><circle cx="63.6" cy="356.5" r="0.9"/><circle cx="69.4" cy="367.8" r="0.9"/><circle cx="72.8" cy="342.3" r="0.9"/><circle cx="69.3" cy="345.9" r="0.9"/><circle cx="66.3" cy="360.3" r="0.9"/><circle cx="63.0" cy="364.0" r="0.9"/><circle cx="67.1" cy="339.6" r="0.9"/><circle cx="62.7" cy="367.4" r="0.9"/><circle cx="75.0" cy="362.7" r="0.9"/><circle cx="64.0" cy="362.7" r="0.9"/><circle cx="78.4" cy="371.0" r="0.9"/><circle cx="63.6" cy="358.0" r="0.9"/><circle cx="73.8" cy="367.6" r="0.9"/><circle cx="70.6" cy="361.2" r="0.9"/><circle cx="74.0" cy="369.3" r="0.9"/><circle cx="63.1" cy="372.1" r="0.9"/><circle cx="69.4" cy="354.0" r="0.9"/><circle cx="68.8" cy="365.9" r="0.9"/><circle cx="74.4" cy="364.2" r="0.9"/><circle cx="64.7" cy="368.8" r="0.9"/><circle cx="67.4" cy="347.1" r="0.9"/><circle cx="77.0" cy="366.0" r="0.9"/><circle cx="76.9" cy="352.8" r="0.9"/><circle cx="62.7" cy="353.2" r="0.9"/><circle cx="71.2" cy="371.1" r="0.9"/><circle cx="76.2" cy="351.3" r="0.9"/><circle cx="68.5" cy="371.9" r="0.9"/><circle cx="66.5" cy="368.9" r="0.9"/><circle cx="74.3" cy="361.2" r="0.9"/><circle cx="65.6" cy="364.1" r="0.9"/><circle cx="73.0" cy="360.9" r="0.9"/><circle cx="73.1" cy="364.3" r="0.9"/><circle cx="77.8" cy="365.1" r="0.9"/><circle cx="72.8" cy="358.7" r="0.9"/><circle cx="76.7" cy="354.7" r="0.9"/><circle cx="64.3" cy="352.3" r="0.9"/><circle cx="80.0" cy="363.3" r="0.9"/><circle cx="64.0" cy="354.7" r="0.9"/><circle cx="75.6" cy="356.7" r="0.9"/><circle cx="65.7" cy="360.6" r="0.9"/><circle cx="78.1" cy="356.7" r="0.9"/><circle cx="62.5" cy="368.6" r="0.9"/><circle cx="73.9" cy="353.5" r="0.9"/><circle cx="74.1" cy="364.9" r="0.9"/><circle cx="70.8" cy="365.0" r="0.9"/><circle cx="66.0" cy="372.3" r="0.9"/><circle cx="73.1" cy="368.8" r="0.9"/><circle cx="69.7" cy="362.5" r="0.9"/><circle cx="82.9" cy="371.6" r="0.9"/><circle cx="68.1" cy="365.8" r="0.9"/><circle cx="76.1" cy="366.3" r="0.9"/><circle cx="63.9" cy="352.5" r="0.9"/><circle cx="72.6" cy="366.5" r="0.9"/><circle cx="67.0" cy="367.1" r="0.9"/><circle cx="64.1" cy="365.1" r="0.9"/><circle cx="73.2" cy="348.2" r="0.9"/><circle cx="63.5" cy="363.7" r="0.9"/><circle cx="65.9" cy="341.0" r="0.9"/><circle cx="79.5" cy="366.5" r="0.9"/><circle cx="68.0" cy="351.0" r="0.9"/><circle cx="67.4" cy="362.8" r="0.9"/><circle cx="73.5" cy="356.8" r="0.9"/><circle cx="71.6" cy="363.0" r="0.9"/><circle cx="68.4" cy="346.6" r="0.9"/><circle cx="73.6" cy="359.0" r="0.9"/><circle cx="74.7" cy="366.5" r="0.9"/><circle cx="65.4" cy="349.8" r="0.9"/><circle cx="64.2" cy="350.7" r="0.9"/><circle cx="72.8" cy="350.9" r="0.9"/><circle cx="67.3" cy="353.7" r="0.9"/><circle cx="82.6" cy="370.8" r="0.9"/><circle cx="63.7" cy="365.8" r="0.9"/><circle cx="68.4" cy="343.6" r="0.9"/><circle cx="67.7" cy="343.3" r="0.9"/><circle cx="66.4" cy="340.5" r="0.9"/><circle cx="78.5" cy="362.2" r="0.9"/><circle cx="75.7" cy="354.8" r="0.9"/><circle cx="71.7" cy="347.8" r="0.9"/><circle cx="73.1" cy="347.1" r="0.9"/><circle cx="70.6" cy="369.2" r="0.9"/><circle cx="75.2" cy="360.6" r="0.9"/><circle cx="80.1" cy="368.6" r="0.9"/><circle cx="81.5" cy="371.0" r="0.9"/><circle cx="68.6" cy="343.7" r="0.9"/><circle cx="67.6" cy="340.9" r="0.9"/><circle cx="62.5" cy="352.0" r="0.9"/><circle cx="62.4" cy="354.8" r="0.9"/><circle cx="63.5" cy="363.5" r="0.9"/><circle cx="66.6" cy="366.2" r="0.9"/><circle cx="76.9" cy="357.0" r="0.9"/><circle cx="72.2" cy="372.3" r="0.9"/><circle cx="67.1" cy="369.4" r="0.9"/><circle cx="66.9" cy="341.3" r="0.9"/><circle cx="67.2" cy="339.3" r="0.9"/><circle cx="75.3" cy="347.6" r="0.9"/><circle cx="70.4" cy="365.5" r="0.9"/><circle cx="74.8" cy="347.4" r="0.9"/><circle cx="63.2" cy="362.3" r="0.9"/><circle cx="78.1" cy="370.6" r="0.9"/><circle cx="66.3" cy="358.3" r="0.9"/><circle cx="72.0" cy="362.8" r="0.9"/><circle cx="70.2" cy="340.5" r="0.9"/><circle cx="66.7" cy="343.0" r="0.9"/><circle cx="78.9" cy="362.1" r="0.9"/><circle cx="74.4" cy="349.1" r="0.9"/><circle cx="73.5" cy="344.9" r="0.9"/><circle cx="73.0" cy="345.3" r="0.9"/><circle cx="72.5" cy="354.5" r="0.9"/><circle cx="71.9" cy="364.0" r="0.9"/><circle cx="69.9" cy="359.8" r="0.9"/><circle cx="68.1" cy="367.1" r="0.9"/><circle cx="65.0" cy="347.7" r="0.9"/><circle cx="71.7" cy="371.1" r="0.9"/><circle cx="76.8" cy="367.0" r="0.9"/><circle cx="74.0" cy="349.0" r="0.9"/><circle cx="78.7" cy="358.7" r="0.9"/><circle cx="63.8" cy="370.8" r="0.9"/><circle cx="70.5" cy="368.6" r="0.9"/><circle cx="77.4" cy="364.1" r="0.9"/><circle cx="66.4" cy="363.5" r="0.9"/><circle cx="63.4" cy="347.3" r="0.9"/><circle cx="67.6" cy="347.4" r="0.9"/><circle cx="67.0" cy="341.7" r="0.9"/><circle cx="63.6" cy="352.2" r="0.9"/><circle cx="71.8" cy="340.8" r="0.9"/><circle cx="74.0" cy="350.1" r="0.9"/><circle cx="62.7" cy="354.6" r="0.9"/><circle cx="65.9" cy="344.3" r="0.9"/><circle cx="70.4" cy="357.4" r="0.9"/><circle cx="79.0" cy="360.0" r="0.9"/><circle cx="70.0" cy="371.4" r="0.9"/><circle cx="65.1" cy="351.4" r="0.9"/><circle cx="70.3" cy="351.6" r="0.9"/><circle cx="76.7" cy="350.2" r="0.9"/><circle cx="73.3" cy="361.7" r="0.9"/><circle cx="83.3" cy="371.5" r="0.9"/><circle cx="70.7" cy="351.5" r="0.9"/><circle cx="68.9" cy="352.9" r="0.9"/><circle cx="69.3" cy="354.2" r="0.9"/><circle cx="73.8" cy="349.3" r="0.9"/><circle cx="75.7" cy="357.1" r="0.9"/><circle cx="66.4" cy="340.1" r="0.9"/><circle cx="79.4" cy="367.1" r="0.9"/><circle cx="70.0" cy="345.0" r="0.9"/><circle cx="64.6" cy="359.8" r="0.9"/><circle cx="75.4" cy="370.7" r="0.9"/><circle cx="77.7" cy="358.1" r="0.9"/><circle cx="75.8" cy="369.8" r="0.9"/><circle cx="65.1" cy="342.5" r="0.9"/><circle cx="62.6" cy="367.8" r="0.9"/><circle cx="79.6" cy="361.2" r="0.9"/><circle cx="77.2" cy="351.7" r="0.9"/><circle cx="80.2" cy="365.3" r="0.9"/><circle cx="81.7" cy="366.0" r="0.9"/><circle cx="67.4" cy="350.7" r="0.9"/><circle cx="68.7" cy="368.3" r="0.9"/><circle cx="77.1" cy="360.3" r="0.9"/><circle cx="66.1" cy="345.7" r="0.9"/><circle cx="74.0" cy="357.7" r="0.9"/><circle cx="77.6" cy="357.0" r="0.9"/><circle cx="74.4" cy="355.5" r="0.9"/><circle cx="75.9" cy="363.8" r="0.9"/><circle cx="77.7" cy="356.9" r="0.9"/><circle cx="63.5" cy="346.3" r="0.9"/><circle cx="72.6" cy="364.7" r="0.9"/><circle cx="74.2" cy="349.4" r="0.9"/><circle cx="64.2" cy="347.9" r="0.9"/><circle cx="79.1" cy="368.9" r="0.9"/><circle cx="62.7" cy="359.1" r="0.9"/><circle cx="65.1" cy="363.6" r="0.9"/><circle cx="77.2" cy="359.8" r="0.9"/><circle cx="66.8" cy="366.7" r="0.9"/><circle cx="73.0" cy="358.6" r="0.9"/><circle cx="62.5" cy="356.1" r="0.9"/><circle cx="73.5" cy="370.8" r="0.9"/><circle cx="82.1" cy="371.3" r="0.9"/><circle cx="64.4" cy="373.0" r="0.9"/><circle cx="69.8" cy="350.6" r="0.9"/><circle cx="66.5" cy="366.2" r="0.9"/><circle cx="75.7" cy="354.0" r="0.9"/><circle cx="73.5" cy="356.0" r="0.9"/><circle cx="62.8" cy="371.5" r="0.9"/><circle cx="64.5" cy="366.1" r="0.9"/><circle cx="74.7" cy="337.1" r="0.9"/><circle cx="72.5" cy="334.9" r="0.9"/><circle cx="67.0" cy="342.6" r="0.9"/><circle cx="74.5" cy="341.2" r="0.9"/><circle cx="74.8" cy="343.5" r="0.9"/><circle cx="68.4" cy="339.5" r="0.9"/><circle cx="66.1" cy="343.5" r="0.9"/><circle cx="73.8" cy="340.1" r="0.9"/><circle cx="70.1" cy="339.0" r="0.9"/><circle cx="77.0" cy="340.2" r="0.9"/><circle cx="71.0" cy="303.8" r="0.9"/><circle cx="70.0" cy="306.8" r="0.9"/><circle cx="72.0" cy="308.0" r="0.9"/><circle cx="73.0" cy="312.5" r="0.9"/><circle cx="70.0" cy="316.0" r="0.9"/><circle cx="71.0" cy="319.5" r="0.9"/><circle cx="72.0" cy="322.7" r="0.9"/><circle cx="74.0" cy="325.5" r="0.9"/><circle cx="70.0" cy="330.0" r="0.9"/><circle cx="66.0" cy="333.0" r="0.9"/><circle cx="62.5" cy="337.0" r="0.9"/><circle cx="76.0" cy="337.0" r="0.9"/><circle cx="68.0" cy="340.0" r="0.9"/><circle cx="94.0" cy="321.0" r="0.9"/><circle cx="48.0" cy="350.0" r="0.9"/><circle cx="45.0" cy="355.0" r="0.9"/><circle cx="44.0" cy="358.0" r="0.9"/><circle cx="46.0" cy="362.0" r="0.9"/><circle cx="33.0" cy="364.0" r="0.9"/><circle cx="20.0" cy="363.5" r="0.9"/><circle cx="25.0" cy="366.0" r="0.9"/><circle cx="30.0" cy="369.0" r="0.9"/><circle cx="83.0" cy="362.0" r="0.9"/><circle cx="88.0" cy="369.0" r="0.9"/><circle cx="92.0" cy="371.0" r="0.9"/><circle cx="40.0" cy="371.0" r="0.9"/><circle cx="36.0" cy="372.0" r="0.9"/><circle cx="88.0" cy="372.0" r="0.9"/>
</g>
<g fill="#fa0a20" stroke="#ffb0b8" stroke-width="0.18">
<circle cx="66.9" cy="372.0" r="1.0"/><circle cx="68.6" cy="368.7" r="1.0"/><circle cx="67.7" cy="368.4" r="1.0"/><circle cx="70.1" cy="364.0" r="1.0"/><circle cx="66.8" cy="358.9" r="1.0"/><circle cx="68.8" cy="367.9" r="1.0"/><circle cx="66.2" cy="356.6" r="1.0"/><circle cx="69.3" cy="366.5" r="1.0"/><circle cx="68.7" cy="358.1" r="1.0"/><circle cx="71.3" cy="367.9" r="1.0"/><circle cx="64.7" cy="364.6" r="1.0"/><circle cx="61.9" cy="372.0" r="1.0"/><circle cx="63.7" cy="358.1" r="1.0"/><circle cx="68.0" cy="366.6" r="1.0"/><circle cx="64.0" cy="356.3" r="1.0"/><circle cx="69.3" cy="370.4" r="1.0"/><circle cx="65.4" cy="363.2" r="1.0"/><circle cx="62.2" cy="370.5" r="1.0"/><circle cx="70.7" cy="372.0" r="1.0"/><circle cx="71.6" cy="369.7" r="1.0"/><circle cx="65.0" cy="366.6" r="1.0"/><circle cx="62.6" cy="372.3" r="1.0"/><circle cx="62.8" cy="370.9" r="1.0"/><circle cx="65.9" cy="359.7" r="1.0"/><circle cx="65.8" cy="370.5" r="1.0"/><circle cx="68.7" cy="357.6" r="1.0"/><circle cx="70.6" cy="361.4" r="1.0"/><circle cx="70.6" cy="364.0" r="1.0"/><circle cx="71.0" cy="364.8" r="1.0"/><circle cx="65.6" cy="372.3" r="1.0"/><circle cx="67.4" cy="365.8" r="1.0"/><circle cx="69.0" cy="360.1" r="1.0"/><circle cx="71.6" cy="371.2" r="1.0"/><circle cx="64.7" cy="356.1" r="1.0"/><circle cx="68.0" cy="365.3" r="1.0"/><circle cx="65.4" cy="361.5" r="1.0"/><circle cx="64.7" cy="357.1" r="1.0"/><circle cx="66.7" cy="364.4" r="1.0"/><circle cx="66.5" cy="369.9" r="1.0"/><circle cx="66.5" cy="368.3" r="1.0"/><circle cx="69.9" cy="364.1" r="1.0"/><circle cx="66.8" cy="359.5" r="1.0"/><circle cx="69.1" cy="370.2" r="1.0"/><circle cx="66.6" cy="372.2" r="1.0"/><circle cx="70.9" cy="365.6" r="1.0"/><circle cx="71.0" cy="362.4" r="1.0"/><circle cx="68.6" cy="365.6" r="1.0"/><circle cx="68.4" cy="370.5" r="1.0"/><circle cx="66.0" cy="366.9" r="1.0"/><circle cx="71.0" cy="367.2" r="1.0"/><circle cx="66.5" cy="356.2" r="1.0"/><circle cx="67.1" cy="358.3" r="1.0"/><circle cx="63.9" cy="364.1" r="1.0"/><circle cx="68.5" cy="371.3" r="1.0"/><circle cx="68.5" cy="368.5" r="1.0"/><circle cx="67.6" cy="355.9" r="1.0"/><circle cx="65.3" cy="357.5" r="1.0"/><circle cx="68.3" cy="360.7" r="1.0"/><circle cx="68.3" cy="361.2" r="1.0"/><circle cx="68.9" cy="364.7" r="1.0"/><circle cx="66.7" cy="367.1" r="1.0"/><circle cx="71.5" cy="366.2" r="1.0"/><circle cx="70.2" cy="361.4" r="1.0"/><circle cx="67.5" cy="356.6" r="1.0"/><circle cx="64.7" cy="363.4" r="1.0"/><circle cx="65.8" cy="359.0" r="1.0"/><circle cx="66.3" cy="371.1" r="1.0"/><circle cx="67.8" cy="366.8" r="1.0"/><circle cx="70.5" cy="365.8" r="1.0"/><circle cx="65.4" cy="366.6" r="1.0"/><circle cx="62.8" cy="362.7" r="1.0"/><circle cx="66.2" cy="360.7" r="1.0"/><circle cx="68.4" cy="370.0" r="1.0"/><circle cx="65.2" cy="365.2" r="1.0"/><circle cx="66.3" cy="366.4" r="1.0"/><circle cx="71.2" cy="370.6" r="1.0"/><circle cx="67.2" cy="359.9" r="1.0"/><circle cx="70.6" cy="369.9" r="1.0"/><circle cx="70.3" cy="366.8" r="1.0"/><circle cx="68.5" cy="362.2" r="1.0"/><circle cx="67.9" cy="361.8" r="1.0"/><circle cx="69.3" cy="370.4" r="1.0"/><circle cx="65.0" cy="368.0" r="1.0"/><circle cx="63.8" cy="360.4" r="1.0"/><circle cx="66.4" cy="362.1" r="1.0"/>
</g>
<path d="M71.4 369.2h0M70.7 370.0h0M61.1 370.9h0M63.6 371.3h0M56.6 371.4h0M60.8 371.0h0M68.4 369.1h0M59.9 371.9h0M69.8 372.6h0M72.8 372.8h0M60.1 371.3h0M58.2 371.2h0M67.9 371.5h0M63.2 372.6h0M69.6 369.7h0M62.7 372.1h0M57.0 372.3h0M71.2 371.6h0M58.0 371.2h0M58.6 372.6h0M60.2 369.2h0M63.7 369.9h0M70.7 369.7h0M58.0 370.5h0M63.5 371.2h0M72.4 370.6h0M70.9 369.5h0M64.2 372.6h0M70.2 371.6h0M57.5 373.0h0" stroke="#e0007a" stroke-width="2.0" stroke-linecap="round" fill="none"/>
<path d="M61.3 369.0h0M60.7 363.0h0M61.5 370.3h0M62.2 366.1h0M61.1 368.0h0M61.5 364.6h0M60.8 362.6h0M60.7 370.2h0M62.7 370.4h0M62.0 366.7h0M61.1 367.0h0M61.4 370.7h0" stroke="#a855e8" stroke-width="1.8" stroke-linecap="round" fill="none"/>
<path d="M14.8 301.0V375.3H99.2" stroke="#9a9a9a" stroke-width="0.5" fill="none"/>
<path d="M13.9 371.8H14.8" stroke="#9a9a9a" stroke-width="0.40"/>
<text x="13.50" y="372.95" font-size="3.2" text-anchor="end" fill="#4d4d4d" stroke="#4d4d4d" stroke-width="0.13">0</text>
<path d="M13.9 355.9H14.8" stroke="#9a9a9a" stroke-width="0.40"/>
<text x="13.50" y="357.05" font-size="3.2" text-anchor="end" fill="#4d4d4d" stroke="#4d4d4d" stroke-width="0.13">10</text>
<path d="M13.9 339.9H14.8" stroke="#9a9a9a" stroke-width="0.40"/>
<text x="13.50" y="341.05" font-size="3.2" text-anchor="end" fill="#4d4d4d" stroke="#4d4d4d" stroke-width="0.13">20</text>
<path d="M13.9 324.0H14.8" stroke="#9a9a9a" stroke-width="0.40"/>
<text x="13.50" y="325.15" font-size="3.2" text-anchor="end" fill="#4d4d4d" stroke="#4d4d4d" stroke-width="0.13">30</text>
<path d="M13.9 308.0H14.8" stroke="#9a9a9a" stroke-width="0.40"/>
<text x="13.50" y="309.15" font-size="3.2" text-anchor="end" fill="#4d4d4d" stroke="#4d4d4d" stroke-width="0.13">40</text>
<path d="M24.4 375.3V376.2" stroke="#9a9a9a" stroke-width="0.40"/>
<text x="24.40" y="379.00" font-size="3.2" text-anchor="middle" fill="#4d4d4d" stroke="#4d4d4d" stroke-width="0.13">−10</text>
<path d="M42.9 375.3V376.2" stroke="#9a9a9a" stroke-width="0.40"/>
<text x="42.90" y="379.00" font-size="3.2" text-anchor="middle" fill="#4d4d4d" stroke="#4d4d4d" stroke-width="0.13">−5</text>
<path d="M61.4 375.3V376.2" stroke="#9a9a9a" stroke-width="0.40"/>
<text x="61.40" y="379.00" font-size="3.2" text-anchor="middle" fill="#4d4d4d" stroke="#4d4d4d" stroke-width="0.13">0</text>
<path d="M79.9 375.3V376.2" stroke="#9a9a9a" stroke-width="0.40"/>
<text x="79.90" y="379.00" font-size="3.2" text-anchor="middle" fill="#4d4d4d" stroke="#4d4d4d" stroke-width="0.13">5</text>
<path d="M98.4 375.3V376.2" stroke="#9a9a9a" stroke-width="0.40"/>
<text x="98.40" y="379.00" font-size="3.2" text-anchor="middle" fill="#4d4d4d" stroke="#4d4d4d" stroke-width="0.13">10</text>
<text x="57.00" y="382.20" font-size="3.0" text-anchor="middle" fill="#222" stroke="#222" stroke-width="0.12">log2(Mild/Healthy)</text>
<text x="9.30" y="337.70" font-size="3.0" text-anchor="middle" fill="#222" transform="rotate(-90 9.30 337.70)" stroke="#222" stroke-width="0.12">−log10(Padj)</text>
<circle cx="18.3" cy="303.9" r="0.6" fill="#a0102a"/>
<text x="20.50" y="304.80" font-size="2.55" text-anchor="start" fill="#222" stroke="#222" stroke-width="0.10">Retrotransposons</text>
<circle cx="18.3" cy="306.4" r="0.6" fill="#5a1060"/>
<text x="20.50" y="307.30" font-size="2.55" text-anchor="start" fill="#222" stroke="#222" stroke-width="0.10">DNA transposons</text>
<circle cx="18.3" cy="308.8" r="0.6" fill="#c8c8c8"/>
<text x="20.50" y="309.70" font-size="2.55" text-anchor="start" fill="#222" stroke="#222" stroke-width="0.10">Others</text>
<text x="69.80" y="303.60" font-size="2.45" text-anchor="start" fill="#333" stroke="#333" stroke-width="0.07">UBDC</text>
<text x="66.00" y="307.00" font-size="2.45" text-anchor="start" fill="#333" stroke="#333" stroke-width="0.07">CCNA2</text>
<text x="72.00" y="312.40" font-size="2.45" text-anchor="start" fill="#333" stroke="#333" stroke-width="0.07">TK1</text>
<text x="66.00" y="316.00" font-size="2.45" text-anchor="start" fill="#333" stroke="#333" stroke-width="0.07">CFS2</text>
<text x="63.80" y="319.80" font-size="2.45" text-anchor="start" fill="#333" stroke="#333" stroke-width="0.07">AURKB</text>
<text x="69.30" y="322.90" font-size="2.45" text-anchor="start" fill="#333" stroke="#333" stroke-width="0.07">PLK1</text>
<text x="73.30" y="325.70" font-size="2.45" text-anchor="start" fill="#333" stroke="#333" stroke-width="0.07">RRM2</text>
<text x="69.30" y="330.20" font-size="2.45" text-anchor="start" fill="#333" stroke="#333" stroke-width="0.07">CTNS</text>
<text x="63.80" y="332.90" font-size="2.45" text-anchor="start" fill="#333" stroke="#333" stroke-width="0.07">CDC20</text>
<text x="61.40" y="337.10" font-size="2.45" text-anchor="start" fill="#333" stroke="#333" stroke-width="0.07">NUSAP1</text>
<text x="74.50" y="337.60" font-size="2.45" text-anchor="start" fill="#333" stroke="#333" stroke-width="0.07">GINS2</text>
<text x="62.60" y="340.50" font-size="2.45" text-anchor="start" fill="#333" stroke="#333" stroke-width="0.07">FOXM1</text>
<text x="91.20" y="322.60" font-size="2.45" text-anchor="start" fill="#333" stroke="#333" stroke-width="0.07">IGLL1</text>
<text x="45.50" y="350.00" font-size="2.45" text-anchor="start" fill="#333" stroke="#333" stroke-width="0.07">TMPRSS11</text>
<text x="43.60" y="356.00" font-size="2.45" text-anchor="start" fill="#333" stroke="#333" stroke-width="0.07">ALDH3A1</text>
<text x="42.40" y="359.00" font-size="2.45" text-anchor="start" fill="#333" stroke="#333" stroke-width="0.07">CYP24A1</text>
<text x="43.60" y="363.00" font-size="2.45" text-anchor="start" fill="#333" stroke="#333" stroke-width="0.07">DSC3</text>
<text x="31.70" y="364.80" font-size="2.45" text-anchor="start" fill="#333" stroke="#333" stroke-width="0.07">MS4A8</text>
<text x="15.00" y="364.80" font-size="2.45" text-anchor="start" fill="#333" stroke="#333" stroke-width="0.07">PRAP1</text>
<text x="22.00" y="366.70" font-size="2.45" text-anchor="start" fill="#333" stroke="#333" stroke-width="0.07">LEP</text>
<text x="28.00" y="370.20" font-size="2.45" text-anchor="start" fill="#333" stroke="#333" stroke-width="0.07">ADH</text>
<text x="80.50" y="363.00" font-size="2.45" text-anchor="start" fill="#333" stroke="#333" stroke-width="0.07">EGF</text>
<text x="86.40" y="370.20" font-size="2.45" text-anchor="start" fill="#333" stroke="#333" stroke-width="0.07">FABP4</text>
<text x="102.40" y="292.00" font-size="6.5" text-anchor="start" font-weight="bold" fill="#000">F</text>
<text x="111.80" y="299.40" font-size="3.95" text-anchor="start" fill="#111" stroke="#111" stroke-width="0.16">Transposons in the severe patients</text>
<path d="M138.7 302V375M149.7 302V375M111.5 370.8H188" stroke="#dadada" stroke-width="0.3" stroke-dasharray="1 0.7" fill="none"/>
<g fill="#cdcdcd" stroke="#a9a9a9" stroke-width="0.25">
<circle cx="157.0" cy="361.7" r="0.9"/><circle cx="173.6" cy="367.6" r="0.9"/><circle cx="154.2" cy="345.3" r="0.9"/><circle cx="152.7" cy="345.1" r="0.9"/><circle cx="167.7" cy="344.7" r="0.9"/><circle cx="158.4" cy="352.5" r="0.9"/><circle cx="179.7" cy="358.9" r="0.9"/><circle cx="152.6" cy="368.4" r="0.9"/><circle cx="178.6" cy="366.0" r="0.9"/><circle cx="179.2" cy="363.8" r="0.9"/><circle cx="156.9" cy="367.6" r="0.9"/><circle cx="165.9" cy="364.2" r="0.9"/><circle cx="169.0" cy="352.5" r="0.9"/><circle cx="161.1" cy="352.5" r="0.9"/><circle cx="159.2" cy="341.2" r="0.9"/><circle cx="178.9" cy="365.7" r="0.9"/><circle cx="168.6" cy="363.9" r="0.9"/><circle cx="152.2" cy="361.4" r="0.9"/><circle cx="164.2" cy="343.4" r="0.9"/><circle cx="154.8" cy="355.8" r="0.9"/><circle cx="156.8" cy="353.5" r="0.9"/><circle cx="170.6" cy="351.2" r="0.9"/><circle cx="152.0" cy="354.7" r="0.9"/><circle cx="156.1" cy="345.5" r="0.9"/><circle cx="154.5" cy="350.2" r="0.9"/><circle cx="149.8" cy="360.4" r="0.9"/><circle cx="175.0" cy="370.6" r="0.9"/><circle cx="178.4" cy="367.2" r="0.9"/><circle cx="163.1" cy="368.3" r="0.9"/><circle cx="181.6" cy="365.9" r="0.9"/><circle cx="154.8" cy="367.7" r="0.9"/><circle cx="161.6" cy="362.8" r="0.9"/><circle cx="152.3" cy="372.0" r="0.9"/><circle cx="170.5" cy="363.0" r="0.9"/><circle cx="155.2" cy="359.2" r="0.9"/><circle cx="169.6" cy="358.3" r="0.9"/><circle cx="161.0" cy="363.2" r="0.9"/><circle cx="160.2" cy="347.6" r="0.9"/><circle cx="153.3" cy="361.6" r="0.9"/><circle cx="149.6" cy="360.2" r="0.9"/><circle cx="168.6" cy="356.6" r="0.9"/><circle cx="160.3" cy="340.3" r="0.9"/><circle cx="147.0" cy="372.9" r="0.9"/><circle cx="151.7" cy="347.9" r="0.9"/><circle cx="157.4" cy="358.5" r="0.9"/><circle cx="149.9" cy="353.9" r="0.9"/><circle cx="161.2" cy="367.0" r="0.9"/><circle cx="166.3" cy="371.9" r="0.9"/><circle cx="167.1" cy="354.1" r="0.9"/><circle cx="182.5" cy="363.6" r="0.9"/><circle cx="157.0" cy="361.6" r="0.9"/><circle cx="169.9" cy="349.8" r="0.9"/><circle cx="156.5" cy="347.3" r="0.9"/><circle cx="154.9" cy="349.6" r="0.9"/><circle cx="150.3" cy="364.3" r="0.9"/><circle cx="165.7" cy="357.0" r="0.9"/><circle cx="159.9" cy="347.4" r="0.9"/><circle cx="163.9" cy="341.9" r="0.9"/><circle cx="158.8" cy="351.0" r="0.9"/><circle cx="161.0" cy="352.9" r="0.9"/><circle cx="181.2" cy="372.6" r="0.9"/><circle cx="148.6" cy="356.3" r="0.9"/><circle cx="152.0" cy="365.9" r="0.9"/><circle cx="159.5" cy="369.1" r="0.9"/><circle cx="168.2" cy="341.5" r="0.9"/><circle cx="165.6" cy="350.4" r="0.9"/><circle cx="160.4" cy="365.9" r="0.9"/><circle cx="155.3" cy="362.9" r="0.9"/><circle cx="173.0" cy="370.7" r="0.9"/><circle cx="167.2" cy="370.1" r="0.9"/><circle cx="164.1" cy="357.6" r="0.9"/><circle cx="171.2" cy="367.2" r="0.9"/><circle cx="152.3" cy="356.2" r="0.9"/><circle cx="158.6" cy="371.6" r="0.9"/><circle cx="158.5" cy="340.1" r="0.9"/><circle cx="174.9" cy="368.2" r="0.9"/><circle cx="163.5" cy="359.4" r="0.9"/><circle cx="179.5" cy="362.8" r="0.9"/><circle cx="158.3" cy="364.4" r="0.9"/><circle cx="151.2" cy="348.1" r="0.9"/><circle cx="157.4" cy="365.3" r="0.9"/><circle cx="159.9" cy="370.7" r="0.9"/><circle cx="156.6" cy="367.6" r="0.9"/><circle cx="165.8" cy="346.4" r="0.9"/><circle cx="164.9" cy="369.5" r="0.9"/><circle cx="167.9" cy="344.0" r="0.9"/><circle cx="161.6" cy="354.1" r="0.9"/><circle cx="154.4" cy="357.6" r="0.9"/><circle cx="148.2" cy="366.6" r="0.9"/><circle cx="153.9" cy="340.7" r="0.9"/><circle cx="169.9" cy="348.1" r="0.9"/><circle cx="167.3" cy="367.0" r="0.9"/><circle cx="155.3" cy="363.8" r="0.9"/><circle cx="172.3" cy="352.4" r="0.9"/><circle cx="149.0" cy="355.0" r="0.9"/><circle cx="165.9" cy="358.9" r="0.9"/><circle cx="156.4" cy="356.1" r="0.9"/><circle cx="174.3" cy="352.4" r="0.9"/><circle cx="182.6" cy="363.7" r="0.9"/><circle cx="150.8" cy="369.9" r="0.9"/><circle cx="183.3" cy="366.4" r="0.9"/><circle cx="179.4" cy="361.5" r="0.9"/><circle cx="175.1" cy="361.0" r="0.9"/><circle cx="170.0" cy="346.3" r="0.9"/><circle cx="152.1" cy="363.1" r="0.9"/><circle cx="172.0" cy="359.0" r="0.9"/><circle cx="166.9" cy="364.9" r="0.9"/><circle cx="169.3" cy="351.9" r="0.9"/><circle cx="173.2" cy="369.9" r="0.9"/><circle cx="173.6" cy="350.5" r="0.9"/><circle cx="149.9" cy="354.2" r="0.9"/><circle cx="163.1" cy="366.3" r="0.9"/><circle cx="177.6" cy="372.5" r="0.9"/><circle cx="164.4" cy="351.8" r="0.9"/><circle cx="169.0" cy="364.0" r="0.9"/><circle cx="152.6" cy="348.7" r="0.9"/><circle cx="158.6" cy="371.9" r="0.9"/><circle cx="155.0" cy="370.6" r="0.9"/><circle cx="158.4" cy="344.3" r="0.9"/><circle cx="149.5" cy="350.9" r="0.9"/><circle cx="155.2" cy="342.7" r="0.9"/><circle cx="147.5" cy="362.1" r="0.9"/><circle cx="169.0" cy="368.8" r="0.9"/><circle cx="172.7" cy="362.5" r="0.9"/><circle cx="174.3" cy="365.7" r="0.9"/><circle cx="149.0" cy="359.4" r="0.9"/><circle cx="167.2" cy="355.8" r="0.9"/><circle cx="174.5" cy="352.4" r="0.9"/><circle cx="163.4" cy="345.8" r="0.9"/><circle cx="157.9" cy="357.8" r="0.9"/><circle cx="168.6" cy="369.6" r="0.9"/><circle cx="157.9" cy="362.8" r="0.9"/><circle cx="150.7" cy="360.5" r="0.9"/><circle cx="153.2" cy="367.9" r="0.9"/><circle cx="158.8" cy="340.7" r="0.9"/><circle cx="164.2" cy="340.8" r="0.9"/><circle cx="174.4" cy="357.7" r="0.9"/><circle cx="163.3" cy="362.6" r="0.9"/><circle cx="156.0" cy="348.9" r="0.9"/><circle cx="150.9" cy="365.7" r="0.9"/><circle cx="163.4" cy="342.0" r="0.9"/><circle cx="156.4" cy="342.4" r="0.9"/><circle cx="161.1" cy="364.1" r="0.9"/><circle cx="175.9" cy="357.3" r="0.9"/><circle cx="171.5" cy="371.0" r="0.9"/><circle cx="178.1" cy="358.6" r="0.9"/><circle cx="177.0" cy="354.7" r="0.9"/><circle cx="168.5" cy="366.4" r="0.9"/><circle cx="171.1" cy="350.6" r="0.9"/><circle cx="147.7" cy="365.4" r="0.9"/><circle cx="160.2" cy="352.4" r="0.9"/><circle cx="158.1" cy="357.0" r="0.9"/><circle cx="162.6" cy="367.0" r="0.9"/><circle cx="170.1" cy="357.1" r="0.9"/><circle cx="167.9" cy="364.0" r="0.9"/><circle cx="175.2" cy="363.8" r="0.9"/><circle cx="168.6" cy="343.8" r="0.9"/><circle cx="156.3" cy="352.6" r="0.9"/><circle cx="166.4" cy="369.4" r="0.9"/><circle cx="175.8" cy="353.5" r="0.9"/><circle cx="162.7" cy="365.9" r="0.9"/><circle cx="175.6" cy="357.3" r="0.9"/><circle cx="163.4" cy="338.4" r="0.9"/><circle cx="174.2" cy="353.1" r="0.9"/><circle cx="175.2" cy="359.0" r="0.9"/><circle cx="162.6" cy="368.5" r="0.9"/><circle cx="152.1" cy="371.5" r="0.9"/><circle cx="150.3" cy="371.9" r="0.9"/><circle cx="169.8" cy="353.1" r="0.9"/><circle cx="178.1" cy="360.0" r="0.9"/><circle cx="156.3" cy="341.1" r="0.9"/><circle cx="163.3" cy="370.7" r="0.9"/><circle cx="148.3" cy="366.8" r="0.9"/><circle cx="154.8" cy="363.3" r="0.9"/><circle cx="166.4" cy="371.7" r="0.9"/><circle cx="152.7" cy="365.6" r="0.9"/><circle cx="169.0" cy="347.6" r="0.9"/><circle cx="174.1" cy="371.6" r="0.9"/><circle cx="172.9" cy="354.8" r="0.9"/><circle cx="170.5" cy="345.9" r="0.9"/><circle cx="165.2" cy="341.2" r="0.9"/><circle cx="167.5" cy="343.5" r="0.9"/><circle cx="148.0" cy="359.5" r="0.9"/><circle cx="175.0" cy="369.0" r="0.9"/><circle cx="173.4" cy="372.8" r="0.9"/><circle cx="152.5" cy="359.6" r="0.9"/><circle cx="152.4" cy="345.7" r="0.9"/><circle cx="167.4" cy="365.3" r="0.9"/><circle cx="174.7" cy="357.6" r="0.9"/><circle cx="149.9" cy="363.0" r="0.9"/><circle cx="166.9" cy="343.1" r="0.9"/><circle cx="159.0" cy="353.2" r="0.9"/><circle cx="164.2" cy="345.5" r="0.9"/><circle cx="173.1" cy="366.4" r="0.9"/><circle cx="157.2" cy="362.9" r="0.9"/><circle cx="165.0" cy="344.8" r="0.9"/><circle cx="157.7" cy="356.4" r="0.9"/><circle cx="178.4" cy="358.7" r="0.9"/><circle cx="169.6" cy="352.2" r="0.9"/><circle cx="156.3" cy="352.9" r="0.9"/><circle cx="152.3" cy="368.6" r="0.9"/><circle cx="164.2" cy="339.5" r="0.9"/><circle cx="161.2" cy="359.3" r="0.9"/><circle cx="172.9" cy="369.4" r="0.9"/><circle cx="153.8" cy="357.5" r="0.9"/><circle cx="174.8" cy="353.8" r="0.9"/><circle cx="174.9" cy="371.5" r="0.9"/><circle cx="160.2" cy="363.5" r="0.9"/><circle cx="160.4" cy="369.0" r="0.9"/><circle cx="176.8" cy="367.9" r="0.9"/><circle cx="169.7" cy="361.7" r="0.9"/><circle cx="158.1" cy="366.2" r="0.9"/><circle cx="163.2" cy="344.1" r="0.9"/><circle cx="154.5" cy="357.8" r="0.9"/><circle cx="161.9" cy="338.7" r="0.9"/><circle cx="158.9" cy="372.1" r="0.9"/><circle cx="165.4" cy="361.6" r="0.9"/><circle cx="163.6" cy="339.6" r="0.9"/><circle cx="151.7" cy="359.2" r="0.9"/><circle cx="153.4" cy="348.8" r="0.9"/><circle cx="178.1" cy="363.7" r="0.9"/><circle cx="152.9" cy="364.0" r="0.9"/><circle cx="177.0" cy="361.2" r="0.9"/><circle cx="156.6" cy="368.2" r="0.9"/><circle cx="167.0" cy="344.4" r="0.9"/><circle cx="150.7" cy="372.6" r="0.9"/><circle cx="160.8" cy="369.2" r="0.9"/><circle cx="179.4" cy="367.3" r="0.9"/><circle cx="183.9" cy="371.9" r="0.9"/><circle cx="149.5" cy="363.3" r="0.9"/><circle cx="156.3" cy="340.8" r="0.9"/><circle cx="158.4" cy="357.2" r="0.9"/><circle cx="149.4" cy="352.3" r="0.9"/><circle cx="172.3" cy="368.1" r="0.9"/><circle cx="151.7" cy="369.2" r="0.9"/><circle cx="159.9" cy="343.1" r="0.9"/><circle cx="150.5" cy="360.6" r="0.9"/><circle cx="162.5" cy="343.8" r="0.9"/><circle cx="167.0" cy="341.5" r="0.9"/><circle cx="173.5" cy="371.7" r="0.9"/><circle cx="165.2" cy="352.2" r="0.9"/><circle cx="162.5" cy="350.2" r="0.9"/><circle cx="163.1" cy="343.4" r="0.9"/><circle cx="158.5" cy="361.9" r="0.9"/><circle cx="152.6" cy="367.3" r="0.9"/><circle cx="160.7" cy="366.9" r="0.9"/><circle cx="171.0" cy="359.5" r="0.9"/><circle cx="160.8" cy="357.9" r="0.9"/><circle cx="163.1" cy="355.6" r="0.9"/><circle cx="155.3" cy="369.5" r="0.9"/><circle cx="183.2" cy="366.3" r="0.9"/><circle cx="166.0" cy="355.7" r="0.9"/><circle cx="154.9" cy="357.4" r="0.9"/><circle cx="164.1" cy="350.2" r="0.9"/><circle cx="154.4" cy="347.2" r="0.9"/><circle cx="179.7" cy="371.7" r="0.9"/><circle cx="161.5" cy="347.3" r="0.9"/><circle cx="160.1" cy="368.1" r="0.9"/><circle cx="157.2" cy="343.6" r="0.9"/><circle cx="159.2" cy="340.1" r="0.9"/><circle cx="152.6" cy="345.4" r="0.9"/><circle cx="172.4" cy="370.4" r="0.9"/><circle cx="157.0" cy="347.6" r="0.9"/><circle cx="150.4" cy="357.6" r="0.9"/><circle cx="165.1" cy="349.6" r="0.9"/><circle cx="157.1" cy="343.4" r="0.9"/><circle cx="156.2" cy="339.5" r="0.9"/><circle cx="163.1" cy="343.2" r="0.9"/><circle cx="154.9" cy="364.3" r="0.9"/><circle cx="184.5" cy="371.8" r="0.9"/><circle cx="159.8" cy="356.5" r="0.9"/><circle cx="163.8" cy="339.9" r="0.9"/><circle cx="163.4" cy="359.0" r="0.9"/><circle cx="162.5" cy="365.3" r="0.9"/><circle cx="164.4" cy="347.6" r="0.9"/><circle cx="156.9" cy="369.6" r="0.9"/><circle cx="165.7" cy="358.7" r="0.9"/><circle cx="165.2" cy="367.9" r="0.9"/><circle cx="175.5" cy="352.9" r="0.9"/><circle cx="161.2" cy="364.8" r="0.9"/><circle cx="179.6" cy="358.7" r="0.9"/><circle cx="163.1" cy="348.4" r="0.9"/><circle cx="157.4" cy="342.5" r="0.9"/><circle cx="163.5" cy="366.0" r="0.9"/><circle cx="180.4" cy="364.3" r="0.9"/><circle cx="158.3" cy="352.4" r="0.9"/><circle cx="165.7" cy="355.2" r="0.9"/><circle cx="182.5" cy="371.6" r="0.9"/><circle cx="181.0" cy="370.0" r="0.9"/><circle cx="149.9" cy="352.3" r="0.9"/><circle cx="168.4" cy="348.0" r="0.9"/><circle cx="156.3" cy="365.3" r="0.9"/><circle cx="155.1" cy="356.9" r="0.9"/><circle cx="151.1" cy="369.4" r="0.9"/><circle cx="158.4" cy="347.7" r="0.9"/><circle cx="175.6" cy="357.9" r="0.9"/><circle cx="164.4" cy="361.9" r="0.9"/><circle cx="150.8" cy="351.0" r="0.9"/><circle cx="181.2" cy="369.8" r="0.9"/><circle cx="165.9" cy="365.2" r="0.9"/><circle cx="173.1" cy="349.3" r="0.9"/><circle cx="171.7" cy="359.4" r="0.9"/><circle cx="160.8" cy="344.5" r="0.9"/><circle cx="168.9" cy="348.8" r="0.9"/><circle cx="148.4" cy="369.3" r="0.9"/><circle cx="154.8" cy="370.1" r="0.9"/><circle cx="171.1" cy="371.4" r="0.9"/><circle cx="165.3" cy="346.2" r="0.9"/><circle cx="150.2" cy="359.4" r="0.9"/><circle cx="174.1" cy="361.5" r="0.9"/><circle cx="172.1" cy="362.3" r="0.9"/><circle cx="169.9" cy="348.8" r="0.9"/><circle cx="167.2" cy="343.3" r="0.9"/><circle cx="161.9" cy="349.6" r="0.9"/><circle cx="165.0" cy="351.6" r="0.9"/><circle cx="155.4" cy="343.1" r="0.9"/><circle cx="165.2" cy="372.7" r="0.9"/><circle cx="159.6" cy="372.8" r="0.9"/><circle cx="160.2" cy="340.7" r="0.9"/><circle cx="168.9" cy="358.1" r="0.9"/><circle cx="166.9" cy="371.1" r="0.9"/><circle cx="166.9" cy="350.1" r="0.9"/><circle cx="155.1" cy="357.9" r="0.9"/><circle cx="176.0" cy="355.1" r="0.9"/><circle cx="162.2" cy="346.0" r="0.9"/><circle cx="179.9" cy="372.7" r="0.9"/><circle cx="169.8" cy="362.6" r="0.9"/><circle cx="159.6" cy="342.7" r="0.9"/><circle cx="149.1" cy="359.2" r="0.9"/><circle cx="173.2" cy="367.9" r="0.9"/><circle cx="163.0" cy="352.4" r="0.9"/><circle cx="157.1" cy="366.9" r="0.9"/><circle cx="173.9" cy="355.9" r="0.9"/><circle cx="177.4" cy="369.9" r="0.9"/><circle cx="165.2" cy="362.7" r="0.9"/><circle cx="156.4" cy="352.9" r="0.9"/><circle cx="163.0" cy="360.0" r="0.9"/><circle cx="172.9" cy="360.9" r="0.9"/><circle cx="172.2" cy="353.3" r="0.9"/><circle cx="159.3" cy="341.6" r="0.9"/><circle cx="181.6" cy="364.9" r="0.9"/><circle cx="172.4" cy="364.1" r="0.9"/><circle cx="159.2" cy="343.4" r="0.9"/><circle cx="167.7" cy="353.8" r="0.9"/><circle cx="172.3" cy="368.4" r="0.9"/><circle cx="162.2" cy="350.5" r="0.9"/><circle cx="174.5" cy="368.8" r="0.9"/><circle cx="169.0" cy="358.4" r="0.9"/><circle cx="181.8" cy="370.1" r="0.9"/><circle cx="148.7" cy="372.1" r="0.9"/><circle cx="150.6" cy="356.9" r="0.9"/><circle cx="166.4" cy="372.2" r="0.9"/><circle cx="156.0" cy="338.6" r="0.9"/><circle cx="164.8" cy="352.4" r="0.9"/><circle cx="157.7" cy="338.1" r="0.9"/><circle cx="168.7" cy="344.8" r="0.9"/><circle cx="166.4" cy="372.8" r="0.9"/><circle cx="160.0" cy="341.4" r="0.9"/><circle cx="151.8" cy="369.9" r="0.9"/><circle cx="168.7" cy="369.0" r="0.9"/><circle cx="155.3" cy="343.4" r="0.9"/><circle cx="169.5" cy="361.9" r="0.9"/><circle cx="153.9" cy="355.1" r="0.9"/><circle cx="168.9" cy="355.0" r="0.9"/><circle cx="159.2" cy="353.1" r="0.9"/><circle cx="149.2" cy="367.0" r="0.9"/><circle cx="156.7" cy="361.3" r="0.9"/><circle cx="151.4" cy="368.8" r="0.9"/><circle cx="148.0" cy="366.0" r="0.9"/><circle cx="167.7" cy="369.7" r="0.9"/><circle cx="148.6" cy="368.1" r="0.9"/><circle cx="152.5" cy="361.3" r="0.9"/><circle cx="162.1" cy="372.0" r="0.9"/><circle cx="155.4" cy="357.0" r="0.9"/><circle cx="163.1" cy="356.6" r="0.9"/><circle cx="158.5" cy="371.6" r="0.9"/><circle cx="166.3" cy="371.2" r="0.9"/><circle cx="161.4" cy="354.4" r="0.9"/><circle cx="172.2" cy="355.1" r="0.9"/><circle cx="151.8" cy="372.9" r="0.9"/><circle cx="173.2" cy="370.4" r="0.9"/><circle cx="171.9" cy="350.0" r="0.9"/><circle cx="149.0" cy="353.8" r="0.9"/><circle cx="169.5" cy="346.8" r="0.9"/><circle cx="156.8" cy="354.3" r="0.9"/><circle cx="165.7" cy="362.4" r="0.9"/><circle cx="156.0" cy="347.1" r="0.9"/><circle cx="152.8" cy="359.4" r="0.9"/><circle cx="160.6" cy="358.2" r="0.9"/><circle cx="184.8" cy="371.9" r="0.9"/><circle cx="177.8" cy="372.0" r="0.9"/><circle cx="155.1" cy="355.2" r="0.9"/><circle cx="151.7" cy="358.7" r="0.9"/><circle cx="168.2" cy="344.5" r="0.9"/><circle cx="166.0" cy="346.9" r="0.9"/><circle cx="161.8" cy="362.7" r="0.9"/><circle cx="158.8" cy="366.8" r="0.9"/><circle cx="165.6" cy="356.3" r="0.9"/><circle cx="165.4" cy="368.6" r="0.9"/><circle cx="155.4" cy="342.3" r="0.9"/><circle cx="156.6" cy="367.0" r="0.9"/><circle cx="146.9" cy="372.6" r="0.9"/><circle cx="166.8" cy="343.2" r="0.9"/><circle cx="169.0" cy="348.8" r="0.9"/><circle cx="165.7" cy="371.2" r="0.9"/><circle cx="167.4" cy="372.1" r="0.9"/><circle cx="156.8" cy="366.4" r="0.9"/><circle cx="169.1" cy="369.1" r="0.9"/><circle cx="152.5" cy="346.6" r="0.9"/><circle cx="170.6" cy="371.7" r="0.9"/><circle cx="172.4" cy="364.5" r="0.9"/><circle cx="161.6" cy="365.7" r="0.9"/><circle cx="171.2" cy="368.8" r="0.9"/><circle cx="160.4" cy="341.6" r="0.9"/><circle cx="169.8" cy="348.4" r="0.9"/><circle cx="159.2" cy="355.2" r="0.9"/><circle cx="175.4" cy="361.5" r="0.9"/><circle cx="164.9" cy="360.4" r="0.9"/><circle cx="171.4" cy="369.9" r="0.9"/><circle cx="173.6" cy="367.5" r="0.9"/><circle cx="135.6" cy="370.0" r="0.9"/><circle cx="141.2" cy="355.6" r="0.9"/><circle cx="140.5" cy="354.5" r="0.9"/><circle cx="139.3" cy="366.1" r="0.9"/><circle cx="137.0" cy="370.3" r="0.9"/><circle cx="137.3" cy="365.2" r="0.9"/><circle cx="140.2" cy="370.7" r="0.9"/><circle cx="136.9" cy="365.8" r="0.9"/><circle cx="140.6" cy="356.0" r="0.9"/><circle cx="137.0" cy="361.7" r="0.9"/><circle cx="139.6" cy="363.5" r="0.9"/><circle cx="141.5" cy="370.9" r="0.9"/><circle cx="141.1" cy="357.2" r="0.9"/><circle cx="139.6" cy="364.6" r="0.9"/><circle cx="139.0" cy="356.0" r="0.9"/><circle cx="138.5" cy="367.9" r="0.9"/><circle cx="142.6" cy="360.3" r="0.9"/><circle cx="137.9" cy="370.4" r="0.9"/><circle cx="134.1" cy="369.1" r="0.9"/><circle cx="140.4" cy="354.2" r="0.9"/><circle cx="133.5" cy="371.8" r="0.9"/><circle cx="136.4" cy="364.5" r="0.9"/><circle cx="139.4" cy="360.5" r="0.9"/><circle cx="134.1" cy="367.4" r="0.9"/><circle cx="136.7" cy="361.4" r="0.9"/><circle cx="141.8" cy="371.8" r="0.9"/><circle cx="136.1" cy="359.5" r="0.9"/><circle cx="141.5" cy="361.9" r="0.9"/><circle cx="142.8" cy="360.3" r="0.9"/><circle cx="142.9" cy="364.5" r="0.9"/><circle cx="143.7" cy="369.4" r="0.9"/><circle cx="140.5" cy="356.4" r="0.9"/><circle cx="134.7" cy="366.9" r="0.9"/><circle cx="137.4" cy="363.0" r="0.9"/><circle cx="142.0" cy="366.9" r="0.9"/><circle cx="135.3" cy="367.9" r="0.9"/><circle cx="140.5" cy="364.7" r="0.9"/><circle cx="138.5" cy="371.3" r="0.9"/><circle cx="139.6" cy="354.0" r="0.9"/><circle cx="142.2" cy="366.1" r="0.9"/><circle cx="135.9" cy="368.4" r="0.9"/><circle cx="143.2" cy="367.6" r="0.9"/><circle cx="138.2" cy="369.5" r="0.9"/><circle cx="137.4" cy="363.3" r="0.9"/><circle cx="140.1" cy="366.1" r="0.9"/><circle cx="138.7" cy="360.3" r="0.9"/><circle cx="141.1" cy="364.1" r="0.9"/><circle cx="135.3" cy="364.5" r="0.9"/><circle cx="138.0" cy="368.8" r="0.9"/><circle cx="140.7" cy="372.7" r="0.9"/><circle cx="141.4" cy="363.1" r="0.9"/><circle cx="140.4" cy="358.7" r="0.9"/><circle cx="139.1" cy="372.8" r="0.9"/><circle cx="137.7" cy="367.2" r="0.9"/><circle cx="135.1" cy="366.6" r="0.9"/><circle cx="134.2" cy="372.3" r="0.9"/><circle cx="141.2" cy="364.0" r="0.9"/><circle cx="136.0" cy="360.1" r="0.9"/><circle cx="142.8" cy="362.1" r="0.9"/><circle cx="139.2" cy="372.1" r="0.9"/><circle cx="138.3" cy="369.2" r="0.9"/><circle cx="139.6" cy="369.6" r="0.9"/><circle cx="139.9" cy="355.5" r="0.9"/><circle cx="135.4" cy="364.7" r="0.9"/><circle cx="137.6" cy="360.2" r="0.9"/><circle cx="133.2" cy="372.7" r="0.9"/><circle cx="138.3" cy="357.0" r="0.9"/><circle cx="140.3" cy="354.6" r="0.9"/><circle cx="134.6" cy="371.9" r="0.9"/><circle cx="140.3" cy="360.0" r="0.9"/><circle cx="134.5" cy="367.5" r="0.9"/><circle cx="136.1" cy="365.5" r="0.9"/><circle cx="142.3" cy="363.5" r="0.9"/><circle cx="143.0" cy="363.1" r="0.9"/><circle cx="139.0" cy="371.0" r="0.9"/><circle cx="135.3" cy="366.9" r="0.9"/><circle cx="141.7" cy="360.9" r="0.9"/><circle cx="140.3" cy="353.7" r="0.9"/><circle cx="138.3" cy="360.4" r="0.9"/><circle cx="140.4" cy="360.7" r="0.9"/><circle cx="125.2" cy="372.5" r="0.9"/><circle cx="130.6" cy="372.1" r="0.9"/><circle cx="126.1" cy="372.8" r="0.9"/><circle cx="120.6" cy="368.1" r="0.9"/><circle cx="128.1" cy="369.8" r="0.9"/><circle cx="118.7" cy="372.7" r="0.9"/><circle cx="120.0" cy="368.7" r="0.9"/><circle cx="130.1" cy="368.0" r="0.9"/><circle cx="113.0" cy="371.5" r="0.9"/><circle cx="115.5" cy="371.6" r="0.9"/><circle cx="112.1" cy="369.5" r="0.9"/><circle cx="119.9" cy="371.1" r="0.9"/><circle cx="126.9" cy="371.4" r="0.9"/><circle cx="115.9" cy="372.3" r="0.9"/><circle cx="166.8" cy="327.7" r="0.9"/><circle cx="171.4" cy="333.3" r="0.9"/><circle cx="163.5" cy="334.1" r="0.9"/><circle cx="173.8" cy="325.4" r="0.9"/><circle cx="164.9" cy="327.0" r="0.9"/><circle cx="166.1" cy="330.1" r="0.9"/><circle cx="171.0" cy="334.8" r="0.9"/><circle cx="166.1" cy="330.0" r="0.9"/><circle cx="159.2" cy="329.3" r="0.9"/><circle cx="167.8" cy="325.8" r="0.9"/><circle cx="178.3" cy="337.3" r="0.9"/><circle cx="175.5" cy="324.6" r="0.9"/><circle cx="169.5" cy="336.8" r="0.9"/><circle cx="164.8" cy="330.9" r="0.9"/><circle cx="169.3" cy="327.9" r="0.9"/><circle cx="168.3" cy="327.0" r="0.9"/><circle cx="177.4" cy="329.0" r="0.9"/><circle cx="178.6" cy="336.1" r="0.9"/><circle cx="167.3" cy="321.4" r="0.9"/><circle cx="176.9" cy="336.0" r="0.9"/><circle cx="174.0" cy="328.6" r="0.9"/><circle cx="174.4" cy="336.2" r="0.9"/><circle cx="160.3" cy="334.4" r="0.9"/><circle cx="172.2" cy="326.8" r="0.9"/><circle cx="172.1" cy="324.5" r="0.9"/><circle cx="179.1" cy="335.2" r="0.9"/><circle cx="162.6" cy="327.2" r="0.9"/><circle cx="163.6" cy="327.7" r="0.9"/><circle cx="176.0" cy="326.4" r="0.9"/><circle cx="163.9" cy="324.5" r="0.9"/><circle cx="165.6" cy="319.3" r="0.9"/><circle cx="176.1" cy="337.3" r="0.9"/><circle cx="162.4" cy="330.2" r="0.9"/><circle cx="168.7" cy="335.5" r="0.9"/><circle cx="163.8" cy="335.2" r="0.9"/><circle cx="175.0" cy="332.5" r="0.9"/><circle cx="165.4" cy="323.7" r="0.9"/><circle cx="159.8" cy="333.8" r="0.9"/><circle cx="157.5" cy="328.4" r="0.9"/><circle cx="163.9" cy="327.4" r="0.9"/><circle cx="165.0" cy="305.0" r="0.9"/><circle cx="161.0" cy="318.0" r="0.9"/><circle cx="165.0" cy="321.0" r="0.9"/><circle cx="159.0" cy="324.0" r="0.9"/><circle cx="168.0" cy="324.0" r="0.9"/><circle cx="174.0" cy="325.0" r="0.9"/><circle cx="156.0" cy="327.0" r="0.9"/><circle cx="163.0" cy="328.0" r="0.9"/><circle cx="154.0" cy="330.0" r="0.9"/><circle cx="170.0" cy="330.0" r="0.9"/><circle cx="175.0" cy="334.0" r="0.9"/><circle cx="158.0" cy="337.0" r="0.9"/><circle cx="170.0" cy="338.0" r="0.9"/><circle cx="178.0" cy="343.0" r="0.9"/><circle cx="182.0" cy="348.0" r="0.9"/><circle cx="184.0" cy="352.0" r="0.9"/><circle cx="180.0" cy="356.0" r="0.9"/><circle cx="183.0" cy="360.0" r="0.9"/><circle cx="176.0" cy="362.0" r="0.9"/><circle cx="124.0" cy="356.0" r="0.9"/><circle cx="123.0" cy="359.0" r="0.9"/><circle cx="121.0" cy="362.0" r="0.9"/><circle cx="129.0" cy="361.0" r="0.9"/><circle cx="116.0" cy="364.5" r="0.9"/><circle cx="115.0" cy="367.5" r="0.9"/>
</g>
<g fill="#fa0a20" stroke="#ffb0b8" stroke-width="0.18">
<circle cx="162.1" cy="361.8" r="1.0"/><circle cx="160.7" cy="364.0" r="1.0"/><circle cx="159.2" cy="364.9" r="1.0"/><circle cx="151.7" cy="370.7" r="1.0"/><circle cx="163.2" cy="364.8" r="1.0"/><circle cx="155.1" cy="363.0" r="1.0"/><circle cx="154.8" cy="365.5" r="1.0"/><circle cx="150.8" cy="371.5" r="1.0"/><circle cx="156.4" cy="363.6" r="1.0"/><circle cx="153.2" cy="362.4" r="1.0"/><circle cx="156.9" cy="365.5" r="1.0"/><circle cx="162.4" cy="364.4" r="1.0"/><circle cx="152.4" cy="362.5" r="1.0"/><circle cx="161.0" cy="362.4" r="1.0"/><circle cx="158.1" cy="364.5" r="1.0"/><circle cx="161.6" cy="364.9" r="1.0"/><circle cx="163.3" cy="363.4" r="1.0"/><circle cx="155.3" cy="369.8" r="1.0"/><circle cx="163.7" cy="370.2" r="1.0"/><circle cx="160.5" cy="366.4" r="1.0"/><circle cx="156.1" cy="371.6" r="1.0"/><circle cx="154.5" cy="365.4" r="1.0"/><circle cx="160.6" cy="367.0" r="1.0"/><circle cx="163.0" cy="369.5" r="1.0"/><circle cx="151.1" cy="371.5" r="1.0"/><circle cx="160.8" cy="371.7" r="1.0"/><circle cx="157.8" cy="371.1" r="1.0"/><circle cx="158.0" cy="371.3" r="1.0"/><circle cx="162.6" cy="362.9" r="1.0"/><circle cx="157.5" cy="364.6" r="1.0"/><circle cx="156.3" cy="363.9" r="1.0"/><circle cx="154.0" cy="369.4" r="1.0"/><circle cx="155.6" cy="366.7" r="1.0"/><circle cx="160.7" cy="365.4" r="1.0"/><circle cx="158.5" cy="371.4" r="1.0"/><circle cx="163.3" cy="368.7" r="1.0"/><circle cx="162.6" cy="362.3" r="1.0"/><circle cx="156.1" cy="370.7" r="1.0"/><circle cx="160.2" cy="371.7" r="1.0"/><circle cx="151.5" cy="367.8" r="1.0"/><circle cx="154.1" cy="366.8" r="1.0"/><circle cx="163.9" cy="365.7" r="1.0"/><circle cx="150.8" cy="366.6" r="1.0"/><circle cx="158.8" cy="363.8" r="1.0"/><circle cx="162.6" cy="364.1" r="1.0"/><circle cx="157.0" cy="367.2" r="1.0"/><circle cx="149.2" cy="371.3" r="1.0"/><circle cx="159.5" cy="363.9" r="1.0"/><circle cx="164.5" cy="369.7" r="1.0"/><circle cx="159.0" cy="366.5" r="1.0"/><circle cx="160.6" cy="363.2" r="1.0"/><circle cx="156.6" cy="360.8" r="1.0"/><circle cx="149.6" cy="367.7" r="1.0"/><circle cx="157.8" cy="370.6" r="1.0"/><circle cx="159.7" cy="369.4" r="1.0"/><circle cx="160.3" cy="365.2" r="1.0"/><circle cx="161.3" cy="362.6" r="1.0"/><circle cx="156.3" cy="368.6" r="1.0"/><circle cx="156.3" cy="364.1" r="1.0"/><circle cx="159.6" cy="372.1" r="1.0"/><circle cx="158.9" cy="371.2" r="1.0"/><circle cx="155.5" cy="372.0" r="1.0"/><circle cx="164.7" cy="369.6" r="1.0"/><circle cx="150.2" cy="371.4" r="1.0"/><circle cx="158.5" cy="366.0" r="1.0"/><circle cx="162.8" cy="367.5" r="1.0"/><circle cx="163.1" cy="367.3" r="1.0"/><circle cx="151.7" cy="371.7" r="1.0"/><circle cx="152.5" cy="366.7" r="1.0"/><circle cx="157.3" cy="365.4" r="1.0"/><circle cx="150.5" cy="370.5" r="1.0"/><circle cx="158.4" cy="367.7" r="1.0"/><circle cx="151.4" cy="364.7" r="1.0"/><circle cx="161.5" cy="367.8" r="1.0"/><circle cx="155.5" cy="364.5" r="1.0"/><circle cx="152.3" cy="368.6" r="1.0"/><circle cx="159.8" cy="369.0" r="1.0"/><circle cx="153.4" cy="366.0" r="1.0"/><circle cx="154.7" cy="361.0" r="1.0"/><circle cx="157.0" cy="368.2" r="1.0"/><circle cx="157.3" cy="371.3" r="1.0"/><circle cx="153.9" cy="368.8" r="1.0"/><circle cx="162.9" cy="369.2" r="1.0"/><circle cx="151.4" cy="372.1" r="1.0"/><circle cx="159.0" cy="364.0" r="1.0"/><circle cx="154.5" cy="362.3" r="1.0"/><circle cx="154.3" cy="372.4" r="1.0"/><circle cx="150.9" cy="368.9" r="1.0"/><circle cx="159.7" cy="364.8" r="1.0"/><circle cx="159.5" cy="362.5" r="1.0"/><circle cx="163.1" cy="370.6" r="1.0"/><circle cx="154.3" cy="362.4" r="1.0"/><circle cx="162.0" cy="371.8" r="1.0"/><circle cx="156.2" cy="369.5" r="1.0"/><circle cx="156.3" cy="363.2" r="1.0"/>
</g>
<path d="M146.1 371.8h0M148.4 372.6h0M140.8 372.6h0M149.9 372.9h0M145.7 372.8h0M145.9 371.5h0M145.1 372.3h0M141.1 371.7h0" stroke="#e0007a" stroke-width="2.0" stroke-linecap="round" fill="none"/>
<path d="M148.7 370.7h0M149.5 368.1h0M149.2 371.2h0M147.1 368.9h0M147.4 368.1h0M146.7 372.5h0M147.8 371.7h0M148.9 368.6h0M148.7 371.6h0M147.4 370.3h0" stroke="#a855e8" stroke-width="1.8" stroke-linecap="round" fill="none"/>
<path d="M111.2 302.4V375.0H188.0" stroke="#9a9a9a" stroke-width="0.5" fill="none"/>
<path d="M110.3 372.4H111.2" stroke="#9a9a9a" stroke-width="0.40"/>
<text x="109.90" y="373.55" font-size="3.2" text-anchor="end" fill="#4d4d4d" stroke="#4d4d4d" stroke-width="0.13">0</text>
<path d="M110.3 348.4H111.2" stroke="#9a9a9a" stroke-width="0.40"/>
<text x="109.90" y="349.55" font-size="3.2" text-anchor="end" fill="#4d4d4d" stroke="#4d4d4d" stroke-width="0.13">20</text>
<path d="M110.3 324.4H111.2" stroke="#9a9a9a" stroke-width="0.40"/>
<text x="109.90" y="325.55" font-size="3.2" text-anchor="end" fill="#4d4d4d" stroke="#4d4d4d" stroke-width="0.13">40</text>
<path d="M116.5 375.0V375.9" stroke="#9a9a9a" stroke-width="0.40"/>
<text x="116.50" y="378.70" font-size="3.2" text-anchor="middle" fill="#4d4d4d" stroke="#4d4d4d" stroke-width="0.13">−5</text>
<path d="M144.2 375.0V375.9" stroke="#9a9a9a" stroke-width="0.40"/>
<text x="144.20" y="378.70" font-size="3.2" text-anchor="middle" fill="#4d4d4d" stroke="#4d4d4d" stroke-width="0.13">0</text>
<path d="M171.9 375.0V375.9" stroke="#9a9a9a" stroke-width="0.40"/>
<text x="171.90" y="378.70" font-size="3.2" text-anchor="middle" fill="#4d4d4d" stroke="#4d4d4d" stroke-width="0.13">5</text>
<text x="153.50" y="382.40" font-size="3.0" text-anchor="middle" fill="#222" stroke="#222" stroke-width="0.12">log2(Severe/Healthy)</text>
<text x="104.80" y="338.00" font-size="3.0" text-anchor="middle" fill="#222" transform="rotate(-90 104.80 338.00)" stroke="#222" stroke-width="0.12">−log10(Padj)</text>
<circle cx="114.6" cy="304.3" r="0.6" fill="#a0102a"/>
<text x="116.70" y="305.20" font-size="2.55" text-anchor="start" fill="#222" stroke="#222" stroke-width="0.10">Retrotransposons</text>
<circle cx="114.6" cy="306.6" r="0.6" fill="#5a1060"/>
<text x="116.70" y="307.50" font-size="2.55" text-anchor="start" fill="#222" stroke="#222" stroke-width="0.10">DNA transposons</text>
<circle cx="114.6" cy="308.9" r="0.6" fill="#c8c8c8"/>
<text x="116.70" y="309.80" font-size="2.55" text-anchor="start" fill="#222" stroke="#222" stroke-width="0.10">Others</text>
<text x="161.60" y="306.30" font-size="2.45" text-anchor="start" fill="#333" stroke="#333" stroke-width="0.07">UBDC</text>
<text x="159.30" y="318.40" font-size="2.45" text-anchor="start" fill="#333" stroke="#333" stroke-width="0.07">TK1</text>
<text x="163.80" y="321.30" font-size="2.45" text-anchor="start" fill="#333" stroke="#333" stroke-width="0.07">CCNA2</text>
<text x="156.00" y="324.20" font-size="2.45" text-anchor="start" fill="#333" stroke="#333" stroke-width="0.07">PLK1</text>
<text x="165.00" y="324.20" font-size="2.45" text-anchor="start" fill="#333" stroke="#333" stroke-width="0.07">KIF20A</text>
<text x="171.70" y="325.30" font-size="2.45" text-anchor="start" fill="#333" stroke="#333" stroke-width="0.07">MPO</text>
<text x="152.60" y="327.00" font-size="2.45" text-anchor="start" fill="#333" stroke="#333" stroke-width="0.07">FOXM1</text>
<text x="163.00" y="327.50" font-size="2.45" text-anchor="start" fill="#333" stroke="#333" stroke-width="0.07">AURKB</text>
<text x="151.50" y="330.30" font-size="2.45" text-anchor="start" fill="#333" stroke="#333" stroke-width="0.07">BUB1</text>
<text x="165.00" y="330.80" font-size="2.45" text-anchor="start" fill="#333" stroke="#333" stroke-width="0.07">RRM2</text>
<text x="154.80" y="337.70" font-size="2.45" text-anchor="start" fill="#333" stroke="#333" stroke-width="0.07">CDCA8</text>
<text x="172.60" y="335.20" font-size="2.45" text-anchor="start" fill="#333" stroke="#333" stroke-width="0.07">AluS</text>
<text x="165.00" y="339.00" font-size="2.45" text-anchor="start" fill="#333" stroke="#333" stroke-width="0.07">MER41</text>
<text x="179.30" y="349.40" font-size="2.45" text-anchor="start" fill="#333" stroke="#333" stroke-width="0.07">IGLL1</text>
<text x="181.20" y="352.30" font-size="2.45" text-anchor="start" fill="#333" stroke="#333" stroke-width="0.07">LTR12C</text>
<text x="170.70" y="356.10" font-size="2.45" text-anchor="start" fill="#333" stroke="#333" stroke-width="0.07">THE1B</text>
<text x="170.70" y="359.00" font-size="2.45" text-anchor="start" fill="#333" stroke="#333" stroke-width="0.07">MSTA</text>
<text x="179.30" y="360.00" font-size="2.45" text-anchor="start" fill="#333" stroke="#333" stroke-width="0.07">L1PA7</text>
<text x="175.50" y="362.40" font-size="2.45" text-anchor="start" fill="#333" stroke="#333" stroke-width="0.07">AluY</text>
<text x="189.70" y="362.40" font-size="2.45" text-anchor="start" fill="#333" stroke="#333" stroke-width="0.07">SVA</text>
<text x="177.40" y="364.60" font-size="2.45" text-anchor="start" fill="#333" stroke="#333" stroke-width="0.07">MER4D</text>
<text x="182.10" y="367.50" font-size="2.45" text-anchor="start" fill="#333" stroke="#333" stroke-width="0.07">LTR7B</text>
<text x="187.80" y="371.30" font-size="2.45" text-anchor="start" fill="#333" stroke="#333" stroke-width="0.07">L1P</text>
<text x="169.80" y="325.70" font-size="2.45" text-anchor="start" fill="#333" stroke="#333" stroke-width="0.07">HERV3</text>
<text x="165.00" y="328.50" font-size="2.45" text-anchor="start" fill="#333" stroke="#333" stroke-width="0.07">MLT1</text>
<text x="167.90" y="331.40" font-size="2.45" text-anchor="start" fill="#333" stroke="#333" stroke-width="0.07">L2a</text>
<text x="165.00" y="305.70" font-size="2.45" text-anchor="start" fill="#333" stroke="#333" stroke-width="0.07">UCON</text>
<text x="122.90" y="356.20" font-size="2.45" text-anchor="start" fill="#333" stroke="#333" stroke-width="0.07">CACNA2D3</text>
<text x="121.20" y="359.80" font-size="2.45" text-anchor="start" fill="#333" stroke="#333" stroke-width="0.07">LOC1000</text>
<text x="119.00" y="362.60" font-size="2.45" text-anchor="start" fill="#333" stroke="#333" stroke-width="0.07">DSC3</text>
<text x="117.80" y="364.80" font-size="2.45" text-anchor="start" fill="#333" stroke="#333" stroke-width="0.07">NOG</text>
<text x="113.40" y="367.60" font-size="2.45" text-anchor="start" fill="#333" stroke="#333" stroke-width="0.07">PRAC FRAS</text>
<text x="112.20" y="370.40" font-size="2.45" text-anchor="start" fill="#333" stroke="#333" stroke-width="0.07">CLEC</text>
<text x="125.70" y="362.90" font-size="2.6" text-anchor="start" font-weight="bold" fill="#222">Nus1</text>
<text x="134.00" y="360.70" font-size="2.6" text-anchor="start" font-weight="bold" fill="#222">ad3K</text>
<text x="133.00" y="363.50" font-size="2.6" text-anchor="start" font-weight="bold" fill="#222">SST2</text>
<text x="133.00" y="366.30" font-size="2.6" text-anchor="start" font-weight="bold" fill="#222">SRM4</text>
<text x="175.50" y="344.10" font-size="2.6" text-anchor="start" font-weight="bold" fill="#222">sadS</text>
<text x="194.30" y="291.60" font-size="6.8" text-anchor="start" font-weight="bold" fill="#000">G</text>
<text x="205.30" y="292.90" font-size="4.45" text-anchor="start" font-weight="bold" fill="#000">Transposons expression of COVID−19 patients</text>
<g transform="translate(199.30 295.10) scale(4.3800 5.4070)" shape-rendering="crispEdges">
<path fill="#e0f3f8" d="M0 0h1v1h-1zM0 2h1v1h-1zM4 5h1v1h-1zM12 7h1v1h-1zM11 9h1v1h-1zM0 10h1v1h-1zM0 11h1v1h-1z"/>
<path fill="#e3f4f2" d="M1 0h1v1h-1zM2 0h1v1h-1zM4 0h1v1h-1zM0 1h1v1h-1zM4 1h1v1h-1zM2 2h1v1h-1zM4 3h1v1h-1zM0 4h1v1h-1zM1 5h1v1h-1zM2 6h1v1h-1zM5 6h1v1h-1zM9 6h1v1h-1zM2 8h1v1h-1zM0 9h1v1h-1zM3 9h1v1h-1zM0 12h1v1h-1z"/>
<path fill="#ecf8e1" d="M3 0h1v1h-1zM4 11h1v1h-1zM4 12h1v1h-1z"/>
<path fill="#f6fbd0" d="M5 0h1v1h-1zM7 0h1v1h-1zM10 0h1v1h-1zM8 2h1v1h-1zM8 3h1v1h-1zM6 4h1v1h-1zM9 7h1v1h-1zM5 8h1v1h-1zM9 10h1v1h-1zM10 11h1v1h-1zM8 12h1v1h-1zM4 13h1v1h-1zM8 13h1v1h-1z"/>
<path fill="#f9fdca" d="M6 0h1v1h-1zM9 0h1v1h-1zM12 0h1v1h-1zM8 1h1v1h-1zM11 2h1v1h-1zM5 3h1v1h-1zM12 4h1v1h-1zM5 5h1v1h-1zM6 6h1v1h-1zM10 8h1v1h-1zM5 11h1v1h-1zM5 12h1v1h-1zM6 13h1v1h-1z"/>
<path fill="#ffffbf" d="M8 0h1v1h-1zM11 0h1v1h-1zM9 1h1v1h-1zM11 1h1v1h-1zM12 1h1v1h-1zM7 2h1v1h-1zM10 2h1v1h-1zM5 4h1v1h-1zM10 4h1v1h-1zM9 5h1v1h-1zM8 6h1v1h-1zM5 9h1v1h-1zM9 11h1v1h-1zM12 11h1v1h-1z"/>
<path fill="#fff9b6" d="M13 0h1v1h-1zM10 1h1v1h-1zM13 1h1v1h-1zM9 2h1v1h-1zM8 4h1v1h-1zM13 4h1v1h-1zM7 5h1v1h-1zM10 6h1v1h-1zM13 6h1v1h-1zM16 6h1v1h-1zM18 6h1v1h-1zM1 7h1v1h-1zM8 7h1v1h-1zM13 7h1v1h-1zM12 8h1v1h-1zM6 9h1v1h-1zM12 9h1v1h-1zM13 9h1v1h-1zM5 10h1v1h-1zM12 10h1v1h-1zM7 11h1v1h-1zM8 11h1v1h-1zM11 11h1v1h-1zM13 11h1v1h-1zM6 12h1v1h-1zM11 12h1v1h-1zM13 12h1v1h-1zM7 13h1v1h-1zM12 13h1v1h-1z"/>
<path fill="#e24c36" d="M14 0h1v1h-1zM14 1h1v1h-1z"/>
<path fill="#fdc37d" d="M15 0h1v1h-1zM15 3h1v1h-1zM15 5h1v1h-1z"/>
<path fill="#fee395" d="M16 0h1v1h-1zM17 1h1v1h-1zM16 2h1v1h-1zM19 2h1v1h-1zM18 3h1v1h-1zM20 3h1v1h-1zM17 4h1v1h-1zM18 5h1v1h-1zM19 6h1v1h-1zM16 8h1v1h-1zM18 8h1v1h-1zM17 9h1v1h-1zM19 9h1v1h-1zM18 10h1v1h-1zM16 11h1v1h-1zM17 12h1v1h-1zM18 12h1v1h-1zM16 13h1v1h-1zM19 13h1v1h-1z"/>
<path fill="#fee699" d="M17 0h1v1h-1zM20 0h1v1h-1zM18 1h1v1h-1zM23 1h1v1h-1zM18 2h1v1h-1zM20 2h1v1h-1zM19 3h1v1h-1zM18 4h1v1h-1zM23 4h1v1h-1zM17 5h1v1h-1zM20 5h1v1h-1zM17 8h1v1h-1zM23 8h1v1h-1zM17 10h1v1h-1zM19 10h1v1h-1zM19 11h1v1h-1zM20 11h1v1h-1zM20 12h1v1h-1zM23 12h1v1h-1zM17 13h1v1h-1zM18 13h1v1h-1z"/>
<path fill="#fee090" d="M18 0h1v1h-1zM16 1h1v1h-1zM17 2h1v1h-1zM16 3h1v1h-1zM19 4h1v1h-1zM16 9h1v1h-1zM17 11h1v1h-1zM16 12h1v1h-1z"/>
<path fill="#fee99e" d="M19 0h1v1h-1zM23 0h1v1h-1zM20 1h1v1h-1zM22 2h1v1h-1zM17 3h1v1h-1zM23 3h1v1h-1zM20 4h1v1h-1zM19 5h1v1h-1zM23 5h1v1h-1zM0 6h1v1h-1zM7 7h1v1h-1zM19 7h1v1h-1zM22 7h1v1h-1zM19 8h1v1h-1zM18 9h1v1h-1zM23 9h1v1h-1zM20 10h1v1h-1zM22 10h1v1h-1zM18 11h1v1h-1zM23 11h1v1h-1zM19 12h1v1h-1zM20 13h1v1h-1zM23 13h1v1h-1z"/>
<path fill="#fff3ac" d="M21 0h1v1h-1zM24 0h1v1h-1zM24 1h1v1h-1zM21 2h1v1h-1zM24 3h1v1h-1zM7 4h1v1h-1zM21 4h1v1h-1zM8 5h1v1h-1zM24 5h1v1h-1zM7 6h1v1h-1zM24 6h1v1h-1zM21 7h1v1h-1zM24 8h1v1h-1zM21 9h1v1h-1zM24 9h1v1h-1zM7 10h1v1h-1zM10 10h1v1h-1zM21 10h1v1h-1zM6 11h1v1h-1zM24 11h1v1h-1zM21 12h1v1h-1zM24 12h1v1h-1zM21 13h1v1h-1zM24 13h1v1h-1z"/>
<path fill="#feeca3" d="M22 0h1v1h-1zM23 2h1v1h-1zM22 3h1v1h-1zM22 5h1v1h-1zM11 6h1v1h-1zM23 6h1v1h-1zM6 7h1v1h-1zM23 7h1v1h-1zM11 8h1v1h-1zM22 8h1v1h-1zM20 9h1v1h-1zM23 10h1v1h-1zM22 11h1v1h-1zM22 13h1v1h-1z"/>
<path fill="#e9f7e7" d="M1 1h1v1h-1zM11 3h1v1h-1zM4 4h1v1h-1zM2 7h1v1h-1zM3 7h1v1h-1zM4 8h1v1h-1zM2 10h1v1h-1zM8 10h1v1h-1zM3 13h1v1h-1z"/>
<path fill="#c8e3ef" d="M2 1h1v1h-1zM2 4h1v1h-1zM0 8h1v1h-1zM2 11h1v1h-1zM2 12h1v1h-1zM2 13h1v1h-1z"/>
<path fill="#d0e9f2" d="M3 1h1v1h-1zM4 6h1v1h-1zM5 7h1v1h-1zM3 11h1v1h-1z"/>
<path fill="#fff6b1" d="M5 1h1v1h-1zM5 2h1v1h-1zM13 2h1v1h-1zM24 2h1v1h-1zM7 3h1v1h-1zM10 3h1v1h-1zM21 3h1v1h-1zM11 4h1v1h-1zM24 4h1v1h-1zM10 5h1v1h-1zM21 5h1v1h-1zM21 6h1v1h-1zM10 7h1v1h-1zM18 7h1v1h-1zM24 7h1v1h-1zM6 8h1v1h-1zM21 8h1v1h-1zM9 9h1v1h-1zM6 10h1v1h-1zM13 10h1v1h-1zM24 10h1v1h-1zM21 11h1v1h-1zM10 13h1v1h-1z"/>
<path fill="#fef0a8" d="M6 1h1v1h-1zM21 1h1v1h-1zM22 1h1v1h-1zM6 2h1v1h-1zM22 4h1v1h-1zM6 5h1v1h-1zM1 6h1v1h-1zM22 6h1v1h-1zM7 8h1v1h-1zM20 8h1v1h-1zM22 9h1v1h-1zM22 12h1v1h-1z"/>
<path fill="#fffcba" d="M7 1h1v1h-1zM12 2h1v1h-1zM6 3h1v1h-1zM13 3h1v1h-1zM12 5h1v1h-1zM13 5h1v1h-1zM17 6h1v1h-1zM11 7h1v1h-1zM16 7h1v1h-1zM17 7h1v1h-1zM9 8h1v1h-1zM13 8h1v1h-1zM11 10h1v1h-1zM9 12h1v1h-1zM12 12h1v1h-1zM5 13h1v1h-1zM9 13h1v1h-1zM13 13h1v1h-1z"/>
<path fill="#fdb272" d="M15 1h1v1h-1z"/>
<path fill="#fed88b" d="M19 1h1v1h-1zM16 10h1v1h-1z"/>
<path fill="#f3fad6" d="M1 2h1v1h-1zM1 8h1v1h-1zM4 9h1v1h-1zM7 9h1v1h-1zM4 10h1v1h-1z"/>
<path fill="#c0deec" d="M3 2h1v1h-1zM2 3h1v1h-1zM0 13h1v1h-1z"/>
<path fill="#e6f5ed" d="M4 2h1v1h-1zM0 3h1v1h-1zM1 4h1v1h-1zM2 5h1v1h-1zM4 7h1v1h-1zM2 9h1v1h-1zM1 10h1v1h-1zM1 11h1v1h-1zM1 12h1v1h-1zM10 12h1v1h-1z"/>
<path fill="#f1714a" d="M14 2h1v1h-1zM14 10h1v1h-1z"/>
<path fill="#fdbb77" d="M15 2h1v1h-1zM15 4h1v1h-1z"/>
<path fill="#f0f9dc" d="M1 3h1v1h-1zM12 3h1v1h-1zM0 7h1v1h-1zM3 8h1v1h-1zM1 9h1v1h-1zM3 10h1v1h-1zM3 12h1v1h-1zM1 13h1v1h-1z"/>
<path fill="#b8d9ea" d="M3 3h1v1h-1zM3 4h1v1h-1zM3 5h1v1h-1zM3 6h1v1h-1z"/>
<path fill="#fcfec5" d="M9 3h1v1h-1zM9 4h1v1h-1zM11 5h1v1h-1zM12 6h1v1h-1zM8 8h1v1h-1zM8 9h1v1h-1zM10 9h1v1h-1zM7 12h1v1h-1zM11 13h1v1h-1z"/>
<path fill="#fc8d59" d="M14 3h1v1h-1zM14 4h1v1h-1zM20 7h1v1h-1zM14 13h1v1h-1z"/>
<path fill="#fdbf7a" d="M16 4h1v1h-1z"/>
<path fill="#b1d4e7" d="M0 5h1v1h-1z"/>
<path fill="#fc9e64" d="M14 5h1v1h-1z"/>
<path fill="#fdb674" d="M16 5h1v1h-1z"/>
<path fill="#ed6845" d="M14 6h1v1h-1zM14 9h1v1h-1zM14 12h1v1h-1z"/>
<path fill="#fee292" d="M15 6h1v1h-1z"/>
<path fill="#fecf85" d="M20 6h1v1h-1z"/>
<path fill="#ea5e40" d="M14 7h1v1h-1z"/>
<path fill="#fed488" d="M15 7h1v1h-1zM15 9h1v1h-1zM15 11h1v1h-1z"/>
<path fill="#e6553b" d="M14 8h1v1h-1z"/>
<path fill="#fecb82" d="M15 8h1v1h-1zM15 10h1v1h-1zM15 12h1v1h-1z"/>
<path fill="#f57a4f" d="M14 11h1v1h-1z"/>
<path fill="#fedc8d" d="M15 13h1v1h-1z"/>
</g>
<text x="310.10" y="299.20" font-size="3.0" text-anchor="start" fill="#3a3a3a" stroke="#3a3a3a" stroke-width="0.04">ALR/Alpha:centr:Satellite</text>
<text x="310.10" y="304.61" font-size="3.0" text-anchor="start" fill="#3a3a3a" stroke="#3a3a3a" stroke-width="0.04">HERVH-int:ERV1:LTR</text>
<text x="310.10" y="310.02" font-size="3.0" text-anchor="start" fill="#3a3a3a" stroke="#3a3a3a" stroke-width="0.04">HSATII:Satellite:Satellite</text>
<text x="310.10" y="315.42" font-size="3.0" text-anchor="start" fill="#3a3a3a" stroke="#3a3a3a" stroke-width="0.04">MER52-AA:ERV1:LTR</text>
<text x="310.10" y="320.83" font-size="3.0" text-anchor="start" fill="#3a3a3a" stroke="#3a3a3a" stroke-width="0.04">HERVL18-int:ERVL:LTR</text>
<text x="310.10" y="326.24" font-size="3.0" text-anchor="start" fill="#3a3a3a" stroke="#3a3a3a" stroke-width="0.04">SATR2:Satellite:Satellite</text>
<text x="310.10" y="331.65" font-size="3.0" text-anchor="start" fill="#3a3a3a" stroke="#3a3a3a" stroke-width="0.04">HERV1_I-int:ERV1:LTR</text>
<text x="310.10" y="337.05" font-size="3.0" text-anchor="start" fill="#3a3a3a" stroke="#3a3a3a" stroke-width="0.04">LTR7Y:ERV1:LTR</text>
<text x="310.10" y="342.46" font-size="3.0" text-anchor="start" fill="#3a3a3a" stroke="#3a3a3a" stroke-width="0.04">BSR/Beta:Satellite:Satellite</text>
<text x="310.10" y="347.87" font-size="3.0" text-anchor="start" fill="#3a3a3a" stroke="#3a3a3a" stroke-width="0.04">L1PB4:L1:LINE</text>
<text x="310.10" y="353.27" font-size="3.0" text-anchor="start" fill="#3a3a3a" stroke="#3a3a3a" stroke-width="0.04">GSATII:Satellite:Satellite</text>
<text x="310.10" y="358.68" font-size="3.0" text-anchor="start" fill="#3a3a3a" stroke="#3a3a3a" stroke-width="0.04">L1M5a:L1:LINE</text>
<text x="310.10" y="364.09" font-size="3.0" text-anchor="start" fill="#3a3a3a" stroke="#3a3a3a" stroke-width="0.04">CER:Satellite:Satellite</text>
<text x="310.10" y="369.49" font-size="3.0" text-anchor="start" fill="#3a3a3a" stroke="#3a3a3a" stroke-width="0.04">SATR1:Satellite:Satellite</text>
<rect x="348.8" y="294.80" width="1.8" height="1.28" fill="#dc3c2d"/>
<rect x="348.8" y="296.03" width="1.8" height="1.28" fill="#e5533a"/>
<rect x="348.8" y="297.26" width="1.8" height="1.28" fill="#ee6a46"/>
<rect x="348.8" y="298.49" width="1.8" height="1.28" fill="#f78153"/>
<rect x="348.8" y="299.72" width="1.8" height="1.28" fill="#fc9760"/>
<rect x="348.8" y="300.95" width="1.8" height="1.28" fill="#fdac6e"/>
<rect x="348.8" y="302.18" width="1.8" height="1.28" fill="#fdc17b"/>
<rect x="348.8" y="303.40" width="1.8" height="1.28" fill="#fed689"/>
<rect x="348.8" y="304.63" width="1.8" height="1.28" fill="#fee496"/>
<rect x="348.8" y="305.86" width="1.8" height="1.28" fill="#feeca2"/>
<rect x="348.8" y="307.09" width="1.8" height="1.28" fill="#fff3ad"/>
<rect x="348.8" y="308.32" width="1.8" height="1.28" fill="#fffbb9"/>
<rect x="348.8" y="309.55" width="1.8" height="1.28" fill="#fbfec6"/>
<rect x="348.8" y="310.78" width="1.8" height="1.28" fill="#f3fad4"/>
<rect x="348.8" y="312.01" width="1.8" height="1.28" fill="#ecf8e3"/>
<rect x="348.8" y="313.24" width="1.8" height="1.28" fill="#e4f4f1"/>
<rect x="348.8" y="314.47" width="1.8" height="1.28" fill="#d6ecf4"/>
<rect x="348.8" y="315.70" width="1.8" height="1.28" fill="#c2e0ed"/>
<rect x="348.8" y="316.93" width="1.8" height="1.28" fill="#afd2e6"/>
<rect x="348.8" y="318.15" width="1.8" height="1.28" fill="#9bc6df"/>
<rect x="348.8" y="319.38" width="1.8" height="1.28" fill="#88b6d6"/>
<rect x="348.8" y="320.61" width="1.8" height="1.28" fill="#74a3cc"/>
<rect x="348.8" y="321.84" width="1.8" height="1.28" fill="#6291c3"/>
<rect x="348.8" y="323.07" width="1.8" height="1.28" fill="#4e7eb9"/>
<text x="352.00" y="296.80" font-size="3.4" text-anchor="start" fill="#333" stroke="#333" stroke-width="0.14">3</text>
<text x="352.00" y="301.60" font-size="3.4" text-anchor="start" fill="#333" stroke="#333" stroke-width="0.14">2</text>
<text x="352.00" y="306.00" font-size="3.4" text-anchor="start" fill="#333" stroke="#333" stroke-width="0.14">1</text>
<text x="352.00" y="310.80" font-size="3.4" text-anchor="start" fill="#333" stroke="#333" stroke-width="0.14">0</text>
<text x="352.00" y="315.50" font-size="3.4" text-anchor="start" fill="#333" stroke="#333" stroke-width="0.14">−1</text>
<text x="352.00" y="320.20" font-size="3.4" text-anchor="start" fill="#333" stroke="#333" stroke-width="0.14">−2</text>
<text x="352.00" y="325.00" font-size="3.4" text-anchor="start" fill="#333" stroke="#333" stroke-width="0.14">−3</text>
<text x="202.59" y="372.00" font-size="3.05" text-anchor="end" fill="#333" transform="rotate(-90 202.59 372.00)" stroke="#333" stroke-width="0.06">Healthy 1</text>
<text x="206.97" y="372.00" font-size="3.05" text-anchor="end" fill="#333" transform="rotate(-90 206.97 372.00)" stroke="#333" stroke-width="0.06">Healthy 10</text>
<text x="211.35" y="372.00" font-size="3.05" text-anchor="end" fill="#333" transform="rotate(-90 211.35 372.00)" stroke="#333" stroke-width="0.06">Healthy 11</text>
<text x="215.73" y="372.00" font-size="3.05" text-anchor="end" fill="#333" transform="rotate(-90 215.73 372.00)" stroke="#333" stroke-width="0.06">Healthy 12</text>
<text x="220.11" y="372.00" font-size="3.05" text-anchor="end" fill="#333" transform="rotate(-90 220.11 372.00)" stroke="#333" stroke-width="0.06">Healthy 13</text>
<text x="224.49" y="372.00" font-size="3.05" text-anchor="end" fill="#333" transform="rotate(-90 224.49 372.00)" stroke="#333" stroke-width="0.06">Healthy 2</text>
<text x="228.87" y="372.00" font-size="3.05" text-anchor="end" fill="#333" transform="rotate(-90 228.87 372.00)" stroke="#333" stroke-width="0.06">COVID_Severe 4</text>
<text x="233.25" y="372.00" font-size="3.05" text-anchor="end" fill="#333" transform="rotate(-90 233.25 372.00)" stroke="#333" stroke-width="0.06">Healthy 3</text>
<text x="237.63" y="372.00" font-size="3.05" text-anchor="end" fill="#333" transform="rotate(-90 237.63 372.00)" stroke="#333" stroke-width="0.06">Healthy 4</text>
<text x="242.01" y="372.00" font-size="3.05" text-anchor="end" fill="#333" transform="rotate(-90 242.01 372.00)" stroke="#333" stroke-width="0.06">Healthy 5</text>
<text x="246.39" y="372.00" font-size="3.05" text-anchor="end" fill="#333" transform="rotate(-90 246.39 372.00)" stroke="#333" stroke-width="0.06">Healthy 6</text>
<text x="250.77" y="372.00" font-size="3.05" text-anchor="end" fill="#333" transform="rotate(-90 250.77 372.00)" stroke="#333" stroke-width="0.06">Healthy 7</text>
<text x="255.15" y="372.00" font-size="3.05" text-anchor="end" fill="#333" transform="rotate(-90 255.15 372.00)" stroke="#333" stroke-width="0.06">COVID_Moderate 4</text>
<text x="259.53" y="372.00" font-size="3.05" text-anchor="end" fill="#333" transform="rotate(-90 259.53 372.00)" stroke="#333" stroke-width="0.06">COVID_Severe 1</text>
<text x="263.91" y="372.00" font-size="3.05" text-anchor="end" fill="#333" transform="rotate(-90 263.91 372.00)" stroke="#333" stroke-width="0.06">COVID_ICU 1</text>
<text x="268.29" y="372.00" font-size="3.05" text-anchor="end" fill="#333" transform="rotate(-90 268.29 372.00)" stroke="#333" stroke-width="0.06">COVID_ICU 2</text>
<text x="272.67" y="372.00" font-size="3.05" text-anchor="end" fill="#333" transform="rotate(-90 272.67 372.00)" stroke="#333" stroke-width="0.06">COVID_Severe 5</text>
<text x="277.05" y="372.00" font-size="3.05" text-anchor="end" fill="#333" transform="rotate(-90 277.05 372.00)" stroke="#333" stroke-width="0.06">COVID_Moderate 3</text>
<text x="281.43" y="372.00" font-size="3.05" text-anchor="end" fill="#333" transform="rotate(-90 281.43 372.00)" stroke="#333" stroke-width="0.06">COVID_Severe 2</text>
<text x="285.81" y="372.00" font-size="3.05" text-anchor="end" fill="#333" transform="rotate(-90 285.81 372.00)" stroke="#333" stroke-width="0.06">COVID_ICU 3</text>
<text x="290.19" y="372.00" font-size="3.05" text-anchor="end" fill="#333" transform="rotate(-90 290.19 372.00)" stroke="#333" stroke-width="0.06">COVID_Moderate 2</text>
<text x="294.57" y="372.00" font-size="3.05" text-anchor="end" fill="#333" transform="rotate(-90 294.57 372.00)" stroke="#333" stroke-width="0.06">COVID_Severe 6</text>
<text x="298.95" y="372.00" font-size="3.05" text-anchor="end" fill="#333" transform="rotate(-90 298.95 372.00)" stroke="#333" stroke-width="0.06">COVID_Severe 3</text>
<text x="303.33" y="372.00" font-size="3.05" text-anchor="end" fill="#333" transform="rotate(-90 303.33 372.00)" stroke="#333" stroke-width="0.06">COVID_Moderate 1</text>
<text x="307.71" y="372.00" font-size="3.05" text-anchor="end" fill="#333" transform="rotate(-90 307.71 372.00)" stroke="#333" stroke-width="0.06">COVID_Severe 7</text>
</svg></body></html>
